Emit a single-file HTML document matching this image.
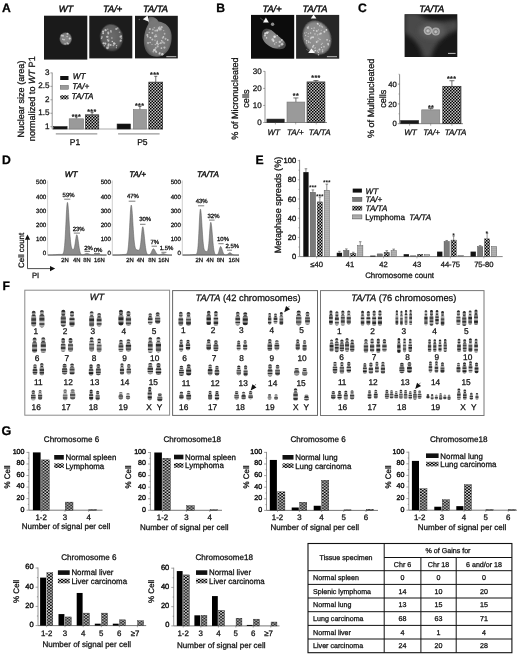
<!DOCTYPE html>
<html><head><meta charset="utf-8"><title>Figure</title>
<style>html,body{margin:0;padding:0;background:#fff;}svg{display:block;}
text{font-family:"Liberation Sans", Arial, sans-serif;stroke:#111;stroke-width:0.28px;text-rendering:geometricPrecision;}</style></head>
<body><svg width="520" height="654" viewBox="0 0 520 654">
<rect width="520" height="654" fill="#fff"/>
<defs>
<pattern id="chk" width="3" height="3" patternUnits="userSpaceOnUse"><rect width="3" height="3" fill="#c4c4c4"/><rect width="1.5" height="1.5" fill="#000"/><rect x="1.5" y="1.5" width="1.5" height="1.5" fill="#000"/></pattern>
<pattern id="chk2" width="3.7" height="2.9" patternUnits="userSpaceOnUse"><rect width="3.7" height="2.9" fill="#d8d8d8"/><rect width="1.85" height="1.45" fill="#000"/><rect x="1.85" y="1.45" width="1.85" height="1.45" fill="#000"/></pattern>
<pattern id="lym" width="3" height="2" patternUnits="userSpaceOnUse"><rect width="3" height="2" fill="#a8a8a8"/><rect y="1.2" width="3" height="0.5" fill="#bdbdbd"/></pattern>
<radialGradient id="nucA1" cx="0.5" cy="0.5" r="0.5"><stop offset="0" stop-color="#8c8c8c"/><stop offset="0.8" stop-color="#7a7a7a"/><stop offset="1" stop-color="#4a4a4a"/></radialGradient>
<radialGradient id="nuc" cx="0.5" cy="0.45" r="0.55"><stop offset="0" stop-color="#6c6c6c"/><stop offset="0.75" stop-color="#5e5e5e"/><stop offset="1" stop-color="#323232"/></radialGradient>
<radialGradient id="nucB2" cx="0.5" cy="0.5" r="0.5"><stop offset="0" stop-color="#969696"/><stop offset="0.85" stop-color="#888"/><stop offset="1" stop-color="#555"/></radialGradient>
<radialGradient id="nucB" cx="0.5" cy="0.5" r="0.5"><stop offset="0" stop-color="#909090"/><stop offset="0.85" stop-color="#808080"/><stop offset="1" stop-color="#4a4a4a"/></radialGradient>
<radialGradient id="cyto" cx="0.5" cy="0.5" r="0.5"><stop offset="0" stop-color="#5a5a5a"/><stop offset="1" stop-color="#2a2a2a" stop-opacity="0"/></radialGradient>
<linearGradient id="cb0" x1="0" y1="0" x2="0" y2="1"><stop offset="0.0" stop-color="#131313"/><stop offset="0.1" stop-color="#292929"/><stop offset="0.15" stop-color="#7d7d7d"/><stop offset="0.22" stop-color="#7d7d7d"/><stop offset="0.27" stop-color="#3a3a3a"/><stop offset="0.31" stop-color="#3a3a3a"/><stop offset="0.36" stop-color="#7c7c7c"/><stop offset="0.424" stop-color="#7c7c7c"/><stop offset="0.467" stop-color="#3b3b3b"/><stop offset="0.537" stop-color="#3b3b3b"/><stop offset="0.585" stop-color="#7e7e7e"/><stop offset="0.652" stop-color="#7e7e7e"/><stop offset="0.698" stop-color="#2d2d2d"/><stop offset="0.755" stop-color="#2d2d2d"/><stop offset="0.794" stop-color="#979797"/><stop offset="0.875" stop-color="#979797"/><stop offset="0.93" stop-color="#333333"/><stop offset="0.97" stop-color="#333333"/><stop offset="1.0" stop-color="#353535"/></linearGradient>
<linearGradient id="cb1" x1="0" y1="0" x2="0" y2="1"><stop offset="0.0" stop-color="#282828"/><stop offset="0.1" stop-color="#1c1c1c"/><stop offset="0.15" stop-color="#787878"/><stop offset="0.22" stop-color="#787878"/><stop offset="0.27" stop-color="#343434"/><stop offset="0.31" stop-color="#343434"/><stop offset="0.36" stop-color="#858585"/><stop offset="0.452" stop-color="#858585"/><stop offset="0.513" stop-color="#1d1d1d"/><stop offset="0.616" stop-color="#1d1d1d"/><stop offset="0.684" stop-color="#888888"/><stop offset="0.772" stop-color="#888888"/><stop offset="0.83" stop-color="#191919"/><stop offset="0.926" stop-color="#191919"/><stop offset="1.0" stop-color="#424242"/></linearGradient>
<linearGradient id="cb2" x1="0" y1="0" x2="0" y2="1"><stop offset="0.0" stop-color="#2b2b2b"/><stop offset="0.1" stop-color="#3c3c3c"/><stop offset="0.15" stop-color="#969696"/><stop offset="0.22" stop-color="#969696"/><stop offset="0.27" stop-color="#303030"/><stop offset="0.31" stop-color="#303030"/><stop offset="0.36" stop-color="#7c7c7c"/><stop offset="0.436" stop-color="#7c7c7c"/><stop offset="0.487" stop-color="#2d2d2d"/><stop offset="0.581" stop-color="#2d2d2d"/><stop offset="0.644" stop-color="#b5b5b5"/><stop offset="0.723" stop-color="#b5b5b5"/><stop offset="0.776" stop-color="#3e3e3e"/><stop offset="0.836" stop-color="#3e3e3e"/><stop offset="0.877" stop-color="#a0a0a0"/><stop offset="0.963" stop-color="#a0a0a0"/><stop offset="1.0" stop-color="#303030"/></linearGradient>
<linearGradient id="cb3" x1="0" y1="0" x2="0" y2="1"><stop offset="0.0" stop-color="#292929"/><stop offset="0.1" stop-color="#383838"/><stop offset="0.15" stop-color="#939393"/><stop offset="0.22" stop-color="#939393"/><stop offset="0.27" stop-color="#424242"/><stop offset="0.31" stop-color="#424242"/><stop offset="0.36" stop-color="#b6b6b6"/><stop offset="0.446" stop-color="#b6b6b6"/><stop offset="0.504" stop-color="#323232"/><stop offset="0.583" stop-color="#323232"/><stop offset="0.636" stop-color="#7c7c7c"/><stop offset="0.706" stop-color="#7c7c7c"/><stop offset="0.753" stop-color="#414141"/><stop offset="0.852" stop-color="#414141"/><stop offset="0.918" stop-color="#828282"/><stop offset="0.97" stop-color="#828282"/><stop offset="1.0" stop-color="#4f4f4f"/></linearGradient>
<linearGradient id="cb4" x1="0" y1="0" x2="0" y2="1"><stop offset="0.0" stop-color="#202020"/><stop offset="0.1" stop-color="#222222"/><stop offset="0.15" stop-color="#8d8d8d"/><stop offset="0.22" stop-color="#8d8d8d"/><stop offset="0.27" stop-color="#353535"/><stop offset="0.31" stop-color="#353535"/><stop offset="0.36" stop-color="#818181"/><stop offset="0.441" stop-color="#818181"/><stop offset="0.495" stop-color="#303030"/><stop offset="0.587" stop-color="#303030"/><stop offset="0.648" stop-color="#a3a3a3"/><stop offset="0.73" stop-color="#a3a3a3"/><stop offset="0.785" stop-color="#3d3d3d"/><stop offset="0.834" stop-color="#3d3d3d"/><stop offset="0.867" stop-color="#a6a6a6"/><stop offset="0.92" stop-color="#a6a6a6"/><stop offset="1.0" stop-color="#303030"/></linearGradient>
<linearGradient id="cb5" x1="0" y1="0" x2="0" y2="1"><stop offset="0.0" stop-color="#262626"/><stop offset="0.1" stop-color="#262626"/><stop offset="0.15" stop-color="#919191"/><stop offset="0.22" stop-color="#919191"/><stop offset="0.27" stop-color="#424242"/><stop offset="0.31" stop-color="#424242"/><stop offset="0.36" stop-color="#7f7f7f"/><stop offset="0.438" stop-color="#7f7f7f"/><stop offset="0.49" stop-color="#373737"/><stop offset="0.576" stop-color="#373737"/><stop offset="0.634" stop-color="#959595"/><stop offset="0.74" stop-color="#959595"/><stop offset="0.81" stop-color="#232323"/><stop offset="0.891" stop-color="#232323"/><stop offset="0.945" stop-color="#b0b0b0"/><stop offset="0.97" stop-color="#b0b0b0"/><stop offset="1.0" stop-color="#484848"/></linearGradient>
<linearGradient id="cb6" x1="0" y1="0" x2="0" y2="1"><stop offset="0.0" stop-color="#2d2d2d"/><stop offset="0.1" stop-color="#1a1a1a"/><stop offset="0.15" stop-color="#787878"/><stop offset="0.22" stop-color="#787878"/><stop offset="0.27" stop-color="#282828"/><stop offset="0.31" stop-color="#282828"/><stop offset="0.36" stop-color="#7a7a7a"/><stop offset="0.435" stop-color="#7a7a7a"/><stop offset="0.486" stop-color="#2e2e2e"/><stop offset="0.549" stop-color="#2e2e2e"/><stop offset="0.591" stop-color="#afafaf"/><stop offset="0.68" stop-color="#afafaf"/><stop offset="0.74" stop-color="#181818"/><stop offset="0.826" stop-color="#181818"/><stop offset="0.883" stop-color="#808080"/><stop offset="0.938" stop-color="#808080"/><stop offset="1.0" stop-color="#505050"/></linearGradient>
<linearGradient id="cb7" x1="0" y1="0" x2="0" y2="1"><stop offset="0.0" stop-color="#262626"/><stop offset="0.1" stop-color="#1d1d1d"/><stop offset="0.15" stop-color="#7d7d7d"/><stop offset="0.22" stop-color="#7d7d7d"/><stop offset="0.27" stop-color="#3b3b3b"/><stop offset="0.31" stop-color="#3b3b3b"/><stop offset="0.36" stop-color="#a8a8a8"/><stop offset="0.462" stop-color="#a8a8a8"/><stop offset="0.53" stop-color="#444444"/><stop offset="0.582" stop-color="#444444"/><stop offset="0.617" stop-color="#7b7b7b"/><stop offset="0.703" stop-color="#7b7b7b"/><stop offset="0.761" stop-color="#282828"/><stop offset="0.868" stop-color="#282828"/><stop offset="0.939" stop-color="#7c7c7c"/><stop offset="0.97" stop-color="#7c7c7c"/><stop offset="1.0" stop-color="#606060"/></linearGradient>
<linearGradient id="cb8" x1="0" y1="0" x2="0" y2="1"><stop offset="0.0" stop-color="#252525"/><stop offset="0.1" stop-color="#323232"/><stop offset="0.15" stop-color="#8e8e8e"/><stop offset="0.22" stop-color="#8e8e8e"/><stop offset="0.27" stop-color="#212121"/><stop offset="0.31" stop-color="#212121"/><stop offset="0.36" stop-color="#8c8c8c"/><stop offset="0.446" stop-color="#8c8c8c"/><stop offset="0.504" stop-color="#323232"/><stop offset="0.605" stop-color="#323232"/><stop offset="0.672" stop-color="#8a8a8a"/><stop offset="0.724" stop-color="#8a8a8a"/><stop offset="0.759" stop-color="#272727"/><stop offset="0.829" stop-color="#272727"/><stop offset="0.876" stop-color="#7f7f7f"/><stop offset="0.969" stop-color="#7f7f7f"/><stop offset="1.0" stop-color="#606060"/></linearGradient>
<linearGradient id="cb9" x1="0" y1="0" x2="0" y2="1"><stop offset="0.0" stop-color="#282828"/><stop offset="0.1" stop-color="#3a3a3a"/><stop offset="0.15" stop-color="#8b8b8b"/><stop offset="0.22" stop-color="#8b8b8b"/><stop offset="0.27" stop-color="#292929"/><stop offset="0.31" stop-color="#292929"/><stop offset="0.36" stop-color="#9d9d9d"/><stop offset="0.463" stop-color="#9d9d9d"/><stop offset="0.531" stop-color="#303030"/><stop offset="0.626" stop-color="#303030"/><stop offset="0.689" stop-color="#a3a3a3"/><stop offset="0.759" stop-color="#a3a3a3"/><stop offset="0.806" stop-color="#404040"/><stop offset="0.885" stop-color="#404040"/><stop offset="0.938" stop-color="#a9a9a9"/><stop offset="0.97" stop-color="#a9a9a9"/><stop offset="1.0" stop-color="#4b4b4b"/></linearGradient>
<linearGradient id="cb10" x1="0" y1="0" x2="0" y2="1"><stop offset="0.0" stop-color="#131313"/><stop offset="0.1" stop-color="#202020"/><stop offset="0.15" stop-color="#959595"/><stop offset="0.22" stop-color="#959595"/><stop offset="0.27" stop-color="#212121"/><stop offset="0.31" stop-color="#212121"/><stop offset="0.36" stop-color="#b1b1b1"/><stop offset="0.429" stop-color="#b1b1b1"/><stop offset="0.475" stop-color="#4a4a4a"/><stop offset="0.541" stop-color="#4a4a4a"/><stop offset="0.585" stop-color="#8c8c8c"/><stop offset="0.68" stop-color="#8c8c8c"/><stop offset="0.743" stop-color="#4f4f4f"/><stop offset="0.822" stop-color="#4f4f4f"/><stop offset="0.875" stop-color="#898989"/><stop offset="0.954" stop-color="#898989"/><stop offset="1.0" stop-color="#454545"/></linearGradient>
<linearGradient id="cb11" x1="0" y1="0" x2="0" y2="1"><stop offset="0.0" stop-color="#303030"/><stop offset="0.1" stop-color="#1e1e1e"/><stop offset="0.15" stop-color="#9a9a9a"/><stop offset="0.22" stop-color="#9a9a9a"/><stop offset="0.27" stop-color="#373737"/><stop offset="0.31" stop-color="#373737"/><stop offset="0.36" stop-color="#a3a3a3"/><stop offset="0.421" stop-color="#a3a3a3"/><stop offset="0.462" stop-color="#383838"/><stop offset="0.516" stop-color="#383838"/><stop offset="0.552" stop-color="#a1a1a1"/><stop offset="0.614" stop-color="#a1a1a1"/><stop offset="0.656" stop-color="#1a1a1a"/><stop offset="0.72" stop-color="#1a1a1a"/><stop offset="0.763" stop-color="#828282"/><stop offset="0.867" stop-color="#828282"/><stop offset="0.936" stop-color="#383838"/><stop offset="0.97" stop-color="#383838"/><stop offset="1.0" stop-color="#3c3c3c"/></linearGradient>
<linearGradient id="cb12" x1="0" y1="0" x2="0" y2="1"><stop offset="0.0" stop-color="#111111"/><stop offset="0.1" stop-color="#242424"/><stop offset="0.15" stop-color="#898989"/><stop offset="0.22" stop-color="#898989"/><stop offset="0.27" stop-color="#444444"/><stop offset="0.31" stop-color="#444444"/><stop offset="0.36" stop-color="#a0a0a0"/><stop offset="0.422" stop-color="#a0a0a0"/><stop offset="0.463" stop-color="#3b3b3b"/><stop offset="0.516" stop-color="#3b3b3b"/><stop offset="0.551" stop-color="#898989"/><stop offset="0.632" stop-color="#898989"/><stop offset="0.685" stop-color="#363636"/><stop offset="0.78" stop-color="#363636"/><stop offset="0.844" stop-color="#aaaaaa"/><stop offset="0.921" stop-color="#aaaaaa"/><stop offset="1.0" stop-color="#313131"/></linearGradient>
<linearGradient id="cb13" x1="0" y1="0" x2="0" y2="1"><stop offset="0.0" stop-color="#202020"/><stop offset="0.1" stop-color="#3c3c3c"/><stop offset="0.15" stop-color="#afafaf"/><stop offset="0.22" stop-color="#afafaf"/><stop offset="0.27" stop-color="#3f3f3f"/><stop offset="0.31" stop-color="#3f3f3f"/><stop offset="0.36" stop-color="#949494"/><stop offset="0.428" stop-color="#949494"/><stop offset="0.474" stop-color="#202020"/><stop offset="0.572" stop-color="#202020"/><stop offset="0.638" stop-color="#787878"/><stop offset="0.723" stop-color="#787878"/><stop offset="0.779" stop-color="#4a4a4a"/><stop offset="0.881" stop-color="#4a4a4a"/><stop offset="0.949" stop-color="#b7b7b7"/><stop offset="0.97" stop-color="#b7b7b7"/><stop offset="1.0" stop-color="#454545"/></linearGradient>
<linearGradient id="cb14" x1="0" y1="0" x2="0" y2="1"><stop offset="0.0" stop-color="#171717"/><stop offset="0.1" stop-color="#1b1b1b"/><stop offset="0.15" stop-color="#8f8f8f"/><stop offset="0.22" stop-color="#8f8f8f"/><stop offset="0.27" stop-color="#3d3d3d"/><stop offset="0.31" stop-color="#3d3d3d"/><stop offset="0.36" stop-color="#adadad"/><stop offset="0.43" stop-color="#adadad"/><stop offset="0.476" stop-color="#252525"/><stop offset="0.543" stop-color="#252525"/><stop offset="0.588" stop-color="#a3a3a3"/><stop offset="0.682" stop-color="#a3a3a3"/><stop offset="0.745" stop-color="#242424"/><stop offset="0.841" stop-color="#242424"/><stop offset="0.906" stop-color="#8f8f8f"/><stop offset="0.97" stop-color="#8f8f8f"/><stop offset="1.0" stop-color="#484848"/></linearGradient>
<linearGradient id="cb15" x1="0" y1="0" x2="0" y2="1"><stop offset="0.0" stop-color="#131313"/><stop offset="0.1" stop-color="#323232"/><stop offset="0.15" stop-color="#909090"/><stop offset="0.22" stop-color="#909090"/><stop offset="0.27" stop-color="#404040"/><stop offset="0.31" stop-color="#404040"/><stop offset="0.36" stop-color="#8e8e8e"/><stop offset="0.424" stop-color="#8e8e8e"/><stop offset="0.467" stop-color="#303030"/><stop offset="0.566" stop-color="#303030"/><stop offset="0.632" stop-color="#9d9d9d"/><stop offset="0.702" stop-color="#9d9d9d"/><stop offset="0.749" stop-color="#282828"/><stop offset="0.804" stop-color="#282828"/><stop offset="0.841" stop-color="#a1a1a1"/><stop offset="0.919" stop-color="#a1a1a1"/><stop offset="1.0" stop-color="#333333"/></linearGradient>
<filter id="bl3" x="-50%" y="-50%" width="200%" height="200%"><feGaussianBlur stdDeviation="0.35"/></filter>
<filter id="bl4" x="-50%" y="-20%" width="200%" height="140%"><feGaussianBlur stdDeviation="0.45"/></filter>
<filter id="bl5" x="-20%" y="-20%" width="140%" height="140%"><feGaussianBlur stdDeviation="0.6"/></filter>
<filter id="bl12" x="-30%" y="-30%" width="160%" height="160%"><feGaussianBlur stdDeviation="1.6"/></filter>
<radialGradient id="nuc3" cx="0.5" cy="0.5" r="0.55"><stop offset="0" stop-color="#858585"/><stop offset="0.8" stop-color="#737373"/><stop offset="1" stop-color="#4c4c4c"/></radialGradient>
<filter id="bl20" x="-30%" y="-30%" width="160%" height="160%"><feGaussianBlur stdDeviation="2.2"/></filter>
<clipPath id="clipC"><rect x="404.6" y="14.2" width="52.7" height="42.8"/></clipPath>
</defs>
<text x="2.00" y="12.00" font-size="12.2" font-weight="bold" fill="#000">A</text>
<text x="65.90" y="11.90" font-size="9.3" text-anchor="middle" font-style="italic" fill="#111" style="stroke-width:0.45px">WT</text>
<text x="112.60" y="11.90" font-size="9.3" text-anchor="middle" font-style="italic" fill="#111" style="stroke-width:0.45px">TA/+</text>
<text x="155.60" y="11.90" font-size="9.3" text-anchor="middle" font-style="italic" fill="#111" style="stroke-width:0.45px">TA/TA</text>
<rect x="44.00" y="15.70" width="43.30" height="43.90" fill="#1a1a1a"/>
<rect x="89.30" y="15.80" width="43.00" height="42.60" fill="#1c1c1c"/>
<rect x="135.00" y="15.80" width="42.80" height="42.60" fill="#1c1c1c"/>
<ellipse cx="65.7" cy="38.8" rx="6.3" ry="6.5" fill="url(#nucA1)" filter="url(#bl5)"/>
<g filter="url(#bl3)">
<circle cx="62.77" cy="39.31" r="0.75" fill="#d4d4d4" fill-opacity="0.82"/>
<circle cx="67.11" cy="33.76" r="0.61" fill="#d4d4d4" fill-opacity="0.93"/>
<circle cx="63.00" cy="35.72" r="1.00" fill="#d4d4d4" fill-opacity="0.76"/>
<circle cx="69.47" cy="38.53" r="0.86" fill="#d4d4d4" fill-opacity="0.62"/>
<circle cx="67.21" cy="43.07" r="0.81" fill="#d4d4d4" fill-opacity="0.88"/>
<circle cx="67.62" cy="33.74" r="0.90" fill="#d4d4d4" fill-opacity="0.82"/>
<circle cx="69.79" cy="38.48" r="0.89" fill="#d4d4d4" fill-opacity="0.95"/>
<circle cx="68.10" cy="43.68" r="0.76" fill="#d4d4d4" fill-opacity="0.91"/>
<circle cx="65.08" cy="43.85" r="0.95" fill="#d4d4d4" fill-opacity="0.59"/>
<circle cx="61.62" cy="35.52" r="0.99" fill="#d4d4d4" fill-opacity="0.75"/>
<circle cx="67.12" cy="36.49" r="0.80" fill="#d4d4d4" fill-opacity="0.72"/>
<circle cx="64.03" cy="39.79" r="0.83" fill="#d4d4d4" fill-opacity="0.96"/>
</g>
<ellipse cx="111.5" cy="37.8" rx="11.4" ry="13.6" fill="url(#nuc)" transform="rotate(-8 111.5 37.8)" filter="url(#bl5)"/>
<g filter="url(#bl3)">
<circle cx="114.01" cy="43.20" r="1.05" fill="#c8c8c8" fill-opacity="0.97"/>
<circle cx="116.39" cy="47.67" r="0.66" fill="#c8c8c8" fill-opacity="0.76"/>
<circle cx="120.54" cy="40.89" r="1.10" fill="#c8c8c8" fill-opacity="0.60"/>
<circle cx="110.87" cy="30.92" r="0.92" fill="#c8c8c8" fill-opacity="0.81"/>
<circle cx="107.00" cy="47.53" r="1.03" fill="#c8c8c8" fill-opacity="0.62"/>
<circle cx="117.56" cy="28.24" r="0.96" fill="#c8c8c8" fill-opacity="0.61"/>
<circle cx="105.57" cy="30.14" r="1.14" fill="#c8c8c8" fill-opacity="0.94"/>
<circle cx="112.30" cy="41.61" r="0.75" fill="#c8c8c8" fill-opacity="0.97"/>
<circle cx="119.53" cy="32.21" r="0.83" fill="#c8c8c8" fill-opacity="0.62"/>
<circle cx="107.45" cy="39.76" r="0.65" fill="#c8c8c8" fill-opacity="0.86"/>
<circle cx="108.19" cy="32.49" r="1.06" fill="#c8c8c8" fill-opacity="0.77"/>
<circle cx="107.74" cy="36.73" r="1.00" fill="#c8c8c8" fill-opacity="0.58"/>
<circle cx="116.60" cy="45.75" r="0.66" fill="#c8c8c8" fill-opacity="0.90"/>
<circle cx="108.77" cy="39.15" r="0.65" fill="#c8c8c8" fill-opacity="0.57"/>
<circle cx="105.31" cy="43.54" r="1.11" fill="#c8c8c8" fill-opacity="0.97"/>
<circle cx="108.33" cy="33.60" r="0.91" fill="#c8c8c8" fill-opacity="0.90"/>
<circle cx="103.50" cy="43.36" r="1.05" fill="#c8c8c8" fill-opacity="0.94"/>
<circle cx="103.16" cy="33.25" r="0.96" fill="#c8c8c8" fill-opacity="0.96"/>
<circle cx="108.24" cy="47.72" r="0.92" fill="#c8c8c8" fill-opacity="0.69"/>
<circle cx="107.76" cy="29.20" r="0.69" fill="#c8c8c8" fill-opacity="0.62"/>
<circle cx="121.43" cy="38.03" r="0.85" fill="#c8c8c8" fill-opacity="0.66"/>
<circle cx="113.42" cy="45.29" r="0.88" fill="#c8c8c8" fill-opacity="0.74"/>
<circle cx="101.97" cy="37.04" r="1.07" fill="#c8c8c8" fill-opacity="0.61"/>
<circle cx="114.16" cy="44.34" r="0.70" fill="#c8c8c8" fill-opacity="0.75"/>
<circle cx="104.34" cy="45.75" r="0.80" fill="#c8c8c8" fill-opacity="0.75"/>
<circle cx="121.21" cy="36.05" r="0.89" fill="#c8c8c8" fill-opacity="0.88"/>
<circle cx="111.07" cy="32.02" r="0.85" fill="#c8c8c8" fill-opacity="0.62"/>
<circle cx="120.88" cy="40.35" r="0.90" fill="#c8c8c8" fill-opacity="0.70"/>
<circle cx="103.12" cy="31.55" r="1.04" fill="#c8c8c8" fill-opacity="0.94"/>
<circle cx="108.67" cy="44.29" r="1.04" fill="#c8c8c8" fill-opacity="0.86"/>
<circle cx="114.85" cy="43.64" r="0.83" fill="#c8c8c8" fill-opacity="0.87"/>
<circle cx="107.03" cy="36.84" r="1.03" fill="#c8c8c8" fill-opacity="0.86"/>
<circle cx="107.29" cy="48.25" r="0.97" fill="#c8c8c8" fill-opacity="0.81"/>
<circle cx="101.54" cy="38.37" r="0.78" fill="#c8c8c8" fill-opacity="0.85"/>
<circle cx="110.74" cy="45.05" r="0.97" fill="#c8c8c8" fill-opacity="0.91"/>
<circle cx="108.40" cy="40.77" r="1.02" fill="#c8c8c8" fill-opacity="0.92"/>
<circle cx="108.44" cy="45.70" r="1.08" fill="#c8c8c8" fill-opacity="0.86"/>
<circle cx="111.87" cy="37.93" r="0.73" fill="#c8c8c8" fill-opacity="0.93"/>
<circle cx="120.42" cy="36.64" r="1.00" fill="#c8c8c8" fill-opacity="0.87"/>
<circle cx="116.20" cy="29.06" r="1.04" fill="#c8c8c8" fill-opacity="0.81"/>
</g>
<path d="M149.0,17.2 C152.5,16.0 156.5,18.0 158.5,21.5 C165.5,22.5 171.0,27 171.6,35 C172.2,45 168.5,52.5 162,55.8 C157,57.8 150.5,56.8 147.2,52.5 C143.6,48 143.4,41 144.3,35.5 C145.1,30 147.0,26 148.6,23.5 C148,21 147.8,18.5 149.0,17.2 Z" fill="url(#nuc3)" filter="url(#bl5)"/>
<path d="M149.2,17.6 C152.5,16.6 156.0,18.5 158.0,22.0 C155,24.5 151,25.5 148.8,24.0 C148.2,21.5 148.0,18.8 149.2,17.6 Z" fill="#7a7a7a" fill-opacity="0.6" filter="url(#bl5)"/>
<g filter="url(#bl3)">
<circle cx="156.55" cy="36.26" r="0.73" fill="#d0d0d0" fill-opacity="0.94"/>
<circle cx="159.83" cy="43.37" r="0.67" fill="#d0d0d0" fill-opacity="0.72"/>
<circle cx="162.79" cy="37.83" r="1.05" fill="#d0d0d0" fill-opacity="0.62"/>
<circle cx="149.90" cy="29.04" r="0.93" fill="#d0d0d0" fill-opacity="0.97"/>
<circle cx="161.40" cy="48.05" r="0.86" fill="#d0d0d0" fill-opacity="0.89"/>
<circle cx="147.32" cy="35.01" r="1.02" fill="#d0d0d0" fill-opacity="0.88"/>
<circle cx="154.31" cy="27.70" r="0.80" fill="#d0d0d0" fill-opacity="0.64"/>
<circle cx="153.95" cy="50.20" r="0.76" fill="#d0d0d0" fill-opacity="0.95"/>
<circle cx="154.99" cy="40.17" r="0.66" fill="#d0d0d0" fill-opacity="0.74"/>
<circle cx="158.75" cy="28.11" r="0.97" fill="#d0d0d0" fill-opacity="0.95"/>
<circle cx="147.94" cy="42.65" r="0.66" fill="#d0d0d0" fill-opacity="0.59"/>
<circle cx="159.72" cy="52.85" r="0.88" fill="#d0d0d0" fill-opacity="0.73"/>
<circle cx="159.66" cy="27.12" r="0.97" fill="#d0d0d0" fill-opacity="0.63"/>
<circle cx="162.64" cy="53.60" r="0.68" fill="#d0d0d0" fill-opacity="0.80"/>
<circle cx="159.11" cy="28.94" r="0.80" fill="#d0d0d0" fill-opacity="1.00"/>
<circle cx="152.01" cy="44.30" r="0.67" fill="#d0d0d0" fill-opacity="0.71"/>
<circle cx="162.66" cy="42.15" r="1.08" fill="#d0d0d0" fill-opacity="0.59"/>
<circle cx="155.81" cy="51.63" r="0.97" fill="#d0d0d0" fill-opacity="0.75"/>
<circle cx="164.62" cy="33.74" r="0.89" fill="#d0d0d0" fill-opacity="0.65"/>
<circle cx="155.87" cy="34.85" r="0.70" fill="#d0d0d0" fill-opacity="0.83"/>
<circle cx="165.54" cy="38.86" r="1.04" fill="#d0d0d0" fill-opacity="0.66"/>
<circle cx="163.51" cy="36.89" r="0.78" fill="#d0d0d0" fill-opacity="0.98"/>
<circle cx="155.02" cy="36.47" r="1.12" fill="#d0d0d0" fill-opacity="0.72"/>
<circle cx="160.70" cy="29.39" r="1.11" fill="#d0d0d0" fill-opacity="0.67"/>
<circle cx="150.37" cy="37.62" r="0.99" fill="#d0d0d0" fill-opacity="0.98"/>
<circle cx="152.89" cy="29.54" r="0.96" fill="#d0d0d0" fill-opacity="0.61"/>
<circle cx="148.09" cy="43.13" r="1.03" fill="#d0d0d0" fill-opacity="0.58"/>
<circle cx="157.68" cy="46.39" r="1.07" fill="#d0d0d0" fill-opacity="0.72"/>
<circle cx="164.46" cy="47.54" r="1.13" fill="#d0d0d0" fill-opacity="0.77"/>
<circle cx="157.31" cy="29.94" r="1.00" fill="#d0d0d0" fill-opacity="0.59"/>
<circle cx="163.69" cy="30.57" r="0.66" fill="#d0d0d0" fill-opacity="0.63"/>
<circle cx="157.19" cy="41.96" r="0.86" fill="#d0d0d0" fill-opacity="0.63"/>
<circle cx="159.47" cy="53.68" r="0.94" fill="#d0d0d0" fill-opacity="0.97"/>
<circle cx="167.74" cy="40.01" r="0.94" fill="#d0d0d0" fill-opacity="0.79"/>
<circle cx="161.69" cy="40.79" r="0.82" fill="#d0d0d0" fill-opacity="0.88"/>
<circle cx="161.72" cy="27.14" r="1.03" fill="#d0d0d0" fill-opacity="0.75"/>
<circle cx="158.35" cy="44.21" r="0.68" fill="#d0d0d0" fill-opacity="0.82"/>
<circle cx="156.51" cy="51.99" r="0.78" fill="#d0d0d0" fill-opacity="0.92"/>
<circle cx="164.17" cy="43.02" r="1.13" fill="#d0d0d0" fill-opacity="0.57"/>
<circle cx="160.87" cy="43.12" r="1.02" fill="#d0d0d0" fill-opacity="0.73"/>
<circle cx="159.29" cy="29.91" r="0.69" fill="#d0d0d0" fill-opacity="0.71"/>
<circle cx="157.42" cy="41.19" r="0.66" fill="#d0d0d0" fill-opacity="0.90"/>
<circle cx="155.13" cy="49.20" r="0.65" fill="#d0d0d0" fill-opacity="0.98"/>
<circle cx="162.26" cy="54.22" r="1.19" fill="#d0d0d0" fill-opacity="0.92"/>
<circle cx="147.68" cy="36.75" r="0.78" fill="#d0d0d0" fill-opacity="0.90"/>
<circle cx="149.24" cy="32.56" r="0.71" fill="#d0d0d0" fill-opacity="0.60"/>
<circle cx="155.90" cy="47.79" r="0.91" fill="#d0d0d0" fill-opacity="0.78"/>
<circle cx="155.37" cy="44.56" r="0.78" fill="#d0d0d0" fill-opacity="0.67"/>
<circle cx="157.14" cy="30.71" r="0.89" fill="#d0d0d0" fill-opacity="0.97"/>
<circle cx="153.40" cy="51.58" r="0.98" fill="#d0d0d0" fill-opacity="0.65"/>
<circle cx="154.38" cy="49.85" r="1.19" fill="#d0d0d0" fill-opacity="0.90"/>
<circle cx="152.44" cy="32.92" r="0.98" fill="#d0d0d0" fill-opacity="0.77"/>
<circle cx="155.69" cy="50.81" r="0.87" fill="#d0d0d0" fill-opacity="0.64"/>
<circle cx="152.34" cy="39.61" r="0.99" fill="#d0d0d0" fill-opacity="0.81"/>
<circle cx="155.18" cy="30.64" r="0.87" fill="#d0d0d0" fill-opacity="0.70"/>
<circle cx="150.10" cy="42.48" r="0.75" fill="#d0d0d0" fill-opacity="0.87"/>
<circle cx="160.35" cy="28.40" r="0.99" fill="#d0d0d0" fill-opacity="0.70"/>
<circle cx="157.16" cy="43.43" r="1.07" fill="#d0d0d0" fill-opacity="0.95"/>
</g>
<circle cx="139.3" cy="19.5" r="0.7" fill="#666"/>
<polygon points="142.8,19.2 147.6,15.6 149.0,21.8" fill="#f6f6f6"/>
<line x1="166.30" y1="56.70" x2="176.30" y2="56.70" stroke="#d8d8d8" stroke-width="0.9"/>
<text x="23.60" y="99.00" font-size="9.1" text-anchor="middle" fill="#111" transform="rotate(-90 23.6 99)">Nuclear size (area)</text>
<text x="35.3" y="98.7" font-size="9.1" text-anchor="middle" fill="#111" transform="rotate(-90 35.3 98.7)">normalized to <tspan font-style="italic">WT</tspan> P1</text>
<line x1="52.20" y1="72.60" x2="52.20" y2="129.20" stroke="#777" stroke-width="0.8"/>
<line x1="50.40" y1="72.90" x2="52.20" y2="72.90" stroke="#666" stroke-width="0.6"/>
<text x="49.60" y="74.80" font-size="8.1" text-anchor="end" fill="#222">3</text>
<line x1="50.40" y1="86.35" x2="52.20" y2="86.35" stroke="#666" stroke-width="0.6"/>
<text x="49.60" y="88.25" font-size="8.1" text-anchor="end" fill="#222">2.5</text>
<line x1="50.40" y1="99.80" x2="52.20" y2="99.80" stroke="#666" stroke-width="0.6"/>
<text x="49.60" y="101.70" font-size="8.1" text-anchor="end" fill="#222">2</text>
<line x1="50.40" y1="113.25" x2="52.20" y2="113.25" stroke="#666" stroke-width="0.6"/>
<text x="49.60" y="115.15" font-size="8.1" text-anchor="end" fill="#222">1.5</text>
<line x1="50.40" y1="126.70" x2="52.20" y2="126.70" stroke="#666" stroke-width="0.6"/>
<text x="49.60" y="128.60" font-size="8.1" text-anchor="end" fill="#222">1</text>
<line x1="52.20" y1="129.00" x2="163.00" y2="129.00" stroke="#888" stroke-width="0.7"/>
<rect x="53.60" y="126.60" width="13.50" height="2.40" fill="#111" stroke="#222" stroke-width="0.6"/>
<line x1="76.40" y1="117.00" x2="76.40" y2="118.80" stroke="#333" stroke-width="0.7"/>
<line x1="74.90" y1="117.00" x2="77.90" y2="117.00" stroke="#333" stroke-width="0.7"/>
<rect x="69.20" y="118.80" width="14.40" height="10.20" fill="#9a9a9a" stroke="#777" stroke-width="0.6"/>
<line x1="92.10" y1="112.60" x2="92.10" y2="114.80" stroke="#333" stroke-width="0.7"/>
<line x1="90.60" y1="112.60" x2="93.60" y2="112.60" stroke="#333" stroke-width="0.7"/>
<rect x="85.40" y="114.80" width="13.40" height="14.20" fill="url(#chk)" stroke="#222" stroke-width="0.6"/>
<rect x="117.10" y="124.00" width="13.30" height="5.00" fill="#111" stroke="#222" stroke-width="0.6"/>
<line x1="139.90" y1="106.50" x2="139.90" y2="109.60" stroke="#333" stroke-width="0.7"/>
<line x1="138.40" y1="106.50" x2="141.40" y2="106.50" stroke="#333" stroke-width="0.7"/>
<rect x="133.30" y="109.60" width="13.20" height="19.40" fill="#9a9a9a" stroke="#777" stroke-width="0.6"/>
<line x1="155.75" y1="76.30" x2="155.75" y2="82.10" stroke="#333" stroke-width="0.7"/>
<line x1="154.25" y1="76.30" x2="157.25" y2="76.30" stroke="#333" stroke-width="0.7"/>
<rect x="148.80" y="82.10" width="13.90" height="46.90" fill="url(#chk)" stroke="#222" stroke-width="0.6"/>
<text x="76.40" y="118.79" font-size="7.0" text-anchor="middle" font-weight="bold" fill="#222" letter-spacing="0.4" style="stroke-width:0.15px">***</text>
<text x="91.90" y="113.79" font-size="7.0" text-anchor="middle" font-weight="bold" fill="#222" letter-spacing="0.4" style="stroke-width:0.15px">***</text>
<text x="139.60" y="107.79" font-size="7.0" text-anchor="middle" font-weight="bold" fill="#222" letter-spacing="0.4" style="stroke-width:0.15px">***</text>
<text x="154.80" y="77.49" font-size="7.0" text-anchor="middle" font-weight="bold" fill="#222" letter-spacing="0.4" style="stroke-width:0.15px">***</text>
<line x1="55.80" y1="133.90" x2="97.30" y2="133.90" stroke="#999" stroke-width="1.1"/>
<line x1="118.10" y1="133.90" x2="159.60" y2="133.90" stroke="#999" stroke-width="1.1"/>
<text x="75.00" y="144.50" font-size="8.5" text-anchor="middle" fill="#111">P1</text>
<text x="142.40" y="144.50" font-size="8.5" text-anchor="middle" fill="#111">P5</text>
<rect x="60.20" y="76.00" width="8.30" height="4.00" fill="#111"/>
<rect x="60.20" y="85.30" width="8.30" height="4.00" fill="#9a9a9a" stroke="#555" stroke-width="0.4"/>
<rect x="60.20" y="95.30" width="8.30" height="4.00" fill="url(#chk)"/>
<text x="72.80" y="79.40" font-size="8.2" font-style="italic" fill="#111">WT</text>
<text x="72.30" y="89.30" font-size="8.2" font-style="italic" fill="#111">TA/+</text>
<text x="71.60" y="99.40" font-size="8.2" font-style="italic" fill="#111">TA/TA</text>
<text x="216.20" y="12.00" font-size="12.2" font-weight="bold" fill="#000">B</text>
<text x="272.00" y="11.90" font-size="9.3" text-anchor="middle" font-style="italic" fill="#111" style="stroke-width:0.45px">TA/+</text>
<text x="315.00" y="11.90" font-size="9.3" text-anchor="middle" font-style="italic" fill="#111" style="stroke-width:0.45px">TA/TA</text>
<rect x="251.00" y="14.90" width="43.20" height="43.80" fill="#0c0c0c"/>
<rect x="296.10" y="14.90" width="43.10" height="43.80" fill="#262626"/>
<path d="M263.0,30.5 C265.5,27.5 270.5,28.0 276.5,34.5 C281.5,39 286.5,41.5 285.8,45.5 C285.0,49.5 279.5,50.0 275.0,48.6 C269.5,47.0 264.5,43.5 262.4,38.5 C261.4,35.5 261.8,32.2 263.0,30.5 Z" fill="url(#nucB)" filter="url(#bl5)"/>
<g filter="url(#bl3)">
<circle cx="272.70" cy="39.48" r="1.21" fill="#e2e2e2" fill-opacity="0.76"/>
<circle cx="273.60" cy="40.45" r="0.80" fill="#e2e2e2" fill-opacity="0.78"/>
<circle cx="274.65" cy="43.98" r="0.75" fill="#e2e2e2" fill-opacity="0.69"/>
<circle cx="276.24" cy="42.55" r="0.79" fill="#e2e2e2" fill-opacity="0.56"/>
<circle cx="277.33" cy="35.57" r="0.80" fill="#e2e2e2" fill-opacity="0.66"/>
<circle cx="265.16" cy="33.26" r="0.94" fill="#e2e2e2" fill-opacity="0.93"/>
<circle cx="273.48" cy="41.10" r="0.97" fill="#e2e2e2" fill-opacity="0.85"/>
<circle cx="274.58" cy="36.81" r="1.25" fill="#e2e2e2" fill-opacity="1.00"/>
<circle cx="279.25" cy="45.78" r="0.87" fill="#e2e2e2" fill-opacity="0.65"/>
<circle cx="279.77" cy="41.87" r="1.17" fill="#e2e2e2" fill-opacity="0.72"/>
<circle cx="282.10" cy="44.35" r="1.24" fill="#e2e2e2" fill-opacity="0.73"/>
<circle cx="264.95" cy="35.41" r="1.13" fill="#e2e2e2" fill-opacity="0.67"/>
<circle cx="267.09" cy="32.70" r="1.23" fill="#e2e2e2" fill-opacity="0.89"/>
<circle cx="268.23" cy="32.25" r="0.76" fill="#e2e2e2" fill-opacity="0.58"/>
<circle cx="281.77" cy="40.08" r="1.01" fill="#e2e2e2" fill-opacity="0.75"/>
<circle cx="266.57" cy="37.88" r="0.77" fill="#e2e2e2" fill-opacity="0.84"/>
</g>
<circle cx="272.6" cy="24.3" r="1.7" fill="#8e8e8e" filter="url(#bl3)"/>
<polygon points="263.0,22.6 268.8,22.6 265.9,17.6" fill="#f6f6f6"/>
<line x1="260.20" y1="18.00" x2="263.60" y2="20.60" stroke="#999" stroke-width="0.5"/>
<ellipse cx="317.0" cy="37.6" rx="14.0" ry="17.6" fill="url(#nucB2)" transform="rotate(-22 317.0 37.6)" filter="url(#bl5)"/>
<g filter="url(#bl3)">
<circle cx="313.53" cy="45.48" r="0.84" fill="#dadada" fill-opacity="0.93"/>
<circle cx="306.27" cy="32.52" r="0.57" fill="#dadada" fill-opacity="0.65"/>
<circle cx="318.07" cy="24.25" r="0.77" fill="#dadada" fill-opacity="0.65"/>
<circle cx="311.30" cy="37.51" r="0.92" fill="#dadada" fill-opacity="0.82"/>
<circle cx="328.07" cy="43.82" r="0.91" fill="#dadada" fill-opacity="0.89"/>
<circle cx="315.47" cy="50.45" r="0.74" fill="#dadada" fill-opacity="0.89"/>
<circle cx="317.67" cy="34.87" r="0.68" fill="#dadada" fill-opacity="0.74"/>
<circle cx="307.94" cy="27.89" r="0.91" fill="#dadada" fill-opacity="0.91"/>
<circle cx="321.30" cy="44.54" r="0.57" fill="#dadada" fill-opacity="0.85"/>
<circle cx="311.73" cy="28.43" r="0.60" fill="#dadada" fill-opacity="0.79"/>
<circle cx="310.65" cy="38.75" r="0.80" fill="#dadada" fill-opacity="0.73"/>
<circle cx="308.13" cy="40.87" r="0.62" fill="#dadada" fill-opacity="0.66"/>
<circle cx="308.13" cy="36.52" r="0.54" fill="#dadada" fill-opacity="0.84"/>
<circle cx="326.43" cy="29.94" r="0.86" fill="#dadada" fill-opacity="0.97"/>
<circle cx="328.37" cy="44.82" r="0.82" fill="#dadada" fill-opacity="0.62"/>
<circle cx="319.42" cy="49.49" r="0.94" fill="#dadada" fill-opacity="0.91"/>
<circle cx="314.24" cy="51.07" r="0.69" fill="#dadada" fill-opacity="0.87"/>
<circle cx="322.16" cy="43.30" r="0.61" fill="#dadada" fill-opacity="0.83"/>
<circle cx="320.03" cy="39.56" r="0.68" fill="#dadada" fill-opacity="0.88"/>
<circle cx="310.75" cy="32.97" r="0.58" fill="#dadada" fill-opacity="0.86"/>
<circle cx="304.47" cy="33.07" r="0.53" fill="#dadada" fill-opacity="0.84"/>
<circle cx="318.86" cy="38.36" r="0.52" fill="#dadada" fill-opacity="0.75"/>
<circle cx="308.33" cy="26.87" r="0.50" fill="#dadada" fill-opacity="1.00"/>
<circle cx="305.61" cy="35.27" r="0.63" fill="#dadada" fill-opacity="0.82"/>
<circle cx="306.60" cy="40.75" r="0.68" fill="#dadada" fill-opacity="0.93"/>
<circle cx="322.62" cy="51.75" r="0.76" fill="#dadada" fill-opacity="0.76"/>
<circle cx="318.55" cy="29.86" r="0.52" fill="#dadada" fill-opacity="0.78"/>
<circle cx="329.63" cy="40.83" r="0.63" fill="#dadada" fill-opacity="0.86"/>
<circle cx="322.36" cy="27.00" r="0.79" fill="#dadada" fill-opacity="0.71"/>
<circle cx="308.35" cy="33.66" r="0.60" fill="#dadada" fill-opacity="0.71"/>
<circle cx="304.79" cy="38.95" r="0.54" fill="#dadada" fill-opacity="0.89"/>
<circle cx="319.74" cy="25.67" r="0.74" fill="#dadada" fill-opacity="0.80"/>
<circle cx="310.48" cy="32.88" r="0.72" fill="#dadada" fill-opacity="0.61"/>
<circle cx="321.26" cy="26.03" r="0.65" fill="#dadada" fill-opacity="0.72"/>
<circle cx="313.00" cy="37.19" r="0.94" fill="#dadada" fill-opacity="1.00"/>
<circle cx="306.59" cy="43.03" r="0.56" fill="#dadada" fill-opacity="0.91"/>
<circle cx="317.56" cy="51.10" r="0.77" fill="#dadada" fill-opacity="0.61"/>
<circle cx="314.94" cy="33.95" r="0.67" fill="#dadada" fill-opacity="0.91"/>
<circle cx="312.86" cy="46.91" r="0.83" fill="#dadada" fill-opacity="0.97"/>
<circle cx="322.58" cy="50.04" r="0.72" fill="#dadada" fill-opacity="0.81"/>
<circle cx="323.99" cy="46.65" r="0.95" fill="#dadada" fill-opacity="0.60"/>
<circle cx="308.80" cy="42.10" r="0.91" fill="#dadada" fill-opacity="0.79"/>
<circle cx="307.19" cy="27.13" r="0.53" fill="#dadada" fill-opacity="0.56"/>
<circle cx="317.62" cy="23.62" r="0.86" fill="#dadada" fill-opacity="0.94"/>
<circle cx="316.69" cy="41.99" r="0.92" fill="#dadada" fill-opacity="0.87"/>
<circle cx="315.21" cy="47.48" r="0.55" fill="#dadada" fill-opacity="0.69"/>
<circle cx="314.94" cy="48.38" r="0.73" fill="#dadada" fill-opacity="0.55"/>
<circle cx="318.32" cy="52.35" r="0.62" fill="#dadada" fill-opacity="0.93"/>
<circle cx="324.37" cy="31.69" r="1.00" fill="#dadada" fill-opacity="0.89"/>
<circle cx="313.73" cy="30.59" r="0.73" fill="#dadada" fill-opacity="0.96"/>
<circle cx="314.16" cy="28.05" r="0.69" fill="#dadada" fill-opacity="0.76"/>
<circle cx="310.54" cy="42.76" r="0.52" fill="#dadada" fill-opacity="0.92"/>
<circle cx="316.77" cy="30.96" r="0.94" fill="#dadada" fill-opacity="0.77"/>
<circle cx="321.57" cy="47.44" r="0.61" fill="#dadada" fill-opacity="0.89"/>
<circle cx="319.67" cy="34.02" r="0.98" fill="#dadada" fill-opacity="0.56"/>
<circle cx="320.86" cy="23.94" r="0.53" fill="#dadada" fill-opacity="0.78"/>
<circle cx="317.99" cy="40.98" r="0.62" fill="#dadada" fill-opacity="0.79"/>
<circle cx="321.22" cy="30.30" r="0.61" fill="#dadada" fill-opacity="0.57"/>
<circle cx="320.88" cy="33.49" r="0.96" fill="#dadada" fill-opacity="0.88"/>
<circle cx="327.06" cy="39.87" r="0.86" fill="#dadada" fill-opacity="0.85"/>
</g>
<polygon points="310.8,18.4 316.4,18.4 313.6,14.4" fill="#f6f6f6"/>
<polygon points="308.2,53.0 315.0,53.0 311.4,48.6" fill="#f6f6f6"/>
<line x1="306.20" y1="49.20" x2="308.80" y2="51.00" stroke="#999" stroke-width="0.5"/>
<circle cx="318.5" cy="54.7" r="0.8" fill="#bbb"/>
<line x1="326.90" y1="56.70" x2="337.00" y2="56.70" stroke="#d0d0d0" stroke-width="0.9"/>
<text x="237.60" y="98.50" font-size="9.1" text-anchor="middle" fill="#111" transform="rotate(-90 237.6 98.5)">% of Micronucleated</text>
<text x="249.20" y="98.60" font-size="9.1" text-anchor="middle" fill="#111" transform="rotate(-90 249.2 98.6)">cells</text>
<line x1="265.00" y1="71.20" x2="265.00" y2="122.50" stroke="#666" stroke-width="0.7"/>
<line x1="263.20" y1="122.50" x2="265.00" y2="122.50" stroke="#666" stroke-width="0.6"/>
<text x="261.70" y="124.70" font-size="8.0" text-anchor="end" fill="#222">0</text>
<line x1="263.20" y1="105.45" x2="265.00" y2="105.45" stroke="#666" stroke-width="0.6"/>
<text x="261.70" y="107.65" font-size="8.0" text-anchor="end" fill="#222">10</text>
<line x1="263.20" y1="88.40" x2="265.00" y2="88.40" stroke="#666" stroke-width="0.6"/>
<text x="261.70" y="90.60" font-size="8.0" text-anchor="end" fill="#222">20</text>
<line x1="263.20" y1="71.35" x2="265.00" y2="71.35" stroke="#666" stroke-width="0.6"/>
<text x="261.70" y="73.55" font-size="8.0" text-anchor="end" fill="#222">30</text>
<line x1="265.00" y1="122.50" x2="327.00" y2="122.50" stroke="#555" stroke-width="0.7"/>
<rect x="266.90" y="119.09" width="17.30" height="3.31" fill="#222" stroke="#222" stroke-width="0.6"/>
<line x1="295.90" y1="97.95" x2="295.90" y2="102.04" stroke="#333" stroke-width="0.7"/>
<line x1="293.40" y1="97.95" x2="298.40" y2="97.95" stroke="#333" stroke-width="0.7"/>
<rect x="287.00" y="102.04" width="17.80" height="20.36" fill="#9a9a9a" stroke="#777" stroke-width="0.6"/>
<line x1="315.95" y1="80.56" x2="315.95" y2="81.92" stroke="#333" stroke-width="0.7"/>
<line x1="313.45" y1="80.56" x2="318.45" y2="80.56" stroke="#333" stroke-width="0.7"/>
<rect x="307.00" y="81.92" width="17.90" height="40.48" fill="url(#chk)" stroke="#222" stroke-width="0.6"/>
<text x="295.90" y="97.79" font-size="7.0" text-anchor="middle" font-weight="bold" fill="#222" letter-spacing="0.4" style="stroke-width:0.15px">**</text>
<text x="316.00" y="80.49" font-size="7.0" text-anchor="middle" font-weight="bold" fill="#222" letter-spacing="0.4" style="stroke-width:0.15px">***</text>
<text x="273.70" y="134.60" font-size="8.1" text-anchor="middle" font-style="italic" fill="#111">WT</text>
<text x="295.40" y="134.60" font-size="8.1" text-anchor="middle" font-style="italic" fill="#111">TA/+</text>
<text x="319.70" y="134.60" font-size="8.1" text-anchor="middle" font-style="italic" fill="#111">TA/TA</text>
<line x1="275.40" y1="122.40" x2="275.40" y2="124.40" stroke="#555" stroke-width="0.5"/>
<line x1="295.70" y1="122.40" x2="295.70" y2="124.40" stroke="#555" stroke-width="0.5"/>
<line x1="316.20" y1="122.40" x2="316.20" y2="124.40" stroke="#555" stroke-width="0.5"/>
<text x="358.00" y="12.00" font-size="12.2" font-weight="bold" fill="#000">C</text>
<text x="431.70" y="11.60" font-size="9.3" text-anchor="middle" font-style="italic" fill="#111" style="stroke-width:0.45px">TA/TA</text>
<rect x="404.60" y="14.20" width="52.70" height="42.80" fill="#181818"/>
<g clip-path="url(#clipC)">
<path d="M404.6,13 L417,13 C422,17 428,21 436,21.5 C445,22 452,20.5 458,19.5 L458,30 C450,32 443,37 438,43 C434,48 432,53 431,58 L423,58 C422,51 419,45 414,40 C410,36.5 407,34 404.6,33 Z" fill="#4a4a4a" filter="url(#bl20)"/>
<ellipse cx="432" cy="31" rx="13" ry="8" fill="#5c5c5c" filter="url(#bl20)"/>
</g>
<g filter="url(#bl3)">
<circle cx="428.0" cy="30.6" r="4.3" fill="#b0b0b0"/><circle cx="428.0" cy="30.8" r="2.3" fill="none" stroke="#7a7a7a" stroke-width="0.9"/><circle cx="427.7" cy="30.9" r="0.9" fill="#c8c8c8"/>
<circle cx="435.8" cy="31.5" r="4.1" fill="#a8a8a8"/><circle cx="435.8" cy="31.7" r="2.2" fill="none" stroke="#767676" stroke-width="0.9"/><circle cx="435.6" cy="31.9" r="0.9" fill="#c4c4c4"/>
</g>
<line x1="448.00" y1="53.40" x2="455.60" y2="53.40" stroke="#d8d8d8" stroke-width="0.9"/>
<text x="374.40" y="98.40" font-size="9.1" text-anchor="middle" fill="#111" transform="rotate(-90 374.4 98.4)">% of Multinucleated</text>
<text x="386.10" y="98.70" font-size="9.1" text-anchor="middle" fill="#111" transform="rotate(-90 386.1 98.7)">cells</text>
<line x1="399.60" y1="74.30" x2="399.60" y2="123.70" stroke="#555" stroke-width="0.7"/>
<line x1="397.80" y1="123.70" x2="399.60" y2="123.70" stroke="#555" stroke-width="0.6"/>
<text x="396.70" y="126.40" font-size="7.7" text-anchor="end" fill="#222">0</text>
<line x1="397.80" y1="103.90" x2="399.60" y2="103.90" stroke="#555" stroke-width="0.6"/>
<text x="396.70" y="106.60" font-size="7.7" text-anchor="end" fill="#222">20</text>
<line x1="397.80" y1="84.10" x2="399.60" y2="84.10" stroke="#555" stroke-width="0.6"/>
<text x="396.70" y="86.80" font-size="7.7" text-anchor="end" fill="#222">40</text>
<line x1="398.40" y1="113.80" x2="399.60" y2="113.80" stroke="#777" stroke-width="0.5"/>
<line x1="398.40" y1="94.00" x2="399.60" y2="94.00" stroke="#777" stroke-width="0.5"/>
<line x1="398.40" y1="74.20" x2="399.60" y2="74.20" stroke="#777" stroke-width="0.5"/>
<line x1="399.60" y1="123.70" x2="463.00" y2="123.70" stroke="#555" stroke-width="0.7"/>
<rect x="400.70" y="120.63" width="17.90" height="3.07" fill="#1a1a1a" stroke="#222" stroke-width="0.6"/>
<line x1="430.75" y1="108.45" x2="430.75" y2="109.84" stroke="#333" stroke-width="0.7"/>
<line x1="428.25" y1="108.45" x2="433.25" y2="108.45" stroke="#333" stroke-width="0.7"/>
<rect x="421.70" y="109.84" width="18.10" height="13.86" fill="#9a9a9a" stroke="#777" stroke-width="0.6"/>
<line x1="451.90" y1="80.73" x2="451.90" y2="86.28" stroke="#333" stroke-width="0.7"/>
<line x1="449.40" y1="80.73" x2="454.40" y2="80.73" stroke="#333" stroke-width="0.7"/>
<rect x="442.80" y="86.28" width="18.20" height="37.42" fill="url(#chk)" stroke="#222" stroke-width="0.6"/>
<text x="431.00" y="110.39" font-size="7.0" text-anchor="middle" font-weight="bold" fill="#222" letter-spacing="0.4" style="stroke-width:0.15px">**</text>
<text x="451.60" y="81.29" font-size="7.0" text-anchor="middle" font-weight="bold" fill="#222" letter-spacing="0.4" style="stroke-width:0.15px">***</text>
<text x="410.50" y="135.30" font-size="8.1" text-anchor="middle" font-style="italic" fill="#111">WT</text>
<text x="431.60" y="135.30" font-size="8.1" text-anchor="middle" font-style="italic" fill="#111">TA/+</text>
<text x="455.60" y="135.30" font-size="8.1" text-anchor="middle" font-style="italic" fill="#111">TA/TA</text>
<line x1="409.60" y1="123.70" x2="409.60" y2="125.70" stroke="#555" stroke-width="0.5"/>
<line x1="430.70" y1="123.70" x2="430.70" y2="125.70" stroke="#555" stroke-width="0.5"/>
<line x1="451.90" y1="123.70" x2="451.90" y2="125.70" stroke="#555" stroke-width="0.5"/>
<text x="2.00" y="164.40" font-size="12.2" font-weight="bold" fill="#000">D</text>
<text x="71.10" y="177.30" font-size="8.2" text-anchor="middle" font-style="italic" fill="#111" style="stroke-width:0.4px">WT</text>
<line x1="47.60" y1="180.50" x2="47.60" y2="255.10" stroke="#bbb" stroke-width="0.7"/>
<text x="46.20" y="184.40" font-size="6.1" text-anchor="end" fill="#222">500</text>
<line x1="46.60" y1="182.30" x2="47.60" y2="182.30" stroke="#bbb" stroke-width="0.5"/>
<text x="46.20" y="198.56" font-size="6.1" text-anchor="end" fill="#222">400</text>
<line x1="46.60" y1="196.46" x2="47.60" y2="196.46" stroke="#bbb" stroke-width="0.5"/>
<text x="46.20" y="212.72" font-size="6.1" text-anchor="end" fill="#222">300</text>
<line x1="46.60" y1="210.62" x2="47.60" y2="210.62" stroke="#bbb" stroke-width="0.5"/>
<text x="46.20" y="226.88" font-size="6.1" text-anchor="end" fill="#222">200</text>
<line x1="46.60" y1="224.78" x2="47.60" y2="224.78" stroke="#bbb" stroke-width="0.5"/>
<text x="46.20" y="241.04" font-size="6.1" text-anchor="end" fill="#222">100</text>
<line x1="46.60" y1="238.94" x2="47.60" y2="238.94" stroke="#bbb" stroke-width="0.5"/>
<text x="46.20" y="255.20" font-size="6.1" text-anchor="end" fill="#222">0</text>
<line x1="46.60" y1="253.10" x2="47.60" y2="253.10" stroke="#bbb" stroke-width="0.5"/>
<path d="M48.10,255.00 L48.10,254.99 L48.35,254.99 L48.60,254.99 L48.85,254.99 L49.10,254.99 L49.35,254.98 L49.60,254.98 L49.85,254.98 L50.10,254.97 L50.35,254.97 L50.60,254.96 L50.85,254.96 L51.10,254.95 L51.35,254.94 L51.60,254.93 L51.85,254.92 L52.10,254.91 L52.35,254.90 L52.60,254.89 L52.85,254.88 L53.10,254.86 L53.35,254.85 L53.60,254.83 L53.85,254.82 L54.10,254.80 L54.35,254.78 L54.60,254.76 L54.85,254.74 L55.10,254.72 L55.35,254.69 L55.60,254.67 L55.85,254.65 L56.10,254.63 L56.35,254.60 L56.60,254.58 L56.85,254.56 L57.10,254.54 L57.35,254.52 L57.60,254.50 L57.85,254.48 L58.10,254.46 L58.35,254.45 L58.60,254.43 L58.85,254.42 L59.10,254.41 L59.35,254.40 L59.60,254.39 L59.85,254.39 L60.10,254.38 L60.35,254.38 L60.60,254.39 L60.85,254.39 L61.10,254.39 L61.35,254.39 L61.60,254.39 L61.85,254.38 L62.10,254.34 L62.35,254.27 L62.60,254.15 L62.85,253.95 L63.10,253.62 L63.35,253.12 L63.60,252.39 L63.85,251.34 L64.10,249.88 L64.35,247.94 L64.60,245.44 L64.85,242.31 L65.10,238.56 L65.35,234.21 L65.60,229.37 L65.85,224.23 L66.10,219.03 L66.35,214.05 L66.60,209.62 L66.85,206.05 L67.10,203.59 L67.35,202.43 L67.60,202.56 L67.85,203.74 L68.10,205.90 L68.35,208.89 L68.60,212.51 L68.85,216.56 L69.10,220.82 L69.35,225.08 L69.60,229.19 L69.85,232.98 L70.10,236.38 L70.35,239.32 L70.60,241.79 L70.85,243.82 L71.10,245.43 L71.35,246.68 L71.60,247.63 L71.85,248.33 L72.10,248.84 L72.35,249.20 L72.60,249.44 L72.85,249.57 L73.10,249.60 L73.35,249.51 L73.60,249.29 L73.85,248.90 L74.10,248.31 L74.35,247.49 L74.60,246.43 L74.85,245.11 L75.10,243.57 L75.35,241.87 L75.60,240.10 L75.85,238.38 L76.10,236.85 L76.35,235.66 L76.60,234.91 L76.85,234.70 L77.10,235.01 L77.35,235.76 L77.60,236.89 L77.85,238.34 L78.10,240.02 L78.35,241.83 L78.60,243.69 L78.85,245.51 L79.10,247.21 L79.35,248.75 L79.60,250.09 L79.85,251.23 L80.10,252.16 L80.35,252.90 L80.60,253.48 L80.85,253.91 L81.10,254.22 L81.35,254.44 L81.60,254.59 L81.85,254.69 L82.10,254.74 L82.35,254.76 L82.60,254.76 L82.85,254.73 L83.10,254.69 L83.35,254.64 L83.60,254.57 L83.85,254.48 L84.10,254.39 L84.35,254.28 L84.60,254.17 L84.85,254.05 L85.10,253.93 L85.35,253.81 L85.60,253.70 L85.85,253.60 L86.10,253.52 L86.35,253.46 L86.60,253.42 L86.85,253.40 L87.10,253.40 L87.35,253.43 L87.60,253.48 L87.85,253.54 L88.10,253.61 L88.35,253.70 L88.60,253.80 L88.85,253.91 L89.10,254.01 L89.35,254.12 L89.60,254.22 L89.85,254.32 L90.10,254.41 L90.35,254.49 L90.60,254.56 L90.85,254.62 L91.10,254.67 L91.35,254.71 L91.60,254.74 L91.85,254.76 L92.10,254.77 L92.35,254.78 L92.60,254.77 L92.85,254.77 L93.10,254.76 L93.35,254.74 L93.60,254.72 L93.85,254.70 L94.10,254.68 L94.35,254.66 L94.60,254.63 L94.85,254.61 L95.10,254.59 L95.35,254.57 L95.60,254.55 L95.85,254.54 L96.10,254.52 L96.35,254.51 L96.60,254.50 L96.85,254.50 L97.10,254.50 L97.35,254.50 L97.60,254.51 L97.85,254.52 L98.10,254.53 L98.35,254.55 L98.60,254.57 L98.85,254.59 L99.10,254.61 L99.35,254.63 L99.60,254.66 L99.85,254.68 L100.10,254.71 L100.35,254.73 L100.60,254.76 L100.85,254.78 L101.10,254.80 L101.35,254.83 L101.60,254.85 L101.85,254.86 L102.10,254.88 L102.35,254.90 L102.60,254.91 L102.85,254.93 L103.10,254.94 L103.35,254.95 L103.60,254.96 L103.85,254.96 L104.10,254.97 L104.35,254.98 L104.60,254.98 L104.85,254.98 L105.10,254.99 L105.35,254.99 L105.60,254.99 L105.85,254.99 L106.10,254.99 L106.35,255.00 L106.50,255.00 Z" fill="#8c8c8c" stroke="#555" stroke-width="0.5"/>
<line x1="47.60" y1="255.10" x2="106.50" y2="255.10" stroke="#666" stroke-width="0.8"/>
<text x="68.60" y="196.70" font-size="6.0" text-anchor="middle" fill="#222">59%</text>
<line x1="64.20" y1="199.20" x2="70.30" y2="199.20" stroke="#444" stroke-width="0.7"/>
<text x="78.70" y="231.00" font-size="6.0" text-anchor="middle" fill="#222">23%</text>
<line x1="73.80" y1="233.10" x2="80.00" y2="233.10" stroke="#444" stroke-width="0.7"/>
<text x="88.50" y="249.80" font-size="6.0" text-anchor="middle" fill="#222">2%</text>
<line x1="84.60" y1="251.50" x2="90.00" y2="251.50" stroke="#444" stroke-width="0.7"/>
<text x="98.00" y="252.10" font-size="6.0" text-anchor="middle" fill="#222">0%</text>
<line x1="94.00" y1="253.60" x2="100.00" y2="253.60" stroke="#444" stroke-width="0.7"/>
<text x="65.00" y="262.00" font-size="5.9" text-anchor="middle" fill="#222">2N</text>
<text x="76.80" y="262.00" font-size="5.9" text-anchor="middle" fill="#222">4N</text>
<text x="87.00" y="262.00" font-size="5.9" text-anchor="middle" fill="#222">8N</text>
<text x="99.40" y="262.00" font-size="5.9" text-anchor="middle" fill="#222">16N</text>
<text x="137.60" y="177.30" font-size="8.2" text-anchor="middle" font-style="italic" fill="#111" style="stroke-width:0.4px">TA/+</text>
<line x1="112.30" y1="180.50" x2="112.30" y2="255.10" stroke="#bbb" stroke-width="0.7"/>
<text x="110.90" y="184.40" font-size="6.1" text-anchor="end" fill="#222">500</text>
<line x1="111.30" y1="182.30" x2="112.30" y2="182.30" stroke="#bbb" stroke-width="0.5"/>
<text x="110.90" y="198.56" font-size="6.1" text-anchor="end" fill="#222">400</text>
<line x1="111.30" y1="196.46" x2="112.30" y2="196.46" stroke="#bbb" stroke-width="0.5"/>
<text x="110.90" y="212.72" font-size="6.1" text-anchor="end" fill="#222">300</text>
<line x1="111.30" y1="210.62" x2="112.30" y2="210.62" stroke="#bbb" stroke-width="0.5"/>
<text x="110.90" y="226.88" font-size="6.1" text-anchor="end" fill="#222">200</text>
<line x1="111.30" y1="224.78" x2="112.30" y2="224.78" stroke="#bbb" stroke-width="0.5"/>
<text x="110.90" y="241.04" font-size="6.1" text-anchor="end" fill="#222">100</text>
<line x1="111.30" y1="238.94" x2="112.30" y2="238.94" stroke="#bbb" stroke-width="0.5"/>
<text x="110.90" y="255.20" font-size="6.1" text-anchor="end" fill="#222">0</text>
<line x1="111.30" y1="253.10" x2="112.30" y2="253.10" stroke="#bbb" stroke-width="0.5"/>
<path d="M112.80,255.00 L112.80,255.00 L113.05,255.00 L113.30,255.00 L113.55,255.00 L113.80,255.00 L114.05,255.00 L114.30,255.00 L114.55,255.00 L114.80,255.00 L115.05,255.00 L115.30,255.00 L115.55,255.00 L115.80,254.99 L116.05,254.99 L116.30,254.99 L116.55,254.99 L116.80,254.99 L117.05,254.98 L117.30,254.98 L117.55,254.97 L117.80,254.97 L118.05,254.96 L118.30,254.95 L118.55,254.94 L118.80,254.93 L119.05,254.92 L119.30,254.90 L119.55,254.88 L119.80,254.87 L120.05,254.85 L120.30,254.82 L120.55,254.80 L120.80,254.77 L121.05,254.75 L121.30,254.72 L121.55,254.69 L121.80,254.66 L122.05,254.63 L122.30,254.60 L122.55,254.57 L122.80,254.54 L123.05,254.51 L123.30,254.49 L123.55,254.46 L123.80,254.44 L124.05,254.42 L124.30,254.41 L124.55,254.40 L124.80,254.38 L125.05,254.37 L125.30,254.36 L125.55,254.35 L125.80,254.32 L126.05,254.26 L126.30,254.17 L126.55,254.02 L126.80,253.77 L127.05,253.38 L127.30,252.79 L127.55,251.93 L127.80,250.73 L128.05,249.09 L128.30,246.95 L128.55,244.22 L128.80,240.90 L129.05,236.98 L129.30,232.55 L129.55,227.75 L129.80,222.79 L130.05,217.93 L130.30,213.48 L130.55,209.73 L130.80,206.96 L131.05,205.39 L131.30,205.09 L131.55,205.88 L131.80,207.63 L132.05,210.23 L132.30,213.52 L132.55,217.29 L132.80,221.34 L133.05,225.46 L133.30,229.47 L133.55,233.22 L133.80,236.61 L134.05,239.57 L134.30,242.07 L134.55,244.11 L134.80,245.73 L135.05,246.98 L135.30,247.90 L135.55,248.57 L135.80,249.03 L136.05,249.35 L136.30,249.56 L136.55,249.70 L136.80,249.79 L137.05,249.86 L137.30,249.93 L137.55,249.99 L137.80,250.06 L138.05,250.12 L138.30,250.17 L138.55,250.19 L138.80,250.16 L139.05,250.04 L139.30,249.78 L139.55,249.34 L139.80,248.65 L140.05,247.66 L140.30,246.31 L140.55,244.59 L140.80,242.49 L141.05,240.08 L141.30,237.44 L141.55,234.73 L141.80,232.13 L142.05,229.84 L142.30,228.08 L142.55,227.00 L142.80,226.73 L143.05,227.17 L143.30,228.15 L143.55,229.64 L143.80,231.53 L144.05,233.74 L144.30,236.14 L144.55,238.62 L144.80,241.07 L145.05,243.40 L145.30,245.54 L145.55,247.45 L145.80,249.10 L146.05,250.48 L146.30,251.61 L146.55,252.51 L146.80,253.20 L147.05,253.73 L147.30,254.12 L147.55,254.39 L147.80,254.59 L148.05,254.71 L148.30,254.79 L148.55,254.83 L148.80,254.83 L149.05,254.80 L149.30,254.74 L149.55,254.64 L149.80,254.49 L150.05,254.30 L150.30,254.05 L150.55,253.73 L150.80,253.34 L151.05,252.89 L151.30,252.38 L151.55,251.82 L151.80,251.24 L152.05,250.66 L152.30,250.10 L152.55,249.62 L152.80,249.22 L153.05,248.95 L153.30,248.81 L153.55,248.82 L153.80,248.94 L154.05,249.15 L154.30,249.46 L154.55,249.84 L154.80,250.27 L155.05,250.75 L155.30,251.24 L155.55,251.73 L155.80,252.21 L156.05,252.66 L156.30,253.06 L156.55,253.43 L156.80,253.75 L157.05,254.02 L157.30,254.24 L157.55,254.42 L157.80,254.56 L158.05,254.67 L158.30,254.74 L158.55,254.79 L158.80,254.82 L159.05,254.83 L159.30,254.82 L159.55,254.79 L159.80,254.74 L160.05,254.68 L160.30,254.61 L160.55,254.52 L160.80,254.42 L161.05,254.31 L161.30,254.20 L161.55,254.08 L161.80,253.97 L162.05,253.86 L162.30,253.76 L162.55,253.69 L162.80,253.63 L163.05,253.60 L163.30,253.60 L163.55,253.62 L163.80,253.66 L164.05,253.72 L164.30,253.80 L164.55,253.89 L164.80,253.98 L165.05,254.09 L165.30,254.19 L165.55,254.30 L165.80,254.40 L166.05,254.49 L166.30,254.58 L166.55,254.66 L166.80,254.72 L167.05,254.78 L167.30,254.83 L167.55,254.87 L167.80,254.90 L168.05,254.93 L168.30,254.95 L168.55,254.96 L168.80,254.97 L169.05,254.98 L169.30,254.99 L169.55,254.99 L169.80,254.99 L170.05,255.00 L170.30,255.00 L170.55,255.00 L170.80,255.00 L171.05,255.00 L171.30,255.00 L171.55,255.00 L171.80,255.00 L172.00,255.00 Z" fill="#8c8c8c" stroke="#555" stroke-width="0.5"/>
<line x1="112.30" y1="255.10" x2="172.00" y2="255.10" stroke="#666" stroke-width="0.8"/>
<text x="132.90" y="198.30" font-size="6.0" text-anchor="middle" fill="#222">47%</text>
<line x1="128.70" y1="201.20" x2="135.40" y2="201.20" stroke="#444" stroke-width="0.7"/>
<text x="145.20" y="221.40" font-size="6.0" text-anchor="middle" fill="#222">30%</text>
<line x1="140.00" y1="224.30" x2="145.50" y2="224.30" stroke="#444" stroke-width="0.7"/>
<text x="154.80" y="244.30" font-size="6.0" text-anchor="middle" fill="#222">7%</text>
<line x1="151.60" y1="246.20" x2="157.00" y2="246.20" stroke="#444" stroke-width="0.7"/>
<text x="166.50" y="250.00" font-size="6.0" text-anchor="middle" fill="#222">1.5%</text>
<line x1="161.40" y1="252.30" x2="166.40" y2="252.30" stroke="#444" stroke-width="0.7"/>
<text x="130.00" y="262.00" font-size="5.9" text-anchor="middle" fill="#222">2N</text>
<text x="140.50" y="262.00" font-size="5.9" text-anchor="middle" fill="#222">4N</text>
<text x="151.90" y="262.00" font-size="5.9" text-anchor="middle" fill="#222">8N</text>
<text x="163.70" y="262.00" font-size="5.9" text-anchor="middle" fill="#222">16N</text>
<text x="207.90" y="177.30" font-size="8.2" text-anchor="middle" font-style="italic" fill="#111" style="stroke-width:0.4px">TA/TA</text>
<line x1="182.30" y1="180.50" x2="182.30" y2="255.10" stroke="#bbb" stroke-width="0.7"/>
<text x="180.90" y="184.40" font-size="6.1" text-anchor="end" fill="#222">500</text>
<line x1="181.30" y1="182.30" x2="182.30" y2="182.30" stroke="#bbb" stroke-width="0.5"/>
<text x="180.90" y="198.56" font-size="6.1" text-anchor="end" fill="#222">400</text>
<line x1="181.30" y1="196.46" x2="182.30" y2="196.46" stroke="#bbb" stroke-width="0.5"/>
<text x="180.90" y="212.72" font-size="6.1" text-anchor="end" fill="#222">300</text>
<line x1="181.30" y1="210.62" x2="182.30" y2="210.62" stroke="#bbb" stroke-width="0.5"/>
<text x="180.90" y="226.88" font-size="6.1" text-anchor="end" fill="#222">200</text>
<line x1="181.30" y1="224.78" x2="182.30" y2="224.78" stroke="#bbb" stroke-width="0.5"/>
<text x="180.90" y="241.04" font-size="6.1" text-anchor="end" fill="#222">100</text>
<line x1="181.30" y1="238.94" x2="182.30" y2="238.94" stroke="#bbb" stroke-width="0.5"/>
<text x="180.90" y="255.20" font-size="6.1" text-anchor="end" fill="#222">0</text>
<line x1="181.30" y1="253.10" x2="182.30" y2="253.10" stroke="#bbb" stroke-width="0.5"/>
<path d="M182.80,255.00 L182.80,255.00 L183.05,255.00 L183.30,255.00 L183.55,255.00 L183.80,255.00 L184.05,255.00 L184.30,255.00 L184.55,255.00 L184.80,255.00 L185.05,255.00 L185.30,255.00 L185.55,255.00 L185.80,255.00 L186.05,254.99 L186.30,254.99 L186.55,254.99 L186.80,254.99 L187.05,254.99 L187.30,254.98 L187.55,254.98 L187.80,254.97 L188.05,254.97 L188.30,254.96 L188.55,254.95 L188.80,254.94 L189.05,254.93 L189.30,254.92 L189.55,254.90 L189.80,254.89 L190.05,254.87 L190.30,254.85 L190.55,254.83 L190.80,254.81 L191.05,254.79 L191.30,254.77 L191.55,254.74 L191.80,254.72 L192.05,254.69 L192.30,254.67 L192.55,254.64 L192.80,254.62 L193.05,254.60 L193.30,254.57 L193.55,254.56 L193.80,254.54 L194.05,254.52 L194.30,254.51 L194.55,254.50 L194.80,254.50 L195.05,254.49 L195.30,254.48 L195.55,254.46 L195.80,254.43 L196.05,254.36 L196.30,254.22 L196.55,253.99 L196.80,253.59 L197.05,252.95 L197.30,251.96 L197.55,250.52 L197.80,248.49 L198.05,245.79 L198.30,242.34 L198.55,238.17 L198.80,233.37 L199.05,228.17 L199.30,222.90 L199.55,217.95 L199.80,213.76 L200.05,210.74 L200.30,209.19 L200.55,209.18 L200.80,210.28 L201.05,212.37 L201.30,215.30 L201.55,218.85 L201.80,222.80 L202.05,226.91 L202.30,230.98 L202.55,234.81 L202.80,238.28 L203.05,241.30 L203.30,243.84 L203.55,245.89 L203.80,247.49 L204.05,248.70 L204.30,249.58 L204.55,250.20 L204.80,250.62 L205.05,250.91 L205.30,251.10 L205.55,251.23 L205.80,251.34 L206.05,251.42 L206.30,251.49 L206.55,251.54 L206.80,251.55 L207.05,251.49 L207.30,251.31 L207.55,250.94 L207.80,250.30 L208.05,249.31 L208.30,247.88 L208.55,245.94 L208.80,243.47 L209.05,240.50 L209.30,237.13 L209.55,233.55 L209.80,230.02 L210.05,226.84 L210.30,224.32 L210.55,222.72 L210.80,222.23 L211.05,222.70 L211.30,223.92 L211.55,225.81 L211.80,228.23 L212.05,231.03 L212.30,234.06 L212.55,237.14 L212.80,240.14 L213.05,242.93 L213.30,245.43 L213.55,247.59 L213.80,249.41 L214.05,250.88 L214.30,252.03 L214.55,252.92 L214.80,253.57 L215.05,254.05 L215.30,254.38 L215.55,254.60 L215.80,254.74 L216.05,254.83 L216.30,254.88 L216.55,254.88 L216.80,254.85 L217.05,254.78 L217.30,254.65 L217.55,254.45 L217.80,254.16 L218.05,253.76 L218.30,253.22 L218.55,252.55 L218.80,251.74 L219.05,250.82 L219.30,249.84 L219.55,248.87 L219.80,247.97 L220.05,247.23 L220.30,246.72 L220.55,246.51 L220.80,246.57 L221.05,246.83 L221.30,247.28 L221.55,247.87 L221.80,248.58 L222.05,249.36 L222.30,250.17 L222.55,250.96 L222.80,251.70 L223.05,252.37 L223.30,252.95 L223.55,253.45 L223.80,253.85 L224.05,254.17 L224.30,254.41 L224.55,254.59 L224.80,254.72 L225.05,254.81 L225.30,254.86 L225.55,254.89 L225.80,254.89 L226.05,254.87 L226.30,254.83 L226.55,254.77 L226.80,254.68 L227.05,254.57 L227.30,254.43 L227.55,254.25 L227.80,254.05 L228.05,253.84 L228.30,253.60 L228.55,253.37 L228.80,253.16 L229.05,252.97 L229.30,252.82 L229.55,252.73 L229.80,252.70 L230.05,252.72 L230.30,252.80 L230.55,252.91 L230.80,253.07 L231.05,253.24 L231.30,253.44 L231.55,253.65 L231.80,253.85 L232.05,254.04 L232.30,254.22 L232.55,254.38 L232.80,254.52 L233.05,254.63 L233.30,254.72 L233.55,254.80 L233.80,254.86 L234.05,254.90 L234.30,254.93 L234.55,254.95 L234.80,254.97 L235.05,254.98 L235.30,254.99 L235.55,254.99 L235.80,255.00 L236.05,255.00 L236.30,255.00 L236.55,255.00 L236.80,255.00 L237.05,255.00 L237.30,255.00 L237.55,255.00 L237.80,255.00 L238.05,255.00 L238.30,255.00 L238.55,255.00 L238.80,255.00 L239.00,255.00 Z" fill="#8c8c8c" stroke="#555" stroke-width="0.5"/>
<line x1="182.30" y1="255.10" x2="239.00" y2="255.10" stroke="#666" stroke-width="0.8"/>
<text x="201.70" y="203.30" font-size="6.0" text-anchor="middle" fill="#222">43%</text>
<line x1="198.00" y1="205.80" x2="204.20" y2="205.80" stroke="#444" stroke-width="0.7"/>
<text x="213.50" y="217.70" font-size="6.0" text-anchor="middle" fill="#222">32%</text>
<line x1="209.00" y1="220.10" x2="214.60" y2="220.10" stroke="#444" stroke-width="0.7"/>
<text x="223.00" y="241.20" font-size="6.0" text-anchor="middle" fill="#222">10%</text>
<line x1="218.40" y1="243.70" x2="223.60" y2="243.70" stroke="#444" stroke-width="0.7"/>
<text x="232.30" y="248.00" font-size="6.0" text-anchor="middle" fill="#222">2.5%</text>
<line x1="227.00" y1="250.20" x2="232.00" y2="250.20" stroke="#444" stroke-width="0.7"/>
<text x="199.20" y="262.00" font-size="5.9" text-anchor="middle" fill="#222">2N</text>
<text x="210.00" y="262.00" font-size="5.9" text-anchor="middle" fill="#222">4N</text>
<text x="220.60" y="262.00" font-size="5.9" text-anchor="middle" fill="#222">8N</text>
<text x="234.00" y="262.00" font-size="5.9" text-anchor="middle" fill="#222">16N</text>
<text x="23.90" y="250.40" font-size="7.9" text-anchor="middle" fill="#111" transform="rotate(-90 23.9 250.4)">Cell count</text>
<line x1="27.50" y1="268.60" x2="27.50" y2="238.50" stroke="#222" stroke-width="0.8"/>
<polygon points="27.5,234.6 24.9,239.8 30.1,239.8" fill="#111"/>
<line x1="27.50" y1="268.60" x2="51.50" y2="268.60" stroke="#222" stroke-width="0.8"/>
<polygon points="55.2,268.6 50.0,266.0 50.0,271.2" fill="#111"/>
<text x="31.90" y="278.40" font-size="7.6" fill="#111">PI</text>
<text x="255.40" y="164.40" font-size="12.2" font-weight="bold" fill="#000">E</text>
<text x="281.00" y="205.00" font-size="9.1" text-anchor="middle" fill="#111" transform="rotate(-90 281.0 205.0)">Metaphase spreads (%)</text>
<line x1="299.60" y1="159.80" x2="299.60" y2="256.60" stroke="#888" stroke-width="1.0"/>
<line x1="297.80" y1="256.60" x2="299.60" y2="256.60" stroke="#666" stroke-width="0.5"/>
<text x="296.10" y="259.10" font-size="7.5" text-anchor="end" fill="#222" style="stroke-width:0.38px">0</text>
<line x1="298.40" y1="247.00" x2="299.60" y2="247.00" stroke="#666" stroke-width="0.5"/>
<line x1="297.80" y1="237.40" x2="299.60" y2="237.40" stroke="#666" stroke-width="0.5"/>
<text x="296.10" y="239.90" font-size="7.5" text-anchor="end" fill="#222" style="stroke-width:0.38px">20</text>
<line x1="298.40" y1="227.80" x2="299.60" y2="227.80" stroke="#666" stroke-width="0.5"/>
<line x1="297.80" y1="218.20" x2="299.60" y2="218.20" stroke="#666" stroke-width="0.5"/>
<text x="296.10" y="220.70" font-size="7.5" text-anchor="end" fill="#222" style="stroke-width:0.38px">40</text>
<line x1="298.40" y1="208.60" x2="299.60" y2="208.60" stroke="#666" stroke-width="0.5"/>
<line x1="297.80" y1="199.00" x2="299.60" y2="199.00" stroke="#666" stroke-width="0.5"/>
<text x="296.10" y="201.50" font-size="7.5" text-anchor="end" fill="#222" style="stroke-width:0.38px">60</text>
<line x1="298.40" y1="189.40" x2="299.60" y2="189.40" stroke="#666" stroke-width="0.5"/>
<line x1="297.80" y1="179.80" x2="299.60" y2="179.80" stroke="#666" stroke-width="0.5"/>
<text x="296.10" y="182.30" font-size="7.5" text-anchor="end" fill="#222" style="stroke-width:0.38px">80</text>
<line x1="298.40" y1="170.20" x2="299.60" y2="170.20" stroke="#666" stroke-width="0.5"/>
<line x1="297.80" y1="160.60" x2="299.60" y2="160.60" stroke="#666" stroke-width="0.5"/>
<text x="296.10" y="163.10" font-size="7.5" text-anchor="end" fill="#222" style="stroke-width:0.38px">100</text>
<line x1="299.60" y1="256.60" x2="502.70" y2="256.60" stroke="#777" stroke-width="0.9"/>
<line x1="305.95" y1="168.76" x2="305.95" y2="172.12" stroke="#444" stroke-width="0.6"/>
<line x1="304.65" y1="168.76" x2="307.25" y2="168.76" stroke="#444" stroke-width="0.6"/>
<rect x="303.30" y="172.12" width="5.30" height="84.48" fill="#111"/>
<line x1="312.90" y1="189.88" x2="312.90" y2="192.28" stroke="#444" stroke-width="0.6"/>
<line x1="311.60" y1="189.88" x2="314.20" y2="189.88" stroke="#444" stroke-width="0.6"/>
<rect x="310.25" y="192.28" width="5.30" height="64.32" fill="#7a7a7a" stroke="#444" stroke-width="0.4"/>
<line x1="319.85" y1="197.08" x2="319.85" y2="201.88" stroke="#444" stroke-width="0.6"/>
<line x1="318.55" y1="197.08" x2="321.15" y2="197.08" stroke="#444" stroke-width="0.6"/>
<rect x="317.20" y="201.88" width="5.30" height="54.72" fill="url(#chk)" stroke="#444" stroke-width="0.4"/>
<line x1="326.80" y1="184.12" x2="326.80" y2="190.36" stroke="#444" stroke-width="0.6"/>
<line x1="325.50" y1="184.12" x2="328.10" y2="184.12" stroke="#444" stroke-width="0.6"/>
<rect x="324.15" y="190.36" width="5.30" height="66.24" fill="url(#lym)" stroke="#444" stroke-width="0.4"/>
<line x1="316.60" y1="256.60" x2="316.60" y2="258.30" stroke="#666" stroke-width="0.5"/>
<text x="316.60" y="267.20" font-size="7.6" text-anchor="middle" fill="#222">≤40</text>
<line x1="339.40" y1="251.32" x2="339.40" y2="252.76" stroke="#444" stroke-width="0.6"/>
<line x1="338.10" y1="251.32" x2="340.70" y2="251.32" stroke="#444" stroke-width="0.6"/>
<rect x="336.75" y="252.76" width="5.30" height="3.84" fill="#111"/>
<line x1="346.35" y1="248.92" x2="346.35" y2="250.36" stroke="#444" stroke-width="0.6"/>
<line x1="345.05" y1="248.92" x2="347.65" y2="248.92" stroke="#444" stroke-width="0.6"/>
<rect x="343.70" y="250.36" width="5.30" height="6.24" fill="#7a7a7a" stroke="#444" stroke-width="0.4"/>
<line x1="353.30" y1="252.28" x2="353.30" y2="253.24" stroke="#444" stroke-width="0.6"/>
<line x1="352.00" y1="252.28" x2="354.60" y2="252.28" stroke="#444" stroke-width="0.6"/>
<rect x="350.65" y="253.24" width="5.30" height="3.36" fill="url(#chk)" stroke="#444" stroke-width="0.4"/>
<line x1="360.25" y1="241.72" x2="360.25" y2="245.56" stroke="#444" stroke-width="0.6"/>
<line x1="358.95" y1="241.72" x2="361.55" y2="241.72" stroke="#444" stroke-width="0.6"/>
<rect x="357.60" y="245.56" width="5.30" height="11.04" fill="url(#lym)" stroke="#444" stroke-width="0.4"/>
<line x1="350.05" y1="256.60" x2="350.05" y2="258.30" stroke="#666" stroke-width="0.5"/>
<text x="350.05" y="267.20" font-size="7.6" text-anchor="middle" fill="#222">41</text>
<rect x="370.20" y="255.64" width="5.30" height="0.96" fill="#111"/>
<rect x="377.15" y="253.91" width="5.30" height="2.69" fill="#7a7a7a" stroke="#444" stroke-width="0.4"/>
<line x1="386.75" y1="250.65" x2="386.75" y2="252.28" stroke="#444" stroke-width="0.6"/>
<line x1="385.45" y1="250.65" x2="388.05" y2="250.65" stroke="#444" stroke-width="0.6"/>
<rect x="384.10" y="252.28" width="5.30" height="4.32" fill="url(#chk)" stroke="#444" stroke-width="0.4"/>
<line x1="393.70" y1="249.11" x2="393.70" y2="250.65" stroke="#444" stroke-width="0.6"/>
<line x1="392.40" y1="249.11" x2="395.00" y2="249.11" stroke="#444" stroke-width="0.6"/>
<rect x="391.05" y="250.65" width="5.30" height="5.95" fill="url(#lym)" stroke="#444" stroke-width="0.4"/>
<line x1="383.50" y1="256.60" x2="383.50" y2="258.30" stroke="#666" stroke-width="0.5"/>
<text x="383.50" y="267.20" font-size="7.6" text-anchor="middle" fill="#222">42</text>
<rect x="403.65" y="254.20" width="5.30" height="2.40" fill="#111"/>
<rect x="410.60" y="255.83" width="5.30" height="0.77" fill="#7a7a7a" stroke="#444" stroke-width="0.4"/>
<rect x="417.55" y="254.20" width="5.30" height="2.40" fill="url(#chk)" stroke="#444" stroke-width="0.4"/>
<rect x="424.50" y="254.68" width="5.30" height="1.92" fill="url(#lym)" stroke="#444" stroke-width="0.4"/>
<line x1="416.95" y1="256.60" x2="416.95" y2="258.30" stroke="#666" stroke-width="0.5"/>
<text x="416.95" y="267.20" font-size="7.6" text-anchor="middle" fill="#222">43</text>
<rect x="437.10" y="251.61" width="5.30" height="4.99" fill="#111"/>
<line x1="446.70" y1="240.47" x2="446.70" y2="241.43" stroke="#444" stroke-width="0.6"/>
<line x1="445.40" y1="240.47" x2="448.00" y2="240.47" stroke="#444" stroke-width="0.6"/>
<rect x="444.05" y="241.43" width="5.30" height="15.17" fill="#7a7a7a" stroke="#444" stroke-width="0.4"/>
<line x1="453.65" y1="235.96" x2="453.65" y2="240.09" stroke="#444" stroke-width="0.6"/>
<line x1="452.35" y1="235.96" x2="454.95" y2="235.96" stroke="#444" stroke-width="0.6"/>
<rect x="451.00" y="240.09" width="5.30" height="16.51" fill="url(#chk)" stroke="#444" stroke-width="0.4"/>
<rect x="457.95" y="255.45" width="5.30" height="1.15" fill="url(#lym)" stroke="#444" stroke-width="0.4"/>
<line x1="450.40" y1="256.60" x2="450.40" y2="258.30" stroke="#666" stroke-width="0.5"/>
<text x="450.40" y="267.20" font-size="7.6" text-anchor="middle" fill="#222">44-75</text>
<rect x="470.55" y="251.61" width="5.30" height="4.99" fill="#111"/>
<line x1="480.15" y1="245.56" x2="480.15" y2="246.52" stroke="#444" stroke-width="0.6"/>
<line x1="478.85" y1="245.56" x2="481.45" y2="245.56" stroke="#444" stroke-width="0.6"/>
<rect x="477.50" y="246.52" width="5.30" height="10.08" fill="#7a7a7a" stroke="#444" stroke-width="0.4"/>
<line x1="487.10" y1="233.08" x2="487.10" y2="238.84" stroke="#444" stroke-width="0.6"/>
<line x1="485.80" y1="233.08" x2="488.40" y2="233.08" stroke="#444" stroke-width="0.6"/>
<rect x="484.45" y="238.84" width="5.30" height="17.76" fill="url(#chk)" stroke="#444" stroke-width="0.4"/>
<rect x="491.40" y="246.52" width="5.30" height="10.08" fill="url(#lym)" stroke="#444" stroke-width="0.4"/>
<line x1="483.85" y1="256.60" x2="483.85" y2="258.30" stroke="#666" stroke-width="0.5"/>
<text x="483.85" y="267.20" font-size="7.6" text-anchor="middle" fill="#222">75-80</text>
<text x="399.60" y="278.00" font-size="7.9" text-anchor="middle" fill="#222">Chromosome count</text>
<text x="313.10" y="189.48" font-size="5.4" text-anchor="middle" font-weight="bold" fill="#222" letter-spacing="0.4" style="stroke-width:0.15px">***</text>
<text x="320.00" y="197.68" font-size="5.4" text-anchor="middle" font-weight="bold" fill="#222" letter-spacing="0.4" style="stroke-width:0.15px">***</text>
<text x="327.10" y="184.28" font-size="5.4" text-anchor="middle" font-weight="bold" fill="#222" letter-spacing="0.4" style="stroke-width:0.15px">***</text>
<text x="453.70" y="236.78" font-size="5.4" text-anchor="middle" font-weight="bold" fill="#222" letter-spacing="0.4" style="stroke-width:0.15px">*</text>
<text x="487.00" y="235.08" font-size="5.4" text-anchor="middle" font-weight="bold" fill="#222" letter-spacing="0.4" style="stroke-width:0.15px">*</text>
<rect x="352.70" y="188.60" width="9.20" height="4.00" fill="#111"/>
<text x="365.60" y="193.50" font-size="8.1" font-style="italic" fill="#111">WT</text>
<rect x="352.70" y="197.37" width="9.20" height="4.00" fill="#7a7a7a" stroke="#444" stroke-width="0.5"/>
<text x="365.60" y="202.27" font-size="8.1" font-style="italic" fill="#111">TA/+</text>
<rect x="352.70" y="206.14" width="9.20" height="4.00" fill="url(#chk)" stroke="#444" stroke-width="0.5"/>
<text x="365.60" y="211.04" font-size="8.1" font-style="italic" fill="#111">TA/TA</text>
<rect x="352.70" y="214.91" width="9.20" height="4.00" fill="url(#lym)" stroke="#444" stroke-width="0.5"/>
<text x="365.3" y="219.8" font-size="8.1" fill="#111" word-spacing="2">Lymphoma <tspan font-style="italic">TA/TA</tspan></text>
<text x="2.60" y="289.60" font-size="12.2" font-weight="bold" fill="#000">F</text>
<rect x="24.80" y="290.20" width="144.80" height="125.00" fill="none" stroke="#8a8a8a" stroke-width="1.0"/>
<rect x="172.60" y="290.60" width="144.90" height="124.80" fill="none" stroke="#666" stroke-width="1.0"/>
<rect x="320.50" y="290.60" width="163.50" height="124.90" fill="none" stroke="#777" stroke-width="1.0"/>
<text x="97.00" y="300.40" font-size="9.2" text-anchor="middle" font-style="italic" fill="#111">WT</text>
<text x="248.0" y="301.3" font-size="9.3" text-anchor="middle" fill="#111"><tspan font-style="italic">TA/TA</tspan> (42 chromosomes)</text>
<text x="403.8" y="300.9" font-size="9.3" text-anchor="middle" fill="#111"><tspan font-style="italic">TA/TA</tspan> (76 chromosomes)</text>
<path d="M33.70,310.85 h0.00 a1.90,1.90 0 0 1 1.90,1.90 v0.80 a1.90,1.90 0 0 1 -1.90,1.90 h-0.00 a1.90,1.90 0 0 1 -1.90,-1.90 v-0.80 a1.90,1.90 0 0 1 1.90,-1.90 Z M33.31,314.85 h0.78 a2.05,2.05 0 0 1 2.05,2.05 v7.49 a2.05,2.05 0 0 1 -2.05,2.05 h-0.78 a2.05,2.05 0 0 1 -2.05,-2.05 v-7.49 a2.05,2.05 0 0 1 2.05,-2.05 Z" fill="url(#cb8)" fill-opacity="0.95" filter="url(#bl4)"/>
<path d="M41.90,309.88 h0.00 a2.00,2.00 0 0 1 2.00,2.00 v0.89 a2.00,2.00 0 0 1 -2.00,2.00 h-0.00 a2.00,2.00 0 0 1 -2.00,-2.00 v-0.89 a2.00,2.00 0 0 1 2.00,-2.00 Z M41.49,314.18 h0.82 a2.16,2.16 0 0 1 2.16,2.16 v9.01 a2.16,2.16 0 0 1 -2.16,2.16 h-0.82 a2.16,2.16 0 0 1 -2.16,-2.16 v-9.01 a2.16,2.16 0 0 1 2.16,-2.16 Z" fill="url(#cb2)" fill-opacity="0.95" filter="url(#bl4)"/>
<text x="35.70" y="334.20" font-size="8.3" text-anchor="middle" fill="#111">1</text>
<path d="M63.30,309.87 h0.00 a2.00,2.00 0 0 1 2.00,2.00 v2.11 a2.00,2.00 0 0 1 -2.00,2.00 h-0.00 a2.00,2.00 0 0 1 -2.00,-2.00 v-2.11 a2.00,2.00 0 0 1 2.00,-2.00 Z M62.89,315.37 h0.82 a2.15,2.15 0 0 1 2.15,2.15 v7.08 a2.15,2.15 0 0 1 -2.15,2.15 h-0.82 a2.15,2.15 0 0 1 -2.15,-2.15 v-7.08 a2.15,2.15 0 0 1 2.15,-2.15 Z" fill="url(#cb0)" fill-opacity="0.95" filter="url(#bl4)"/>
<path d="M72.00,310.96 h0.00 a2.00,2.00 0 0 1 2.00,2.00 v2.01 a2.00,2.00 0 0 1 -2.00,2.00 h-0.00 a2.00,2.00 0 0 1 -2.00,-2.00 v-2.01 a2.00,2.00 0 0 1 2.00,-2.00 Z M71.59,316.38 h0.82 a2.16,2.16 0 0 1 2.16,2.16 v6.33 a2.16,2.16 0 0 1 -2.16,2.16 h-0.82 a2.16,2.16 0 0 1 -2.16,-2.16 v-6.33 a2.16,2.16 0 0 1 2.16,-2.16 Z" fill="url(#cb14)" fill-opacity="0.95" filter="url(#bl4)"/>
<text x="65.10" y="334.20" font-size="8.3" text-anchor="middle" fill="#111">2</text>
<path d="M91.65,311.21 h0.00 a1.89,1.89 0 0 1 1.89,1.89 v0.98 a1.89,1.89 0 0 1 -1.89,1.89 h-0.00 a1.89,1.89 0 0 1 -1.89,-1.89 v-0.98 a1.89,1.89 0 0 1 1.89,-1.89 Z M91.26,315.38 h0.78 a2.04,2.04 0 0 1 2.04,2.04 v7.86 a2.04,2.04 0 0 1 -2.04,2.04 h-0.78 a2.04,2.04 0 0 1 -2.04,-2.04 v-7.86 a2.04,2.04 0 0 1 2.04,-2.04 Z" fill="url(#cb13)" fill-opacity="0.95" filter="url(#bl4)"/>
<path d="M99.15,312.92 h0.00 a1.90,1.90 0 0 1 1.90,1.90 v0.67 a1.90,1.90 0 0 1 -1.90,1.90 h-0.00 a1.90,1.90 0 0 1 -1.90,-1.90 v-0.67 a1.90,1.90 0 0 1 1.90,-1.90 Z M98.76,316.80 h0.78 a2.05,2.05 0 0 1 2.05,2.05 v5.71 a2.05,2.05 0 0 1 -2.05,2.05 h-0.78 a2.05,2.05 0 0 1 -2.05,-2.05 v-5.71 a2.05,2.05 0 0 1 2.05,-2.05 Z" fill="url(#cb2)" fill-opacity="0.95" filter="url(#bl4)"/>
<text x="92.80" y="334.20" font-size="8.3" text-anchor="middle" fill="#111">3</text>
<path d="M120.95,309.82 h0.00 a2.01,2.01 0 0 1 2.01,2.01 v1.36 a2.01,2.01 0 0 1 -2.01,2.01 h-0.00 a2.01,2.01 0 0 1 -2.01,-2.01 v-1.36 a2.01,2.01 0 0 1 2.01,-2.01 Z M120.54,314.59 h0.82 a2.16,2.16 0 0 1 2.16,2.16 v6.58 a2.16,2.16 0 0 1 -2.16,2.16 h-0.82 a2.16,2.16 0 0 1 -2.16,-2.16 v-6.58 a2.16,2.16 0 0 1 2.16,-2.16 Z" fill="url(#cb1)" fill-opacity="0.95" filter="url(#bl4)"/>
<path d="M128.45,310.95 h0.00 a2.04,2.04 0 0 1 2.04,2.04 v1.15 a2.04,2.04 0 0 1 -2.04,2.04 h-0.00 a2.04,2.04 0 0 1 -2.04,-2.04 v-1.15 a2.04,2.04 0 0 1 2.04,-2.04 Z M128.03,315.58 h0.84 a2.19,2.19 0 0 1 2.19,2.19 v5.70 a2.19,2.19 0 0 1 -2.19,2.19 h-0.84 a2.19,2.19 0 0 1 -2.19,-2.19 v-5.70 a2.19,2.19 0 0 1 2.19,-2.19 Z" fill="url(#cb9)" fill-opacity="0.95" filter="url(#bl4)"/>
<text x="123.90" y="334.20" font-size="8.3" text-anchor="middle" fill="#111">4</text>
<path d="M150.22,313.25 h0.00 a1.79,1.79 0 0 1 1.79,1.79 v0.03 a1.79,1.79 0 0 1 -1.79,1.79 h-0.00 a1.79,1.79 0 0 1 -1.79,-1.79 v-0.03 a1.79,1.79 0 0 1 1.79,-1.79 Z M149.86,316.25 h0.73 a1.92,1.92 0 0 1 1.92,1.92 v4.37 a1.92,1.92 0 0 1 -1.92,1.92 h-0.73 a1.92,1.92 0 0 1 -1.92,-1.92 v-4.37 a1.92,1.92 0 0 1 1.92,-1.92 Z" fill="url(#cb2)" fill-opacity="0.95" filter="url(#bl4)"/>
<path d="M157.59,312.22 h0.17 a1.94,1.94 0 0 1 1.94,1.94 v0.00 a1.94,1.94 0 0 1 -1.94,1.94 h-0.17 a1.94,1.94 0 0 1 -1.94,-1.94 v-0.00 a1.94,1.94 0 0 1 1.94,-1.94 Z M157.26,315.51 h0.83 a2.18,2.18 0 0 1 2.18,2.18 v3.85 a2.18,2.18 0 0 1 -2.18,2.18 h-0.83 a2.18,2.18 0 0 1 -2.18,-2.18 v-3.85 a2.18,2.18 0 0 1 2.18,-2.18 Z" fill="url(#cb7)" fill-opacity="0.95" filter="url(#bl4)"/>
<text x="154.00" y="334.20" font-size="8.3" text-anchor="middle" fill="#111">5</text>
<path d="M34.60,337.62 h0.00 a1.94,1.94 0 0 1 1.94,1.94 v0.74 a1.94,1.94 0 0 1 -1.94,1.94 h-0.00 a1.94,1.94 0 0 1 -1.94,-1.94 v-0.74 a1.94,1.94 0 0 1 1.94,-1.94 Z M34.20,341.63 h0.79 a2.09,2.09 0 0 1 2.09,2.09 v6.95 a2.09,2.09 0 0 1 -2.09,2.09 h-0.79 a2.09,2.09 0 0 1 -2.09,-2.09 v-6.95 a2.09,2.09 0 0 1 2.09,-2.09 Z" fill="url(#cb5)" fill-opacity="0.95" filter="url(#bl4)"/>
<path d="M43.30,337.28 h0.00 a2.01,2.01 0 0 1 2.01,2.01 v0.65 a2.01,2.01 0 0 1 -2.01,2.01 h-0.00 a2.01,2.01 0 0 1 -2.01,-2.01 v-0.65 a2.01,2.01 0 0 1 2.01,-2.01 Z M42.89,341.35 h0.82 a2.17,2.17 0 0 1 2.17,2.17 v7.22 a2.17,2.17 0 0 1 -2.17,2.17 h-0.82 a2.17,2.17 0 0 1 -2.17,-2.17 v-7.22 a2.17,2.17 0 0 1 2.17,-2.17 Z" fill="url(#cb2)" fill-opacity="0.95" filter="url(#bl4)"/>
<text x="37.00" y="360.50" font-size="8.3" text-anchor="middle" fill="#111">6</text>
<path d="M63.18,338.11 h0.00 a1.82,1.82 0 0 1 1.82,1.82 v1.75 a1.82,1.82 0 0 1 -1.82,1.82 h-0.00 a1.82,1.82 0 0 1 -1.82,-1.82 v-1.75 a1.82,1.82 0 0 1 1.82,-1.82 Z M62.80,342.90 h0.74 a1.96,1.96 0 0 1 1.96,1.96 v4.94 a1.96,1.96 0 0 1 -1.96,1.96 h-0.74 a1.96,1.96 0 0 1 -1.96,-1.96 v-4.94 a1.96,1.96 0 0 1 1.96,-1.96 Z" fill="url(#cb12)" fill-opacity="0.95" filter="url(#bl4)"/>
<path d="M70.52,338.04 h0.00 a1.98,1.98 0 0 1 1.98,1.98 v1.23 a1.98,1.98 0 0 1 -1.98,1.98 h-0.00 a1.98,1.98 0 0 1 -1.98,-1.98 v-1.23 a1.98,1.98 0 0 1 1.98,-1.98 Z M70.12,342.63 h0.81 a2.13,2.13 0 0 1 2.13,2.13 v4.93 a2.13,2.13 0 0 1 -2.13,2.13 h-0.81 a2.13,2.13 0 0 1 -2.13,-2.13 v-4.93 a2.13,2.13 0 0 1 2.13,-2.13 Z" fill="url(#cb10)" fill-opacity="0.95" filter="url(#bl4)"/>
<text x="66.80" y="360.50" font-size="8.3" text-anchor="middle" fill="#111">7</text>
<path d="M91.65,337.21 h0.00 a1.91,1.91 0 0 1 1.91,1.91 v0.33 a1.91,1.91 0 0 1 -1.91,1.91 h-0.00 a1.91,1.91 0 0 1 -1.91,-1.91 v-0.33 a1.91,1.91 0 0 1 1.91,-1.91 Z M91.26,340.77 h0.78 a2.06,2.06 0 0 1 2.06,2.06 v6.67 a2.06,2.06 0 0 1 -2.06,2.06 h-0.78 a2.06,2.06 0 0 1 -2.06,-2.06 v-6.67 a2.06,2.06 0 0 1 2.06,-2.06 Z" fill="url(#cb10)" fill-opacity="0.95" filter="url(#bl4)"/>
<path d="M99.15,338.44 h0.00 a1.85,1.85 0 0 1 1.85,1.85 v1.06 a1.85,1.85 0 0 1 -1.85,1.85 h-0.00 a1.85,1.85 0 0 1 -1.85,-1.85 v-1.06 a1.85,1.85 0 0 1 1.85,-1.85 Z M98.77,342.61 h0.76 a2.00,2.00 0 0 1 2.00,2.00 v5.74 a2.00,2.00 0 0 1 -2.00,2.00 h-0.76 a2.00,2.00 0 0 1 -2.00,-2.00 v-5.74 a2.00,2.00 0 0 1 2.00,-2.00 Z" fill="url(#cb10)" fill-opacity="0.95" filter="url(#bl4)"/>
<text x="94.10" y="360.50" font-size="8.3" text-anchor="middle" fill="#111">8</text>
<path d="M120.95,339.79 h0.00 a1.87,1.87 0 0 1 1.87,1.87 v0.17 a1.87,1.87 0 0 1 -1.87,1.87 h-0.00 a1.87,1.87 0 0 1 -1.87,-1.87 v-0.17 a1.87,1.87 0 0 1 1.87,-1.87 Z M120.57,343.10 h0.77 a2.01,2.01 0 0 1 2.01,2.01 v4.94 a2.01,2.01 0 0 1 -2.01,2.01 h-0.77 a2.01,2.01 0 0 1 -2.01,-2.01 v-4.94 a2.01,2.01 0 0 1 2.01,-2.01 Z" fill="url(#cb4)" fill-opacity="0.95" filter="url(#bl4)"/>
<path d="M128.45,339.21 h0.00 a2.06,2.06 0 0 1 2.06,2.06 v0.02 a2.06,2.06 0 0 1 -2.06,2.06 h-0.00 a2.06,2.06 0 0 1 -2.06,-2.06 v-0.02 a2.06,2.06 0 0 1 2.06,-2.06 Z M128.03,342.75 h0.84 a2.22,2.22 0 0 1 2.22,2.22 v4.31 a2.22,2.22 0 0 1 -2.22,2.22 h-0.84 a2.22,2.22 0 0 1 -2.22,-2.22 v-4.31 a2.22,2.22 0 0 1 2.22,-2.22 Z" fill="url(#cb13)" fill-opacity="0.95" filter="url(#bl4)"/>
<text x="124.60" y="360.50" font-size="8.3" text-anchor="middle" fill="#111">9</text>
<path d="M150.30,337.19 h0.00 a1.85,1.85 0 0 1 1.85,1.85 v0.78 a1.85,1.85 0 0 1 -1.85,1.85 h-0.00 a1.85,1.85 0 0 1 -1.85,-1.85 v-0.78 a1.85,1.85 0 0 1 1.85,-1.85 Z M149.92,341.08 h0.76 a2.00,2.00 0 0 1 2.00,2.00 v7.93 a2.00,2.00 0 0 1 -2.00,2.00 h-0.76 a2.00,2.00 0 0 1 -2.00,-2.00 v-7.93 a2.00,2.00 0 0 1 2.00,-2.00 Z" fill="url(#cb15)" fill-opacity="0.95" filter="url(#bl4)"/>
<path d="M158.40,337.00 h0.00 a2.01,2.01 0 0 1 2.01,2.01 v1.01 a2.01,2.01 0 0 1 -2.01,2.01 h-0.00 a2.01,2.01 0 0 1 -2.01,-2.01 v-1.01 a2.01,2.01 0 0 1 2.01,-2.01 Z M157.99,341.42 h0.82 a2.16,2.16 0 0 1 2.16,2.16 v6.70 a2.16,2.16 0 0 1 -2.16,2.16 h-0.82 a2.16,2.16 0 0 1 -2.16,-2.16 v-6.70 a2.16,2.16 0 0 1 2.16,-2.16 Z" fill="url(#cb13)" fill-opacity="0.95" filter="url(#bl4)"/>
<text x="154.70" y="360.50" font-size="8.3" text-anchor="middle" fill="#111">10</text>
<path d="M35.00,364.17 h0.00 a1.79,1.79 0 0 1 1.79,1.79 v0.69 a1.79,1.79 0 0 1 -1.79,1.79 h-0.00 a1.79,1.79 0 0 1 -1.79,-1.79 v-0.69 a1.79,1.79 0 0 1 1.79,-1.79 Z M34.63,367.86 h0.74 a1.93,1.93 0 0 1 1.93,1.93 v3.18 a1.93,1.93 0 0 1 -1.93,1.93 h-0.74 a1.93,1.93 0 0 1 -1.93,-1.93 v-3.18 a1.93,1.93 0 0 1 1.93,-1.93 Z" fill="url(#cb8)" fill-opacity="0.95" filter="url(#bl4)"/>
<path d="M41.80,363.12 h0.00 a1.74,1.74 0 0 1 1.74,1.74 v0.53 a1.74,1.74 0 0 1 -1.74,1.74 h-0.00 a1.74,1.74 0 0 1 -1.74,-1.74 v-0.53 a1.74,1.74 0 0 1 1.74,-1.74 Z M41.44,366.54 h0.71 a1.88,1.88 0 0 1 1.88,1.88 v4.99 a1.88,1.88 0 0 1 -1.88,1.88 h-0.71 a1.88,1.88 0 0 1 -1.88,-1.88 v-4.99 a1.88,1.88 0 0 1 1.88,-1.88 Z" fill="url(#cb8)" fill-opacity="0.95" filter="url(#bl4)"/>
<text x="38.40" y="384.50" font-size="8.3" text-anchor="middle" fill="#111">11</text>
<path d="M64.62,363.63 h0.00 a2.05,2.05 0 0 1 2.05,2.05 v0.22 a2.05,2.05 0 0 1 -2.05,2.05 h-0.00 a2.05,2.05 0 0 1 -2.05,-2.05 v-0.22 a2.05,2.05 0 0 1 2.05,-2.05 Z M64.20,367.36 h0.84 a2.21,2.21 0 0 1 2.21,2.21 v2.65 a2.21,2.21 0 0 1 -2.21,2.21 h-0.84 a2.21,2.21 0 0 1 -2.21,-2.21 v-2.65 a2.21,2.21 0 0 1 2.21,-2.21 Z" fill="url(#cb0)" fill-opacity="0.95" filter="url(#bl4)"/>
<path d="M71.89,363.57 h0.37 a1.74,1.74 0 0 1 1.74,1.74 v0.00 a1.74,1.74 0 0 1 -1.74,1.74 h-0.37 a1.74,1.74 0 0 1 -1.74,-1.74 v-0.00 a1.74,1.74 0 0 1 1.74,-1.74 Z M71.68,366.45 h0.79 a2.07,2.07 0 0 1 2.07,2.07 v4.36 a2.07,2.07 0 0 1 -2.07,2.07 h-0.79 a2.07,2.07 0 0 1 -2.07,-2.07 v-4.36 a2.07,2.07 0 0 1 2.07,-2.07 Z" fill="url(#cb5)" fill-opacity="0.95" filter="url(#bl4)"/>
<text x="68.20" y="384.50" font-size="8.3" text-anchor="middle" fill="#111">12</text>
<path d="M91.05,364.23 h0.00 a1.76,1.76 0 0 1 1.76,1.76 v0.80 a1.76,1.76 0 0 1 -1.76,1.76 h-0.00 a1.76,1.76 0 0 1 -1.76,-1.76 v-0.80 a1.76,1.76 0 0 1 1.76,-1.76 Z M90.69,367.95 h0.72 a1.90,1.90 0 0 1 1.90,1.90 v3.71 a1.90,1.90 0 0 1 -1.90,1.90 h-0.72 a1.90,1.90 0 0 1 -1.90,-1.90 v-3.71 a1.90,1.90 0 0 1 1.90,-1.90 Z" fill="url(#cb6)" fill-opacity="0.95" filter="url(#bl4)"/>
<path d="M98.35,364.07 h0.00 a1.89,1.89 0 0 1 1.89,1.89 v0.19 a1.89,1.89 0 0 1 -1.89,1.89 h-0.00 a1.89,1.89 0 0 1 -1.89,-1.89 v-0.19 a1.89,1.89 0 0 1 1.89,-1.89 Z M97.96,367.44 h0.78 a2.04,2.04 0 0 1 2.04,2.04 v3.85 a2.04,2.04 0 0 1 -2.04,2.04 h-0.78 a2.04,2.04 0 0 1 -2.04,-2.04 v-3.85 a2.04,2.04 0 0 1 2.04,-2.04 Z" fill="url(#cb0)" fill-opacity="0.95" filter="url(#bl4)"/>
<text x="94.70" y="384.50" font-size="8.3" text-anchor="middle" fill="#111">13</text>
<path d="M122.00,363.30 h0.00 a1.61,1.61 0 0 1 1.61,1.61 v0.47 a1.61,1.61 0 0 1 -1.61,1.61 h-0.00 a1.61,1.61 0 0 1 -1.61,-1.61 v-0.47 a1.61,1.61 0 0 1 1.61,-1.61 Z M121.67,366.38 h0.66 a1.73,1.73 0 0 1 1.73,1.73 v4.91 a1.73,1.73 0 0 1 -1.73,1.73 h-0.66 a1.73,1.73 0 0 1 -1.73,-1.73 v-4.91 a1.73,1.73 0 0 1 1.73,-1.73 Z" fill="url(#cb9)" fill-opacity="0.95" filter="url(#bl4)"/>
<path d="M128.80,364.12 h0.00 a1.75,1.75 0 0 1 1.75,1.75 v0.74 a1.75,1.75 0 0 1 -1.75,1.75 h-0.00 a1.75,1.75 0 0 1 -1.75,-1.75 v-0.74 a1.75,1.75 0 0 1 1.75,-1.75 Z M128.44,367.77 h0.72 a1.89,1.89 0 0 1 1.89,1.89 v2.77 a1.89,1.89 0 0 1 -1.89,1.89 h-0.72 a1.89,1.89 0 0 1 -1.89,-1.89 v-2.77 a1.89,1.89 0 0 1 1.89,-1.89 Z" fill="url(#cb15)" fill-opacity="0.95" filter="url(#bl4)"/>
<text x="124.80" y="384.50" font-size="8.3" text-anchor="middle" fill="#111">14</text>
<path d="M149.96,362.96 h0.68 a1.77,1.77 0 0 1 1.77,1.77 v0.00 a1.77,1.77 0 0 1 -1.77,1.77 h-0.68 a1.77,1.77 0 0 1 -1.77,-1.77 v-0.00 a1.77,1.77 0 0 1 1.77,-1.77 Z M149.87,365.90 h0.87 a2.28,2.28 0 0 1 2.28,2.28 v3.83 a2.28,2.28 0 0 1 -2.28,2.28 h-0.87 a2.28,2.28 0 0 1 -2.28,-2.28 v-3.83 a2.28,2.28 0 0 1 2.28,-2.28 Z" fill="url(#cb15)" fill-opacity="0.95" filter="url(#bl4)"/>
<path d="M158.50,362.95 h0.00 a2.11,2.11 0 0 1 2.11,2.11 v0.37 a2.11,2.11 0 0 1 -2.11,2.11 h-0.00 a2.11,2.11 0 0 1 -2.11,-2.11 v-0.37 a2.11,2.11 0 0 1 2.11,-2.11 Z M158.07,366.94 h0.86 a2.27,2.27 0 0 1 2.27,2.27 v3.53 a2.27,2.27 0 0 1 -2.27,2.27 h-0.86 a2.27,2.27 0 0 1 -2.27,-2.27 v-3.53 a2.27,2.27 0 0 1 2.27,-2.27 Z" fill="url(#cb6)" fill-opacity="0.95" filter="url(#bl4)"/>
<text x="153.30" y="384.50" font-size="8.3" text-anchor="middle" fill="#111">15</text>
<path d="M33.30,390.34 h0.00 a1.80,1.80 0 0 1 1.80,1.80 v0.19 a1.80,1.80 0 0 1 -1.80,1.80 h-0.00 a1.80,1.80 0 0 1 -1.80,-1.80 v-0.19 a1.80,1.80 0 0 1 1.80,-1.80 Z M32.93,393.53 h0.74 a1.94,1.94 0 0 1 1.94,1.94 v2.96 a1.94,1.94 0 0 1 -1.94,1.94 h-0.74 a1.94,1.94 0 0 1 -1.94,-1.94 v-2.96 a1.94,1.94 0 0 1 1.94,-1.94 Z" fill="url(#cb12)" fill-opacity="0.95" filter="url(#bl4)"/>
<path d="M40.05,389.89 h0.09 a1.56,1.56 0 0 1 1.56,1.56 v0.00 a1.56,1.56 0 0 1 -1.56,1.56 h-0.09 a1.56,1.56 0 0 1 -1.56,-1.56 v-0.00 a1.56,1.56 0 0 1 1.56,-1.56 Z M39.77,392.41 h0.66 a1.73,1.73 0 0 1 1.73,1.73 v4.20 a1.73,1.73 0 0 1 -1.73,1.73 h-0.66 a1.73,1.73 0 0 1 -1.73,-1.73 v-4.20 a1.73,1.73 0 0 1 1.73,-1.73 Z" fill="url(#cb3)" fill-opacity="0.95" filter="url(#bl4)"/>
<text x="36.20" y="409.60" font-size="8.3" text-anchor="middle" fill="#111">16</text>
<path d="M65.15,389.14 h0.00 a1.79,1.79 0 0 1 1.79,1.79 v0.59 a1.79,1.79 0 0 1 -1.79,1.79 h-0.00 a1.79,1.79 0 0 1 -1.79,-1.79 v-0.59 a1.79,1.79 0 0 1 1.79,-1.79 Z M64.78,392.71 h0.74 a1.93,1.93 0 0 1 1.93,1.93 v3.56 a1.93,1.93 0 0 1 -1.93,1.93 h-0.74 a1.93,1.93 0 0 1 -1.93,-1.93 v-3.56 a1.93,1.93 0 0 1 1.93,-1.93 Z" fill="url(#cb7)" fill-opacity="0.75" filter="url(#bl4)"/>
<path d="M72.17,389.21 h0.96 a1.57,1.57 0 0 1 1.57,1.57 v0.00 a1.57,1.57 0 0 1 -1.57,1.57 h-0.96 a1.57,1.57 0 0 1 -1.57,-1.57 v-0.00 a1.57,1.57 0 0 1 1.57,-1.57 Z M72.23,391.74 h0.84 a2.20,2.20 0 0 1 2.20,2.20 v3.25 a2.20,2.20 0 0 1 -2.20,2.20 h-0.84 a2.20,2.20 0 0 1 -2.20,-2.20 v-3.25 a2.20,2.20 0 0 1 2.20,-2.20 Z" fill="url(#cb1)" fill-opacity="0.75" filter="url(#bl4)"/>
<text x="66.00" y="409.60" font-size="8.3" text-anchor="middle" fill="#111">17</text>
<path d="M91.15,389.53 h0.00 a1.57,1.57 0 0 1 1.57,1.57 v0.98 a1.57,1.57 0 0 1 -1.57,1.57 h-0.00 a1.57,1.57 0 0 1 -1.57,-1.57 v-0.98 a1.57,1.57 0 0 1 1.57,-1.57 Z M90.83,393.05 h0.64 a1.69,1.69 0 0 1 1.69,1.69 v3.88 a1.69,1.69 0 0 1 -1.69,1.69 h-0.64 a1.69,1.69 0 0 1 -1.69,-1.69 v-3.88 a1.69,1.69 0 0 1 1.69,-1.69 Z" fill="url(#cb6)" fill-opacity="0.95" filter="url(#bl4)"/>
<path d="M97.65,390.69 h0.00 a1.63,1.63 0 0 1 1.63,1.63 v0.54 a1.63,1.63 0 0 1 -1.63,1.63 h-0.00 a1.63,1.63 0 0 1 -1.63,-1.63 v-0.54 a1.63,1.63 0 0 1 1.63,-1.63 Z M97.32,393.88 h0.67 a1.75,1.75 0 0 1 1.75,1.75 v2.78 a1.75,1.75 0 0 1 -1.75,1.75 h-0.67 a1.75,1.75 0 0 1 -1.75,-1.75 v-2.78 a1.75,1.75 0 0 1 1.75,-1.75 Z" fill="url(#cb7)" fill-opacity="0.95" filter="url(#bl4)"/>
<text x="93.30" y="409.60" font-size="8.3" text-anchor="middle" fill="#111">18</text>
<path d="M120.37,392.14 h0.86 a1.36,1.36 0 0 1 1.36,1.36 v0.00 a1.36,1.36 0 0 1 -1.36,1.36 h-0.86 a1.36,1.36 0 0 1 -1.36,-1.36 v-0.00 a1.36,1.36 0 0 1 1.36,-1.36 Z M120.43,394.26 h0.73 a1.92,1.92 0 0 1 1.92,1.92 v1.35 a1.92,1.92 0 0 1 -1.92,1.92 h-0.73 a1.92,1.92 0 0 1 -1.92,-1.92 v-1.35 a1.92,1.92 0 0 1 1.92,-1.92 Z" fill="url(#cb13)" fill-opacity="0.85" filter="url(#bl4)"/>
<path d="M127.58,393.35 h0.83 a1.29,1.29 0 0 1 1.29,1.29 v0.00 a1.29,1.29 0 0 1 -1.29,1.29 h-0.83 a1.29,1.29 0 0 1 -1.29,-1.29 v-0.00 a1.29,1.29 0 0 1 1.29,-1.29 Z M127.65,395.33 h0.70 a1.83,1.83 0 0 1 1.83,1.83 v0.39 a1.83,1.83 0 0 1 -1.83,1.83 h-0.70 a1.83,1.83 0 0 1 -1.83,-1.83 v-0.39 a1.83,1.83 0 0 1 1.83,-1.83 Z" fill="url(#cb3)" fill-opacity="0.85" filter="url(#bl4)"/>
<text x="123.20" y="409.60" font-size="8.3" text-anchor="middle" fill="#111">19</text>
<path d="M149.75,386.84 h0.00 a1.63,1.63 0 0 1 1.63,1.63 v1.28 a1.63,1.63 0 0 1 -1.63,1.63 h-0.00 a1.63,1.63 0 0 1 -1.63,-1.63 v-1.28 a1.63,1.63 0 0 1 1.63,-1.63 Z M149.42,390.79 h0.67 a1.75,1.75 0 0 1 1.75,1.75 v5.97 a1.75,1.75 0 0 1 -1.75,1.75 h-0.67 a1.75,1.75 0 0 1 -1.75,-1.75 v-5.97 a1.75,1.75 0 0 1 1.75,-1.75 Z" fill="url(#cb6)" fill-opacity="0.95" filter="url(#bl4)"/>
<text x="149.10" y="409.60" font-size="8.3" text-anchor="middle" fill="#111">X</text>
<path d="M159.07,393.46 h1.46 a1.28,1.28 0 0 1 1.28,1.28 v0.00 a1.28,1.28 0 0 1 -1.28,1.28 h-1.46 a1.28,1.28 0 0 1 -1.28,-1.28 v-0.00 a1.28,1.28 0 0 1 1.28,-1.28 Z M159.39,395.42 h0.82 a2.17,2.17 0 0 1 2.17,2.17 v1.57 a2.17,2.17 0 0 1 -2.17,2.17 h-0.82 a2.17,2.17 0 0 1 -2.17,-2.17 v-1.57 a2.17,2.17 0 0 1 2.17,-2.17 Z" fill="url(#cb7)" fill-opacity="0.95" filter="url(#bl4)"/>
<text x="159.40" y="409.60" font-size="8.3" text-anchor="middle" fill="#111">Y</text>
<path d="M180.80,311.85 h0.00 a1.84,1.84 0 0 1 1.84,1.84 v1.90 a1.84,1.84 0 0 1 -1.84,1.84 h-0.00 a1.84,1.84 0 0 1 -1.84,-1.84 v-1.90 a1.84,1.84 0 0 1 1.84,-1.84 Z M180.42,316.83 h0.76 a1.98,1.98 0 0 1 1.98,1.98 v4.89 a1.98,1.98 0 0 1 -1.98,1.98 h-0.76 a1.98,1.98 0 0 1 -1.98,-1.98 v-4.89 a1.98,1.98 0 0 1 1.98,-1.98 Z" fill="url(#cb3)" fill-opacity="0.95" filter="url(#bl4)"/>
<path d="M188.50,311.90 h0.00 a1.88,1.88 0 0 1 1.88,1.88 v1.01 a1.88,1.88 0 0 1 -1.88,1.88 h-0.00 a1.88,1.88 0 0 1 -1.88,-1.88 v-1.01 a1.88,1.88 0 0 1 1.88,-1.88 Z M188.12,316.07 h0.77 a2.02,2.02 0 0 1 2.02,2.02 v5.75 a2.02,2.02 0 0 1 -2.02,2.02 h-0.77 a2.02,2.02 0 0 1 -2.02,-2.02 v-5.75 a2.02,2.02 0 0 1 2.02,-2.02 Z" fill="url(#cb7)" fill-opacity="0.95" filter="url(#bl4)"/>
<text x="183.40" y="332.80" font-size="8.3" text-anchor="middle" fill="#111">1</text>
<path d="M208.70,310.78 h0.00 a1.73,1.73 0 0 1 1.73,1.73 v0.55 a1.73,1.73 0 0 1 -1.73,1.73 h-0.00 a1.73,1.73 0 0 1 -1.73,-1.73 v-0.55 a1.73,1.73 0 0 1 1.73,-1.73 Z M208.34,314.20 h0.71 a1.86,1.86 0 0 1 1.86,1.86 v7.07 a1.86,1.86 0 0 1 -1.86,1.86 h-0.71 a1.86,1.86 0 0 1 -1.86,-1.86 v-7.07 a1.86,1.86 0 0 1 1.86,-1.86 Z" fill="url(#cb1)" fill-opacity="0.95" filter="url(#bl4)"/>
<path d="M215.90,311.10 h0.00 a1.76,1.76 0 0 1 1.76,1.76 v1.82 a1.76,1.76 0 0 1 -1.76,1.76 h-0.00 a1.76,1.76 0 0 1 -1.76,-1.76 v-1.82 a1.76,1.76 0 0 1 1.76,-1.76 Z M215.54,315.86 h0.72 a1.90,1.90 0 0 1 1.90,1.90 v6.13 a1.90,1.90 0 0 1 -1.90,1.90 h-0.72 a1.90,1.90 0 0 1 -1.90,-1.90 v-6.13 a1.90,1.90 0 0 1 1.90,-1.90 Z" fill="url(#cb14)" fill-opacity="0.95" filter="url(#bl4)"/>
<text x="213.00" y="332.80" font-size="8.3" text-anchor="middle" fill="#111">2</text>
<path d="M237.75,311.71 h0.00 a1.84,1.84 0 0 1 1.84,1.84 v0.75 a1.84,1.84 0 0 1 -1.84,1.84 h-0.00 a1.84,1.84 0 0 1 -1.84,-1.84 v-0.75 a1.84,1.84 0 0 1 1.84,-1.84 Z M237.37,315.53 h0.75 a1.98,1.98 0 0 1 1.98,1.98 v6.09 a1.98,1.98 0 0 1 -1.98,1.98 h-0.75 a1.98,1.98 0 0 1 -1.98,-1.98 v-6.09 a1.98,1.98 0 0 1 1.98,-1.98 Z" fill="url(#cb15)" fill-opacity="0.95" filter="url(#bl4)"/>
<path d="M245.16,312.14 h0.19 a1.92,1.92 0 0 1 1.92,1.92 v0.00 a1.92,1.92 0 0 1 -1.92,1.92 h-0.19 a1.92,1.92 0 0 1 -1.92,-1.92 v-0.00 a1.92,1.92 0 0 1 1.92,-1.92 Z M244.84,315.38 h0.83 a2.17,2.17 0 0 1 2.17,2.17 v5.55 a2.17,2.17 0 0 1 -2.17,2.17 h-0.83 a2.17,2.17 0 0 1 -2.17,-2.17 v-5.55 a2.17,2.17 0 0 1 2.17,-2.17 Z" fill="url(#cb1)" fill-opacity="0.95" filter="url(#bl4)"/>
<text x="241.30" y="332.80" font-size="8.3" text-anchor="middle" fill="#111">3</text>
<path d="M269.67,312.95 h0.00 a1.32,1.32 0 0 1 1.32,1.32 v1.42 a1.32,1.32 0 0 1 -1.32,1.32 h-0.00 a1.32,1.32 0 0 1 -1.32,-1.32 v-1.42 a1.32,1.32 0 0 1 1.32,-1.32 Z M269.40,316.41 h0.54 a1.42,1.42 0 0 1 1.42,1.42 v5.19 a1.42,1.42 0 0 1 -1.42,1.42 h-0.54 a1.42,1.42 0 0 1 -1.42,-1.42 v-5.19 a1.42,1.42 0 0 1 1.42,-1.42 Z" fill="url(#cb5)" fill-opacity="0.95" filter="url(#bl4)"/>
<path d="M275.50,313.43 h0.00 a1.46,1.46 0 0 1 1.46,1.46 v0.47 a1.46,1.46 0 0 1 -1.46,1.46 h-0.00 a1.46,1.46 0 0 1 -1.46,-1.46 v-0.47 a1.46,1.46 0 0 1 1.46,-1.46 Z M275.20,316.21 h0.60 a1.57,1.57 0 0 1 1.57,1.57 v4.45 a1.57,1.57 0 0 1 -1.57,1.57 h-0.60 a1.57,1.57 0 0 1 -1.57,-1.57 v-4.45 a1.57,1.57 0 0 1 1.57,-1.57 Z" fill="url(#cb2)" fill-opacity="0.95" filter="url(#bl4)"/>
<path d="M281.33,312.12 h0.00 a1.44,1.44 0 0 1 1.44,1.44 v0.89 a1.44,1.44 0 0 1 -1.44,1.44 h-0.00 a1.44,1.44 0 0 1 -1.44,-1.44 v-0.89 a1.44,1.44 0 0 1 1.44,-1.44 Z M281.04,315.28 h0.59 a1.55,1.55 0 0 1 1.55,1.55 v6.66 a1.55,1.55 0 0 1 -1.55,1.55 h-0.59 a1.55,1.55 0 0 1 -1.55,-1.55 v-6.66 a1.55,1.55 0 0 1 1.55,-1.55 Z" fill="url(#cb7)" fill-opacity="0.95" filter="url(#bl4)"/>
<text x="271.80" y="332.80" font-size="8.3" text-anchor="middle" fill="#111">4</text>
<path d="M298.70,310.55 h0.00 a2.11,2.11 0 0 1 2.11,2.11 v0.31 a2.11,2.11 0 0 1 -2.11,2.11 h-0.00 a2.11,2.11 0 0 1 -2.11,-2.11 v-0.31 a2.11,2.11 0 0 1 2.11,-2.11 Z M298.27,314.47 h0.87 a2.27,2.27 0 0 1 2.27,2.27 v6.37 a2.27,2.27 0 0 1 -2.27,2.27 h-0.87 a2.27,2.27 0 0 1 -2.27,-2.27 v-6.37 a2.27,2.27 0 0 1 2.27,-2.27 Z" fill="url(#cb10)" fill-opacity="0.95" filter="url(#bl4)"/>
<path d="M307.50,311.69 h0.00 a1.87,1.87 0 0 1 1.87,1.87 v1.02 a1.87,1.87 0 0 1 -1.87,1.87 h-0.00 a1.87,1.87 0 0 1 -1.87,-1.87 v-1.02 a1.87,1.87 0 0 1 1.87,-1.87 Z M307.12,315.84 h0.77 a2.01,2.01 0 0 1 2.01,2.01 v4.90 a2.01,2.01 0 0 1 -2.01,2.01 h-0.77 a2.01,2.01 0 0 1 -2.01,-2.01 v-4.90 a2.01,2.01 0 0 1 2.01,-2.01 Z" fill="url(#cb12)" fill-opacity="0.95" filter="url(#bl4)"/>
<text x="301.50" y="332.80" font-size="8.3" text-anchor="middle" fill="#111">5</text>
<path d="M181.20,339.52 h0.00 a1.55,1.55 0 0 1 1.55,1.55 v1.27 a1.55,1.55 0 0 1 -1.55,1.55 h-0.00 a1.55,1.55 0 0 1 -1.55,-1.55 v-1.27 a1.55,1.55 0 0 1 1.55,-1.55 Z M180.88,343.29 h0.63 a1.67,1.67 0 0 1 1.67,1.67 v4.87 a1.67,1.67 0 0 1 -1.67,1.67 h-0.63 a1.67,1.67 0 0 1 -1.67,-1.67 v-4.87 a1.67,1.67 0 0 1 1.67,-1.67 Z" fill="url(#cb2)" fill-opacity="0.95" filter="url(#bl4)"/>
<path d="M187.97,339.71 h0.05 a1.65,1.65 0 0 1 1.65,1.65 v0.00 a1.65,1.65 0 0 1 -1.65,1.65 h-0.05 a1.65,1.65 0 0 1 -1.65,-1.65 v-0.00 a1.65,1.65 0 0 1 1.65,-1.65 Z M187.66,342.41 h0.69 a1.80,1.80 0 0 1 1.80,1.80 v4.23 a1.80,1.80 0 0 1 -1.80,1.80 h-0.69 a1.80,1.80 0 0 1 -1.80,-1.80 v-4.23 a1.80,1.80 0 0 1 1.80,-1.80 Z" fill="url(#cb6)" fill-opacity="0.95" filter="url(#bl4)"/>
<text x="184.60" y="360.80" font-size="8.3" text-anchor="middle" fill="#111">6</text>
<path d="M208.62,339.33 h0.16 a1.71,1.71 0 0 1 1.71,1.71 v0.00 a1.71,1.71 0 0 1 -1.71,1.71 h-0.16 a1.71,1.71 0 0 1 -1.71,-1.71 v-0.00 a1.71,1.71 0 0 1 1.71,-1.71 Z M208.33,342.14 h0.73 a1.93,1.93 0 0 1 1.93,1.93 v4.21 a1.93,1.93 0 0 1 -1.93,1.93 h-0.73 a1.93,1.93 0 0 1 -1.93,-1.93 v-4.21 a1.93,1.93 0 0 1 1.93,-1.93 Z" fill="url(#cb7)" fill-opacity="0.95" filter="url(#bl4)"/>
<path d="M215.90,340.20 h0.00 a1.87,1.87 0 0 1 1.87,1.87 v0.21 a1.87,1.87 0 0 1 -1.87,1.87 h-0.00 a1.87,1.87 0 0 1 -1.87,-1.87 v-0.21 a1.87,1.87 0 0 1 1.87,-1.87 Z M215.52,343.56 h0.77 a2.02,2.02 0 0 1 2.02,2.02 v3.56 a2.02,2.02 0 0 1 -2.02,2.02 h-0.77 a2.02,2.02 0 0 1 -2.02,-2.02 v-3.56 a2.02,2.02 0 0 1 2.02,-2.02 Z" fill="url(#cb0)" fill-opacity="0.95" filter="url(#bl4)"/>
<text x="214.10" y="360.80" font-size="8.3" text-anchor="middle" fill="#111">7</text>
<path d="M238.65,340.38 h0.00 a1.50,1.50 0 0 1 1.50,1.50 v1.02 a1.50,1.50 0 0 1 -1.50,1.50 h-0.00 a1.50,1.50 0 0 1 -1.50,-1.50 v-1.02 a1.50,1.50 0 0 1 1.50,-1.50 Z M238.34,343.80 h0.62 a1.62,1.62 0 0 1 1.62,1.62 v3.22 a1.62,1.62 0 0 1 -1.62,1.62 h-0.62 a1.62,1.62 0 0 1 -1.62,-1.62 v-3.22 a1.62,1.62 0 0 1 1.62,-1.62 Z" fill="url(#cb4)" fill-opacity="0.95" filter="url(#bl4)"/>
<path d="M245.15,340.04 h0.00 a1.58,1.58 0 0 1 1.58,1.58 v0.79 a1.58,1.58 0 0 1 -1.58,1.58 h-0.00 a1.58,1.58 0 0 1 -1.58,-1.58 v-0.79 a1.58,1.58 0 0 1 1.58,-1.58 Z M244.83,343.39 h0.65 a1.71,1.71 0 0 1 1.71,1.71 v3.53 a1.71,1.71 0 0 1 -1.71,1.71 h-0.65 a1.71,1.71 0 0 1 -1.71,-1.71 v-3.53 a1.71,1.71 0 0 1 1.71,-1.71 Z" fill="url(#cb9)" fill-opacity="0.95" filter="url(#bl4)"/>
<text x="241.60" y="360.80" font-size="8.3" text-anchor="middle" fill="#111">8</text>
<path d="M269.82,339.07 h0.00 a1.77,1.77 0 0 1 1.77,1.77 v0.30 a1.77,1.77 0 0 1 -1.77,1.77 h-0.00 a1.77,1.77 0 0 1 -1.77,-1.77 v-0.30 a1.77,1.77 0 0 1 1.77,-1.77 Z M269.46,342.30 h0.73 a1.91,1.91 0 0 1 1.91,1.91 v4.94 a1.91,1.91 0 0 1 -1.91,1.91 h-0.73 a1.91,1.91 0 0 1 -1.91,-1.91 v-4.94 a1.91,1.91 0 0 1 1.91,-1.91 Z" fill="url(#cb8)" fill-opacity="0.95" filter="url(#bl4)"/>
<path d="M276.52,340.33 h0.70 a1.51,1.51 0 0 1 1.51,1.51 v0.00 a1.51,1.51 0 0 1 -1.51,1.51 h-0.70 a1.51,1.51 0 0 1 -1.51,-1.51 v-0.00 a1.51,1.51 0 0 1 1.51,-1.51 Z M276.49,342.75 h0.76 a2.00,2.00 0 0 1 2.00,2.00 v3.43 a2.00,2.00 0 0 1 -2.00,2.00 h-0.76 a2.00,2.00 0 0 1 -2.00,-2.00 v-3.43 a2.00,2.00 0 0 1 2.00,-2.00 Z" fill="url(#cb13)" fill-opacity="0.95" filter="url(#bl4)"/>
<text x="271.80" y="360.80" font-size="8.3" text-anchor="middle" fill="#111">9</text>
<path d="M297.73,339.30 h0.00 a1.60,1.60 0 0 1 1.60,1.60 v0.61 a1.60,1.60 0 0 1 -1.60,1.60 h-0.00 a1.60,1.60 0 0 1 -1.60,-1.60 v-0.61 a1.60,1.60 0 0 1 1.60,-1.60 Z M297.40,342.52 h0.66 a1.73,1.73 0 0 1 1.73,1.73 v4.32 a1.73,1.73 0 0 1 -1.73,1.73 h-0.66 a1.73,1.73 0 0 1 -1.73,-1.73 v-4.32 a1.73,1.73 0 0 1 1.73,-1.73 Z" fill="url(#cb8)" fill-opacity="0.95" filter="url(#bl4)"/>
<path d="M304.58,339.97 h0.00 a1.58,1.58 0 0 1 1.58,1.58 v1.23 a1.58,1.58 0 0 1 -1.58,1.58 h-0.00 a1.58,1.58 0 0 1 -1.58,-1.58 v-1.23 a1.58,1.58 0 0 1 1.58,-1.58 Z M304.25,343.77 h0.65 a1.70,1.70 0 0 1 1.70,1.70 v3.77 a1.70,1.70 0 0 1 -1.70,1.70 h-0.65 a1.70,1.70 0 0 1 -1.70,-1.70 v-3.77 a1.70,1.70 0 0 1 1.70,-1.70 Z" fill="url(#cb3)" fill-opacity="0.95" filter="url(#bl4)"/>
<text x="302.00" y="360.80" font-size="8.3" text-anchor="middle" fill="#111">10</text>
<path d="M181.18,365.63 h0.48 a1.63,1.63 0 0 1 1.63,1.63 v0.00 a1.63,1.63 0 0 1 -1.63,1.63 h-0.48 a1.63,1.63 0 0 1 -1.63,-1.63 v-0.00 a1.63,1.63 0 0 1 1.63,-1.63 Z M181.04,368.28 h0.77 a2.01,2.01 0 0 1 2.01,2.01 v3.62 a2.01,2.01 0 0 1 -2.01,2.01 h-0.77 a2.01,2.01 0 0 1 -2.01,-2.01 v-3.62 a2.01,2.01 0 0 1 2.01,-2.01 Z" fill="url(#cb11)" fill-opacity="0.95" filter="url(#bl4)"/>
<path d="M188.52,364.23 h0.31 a1.80,1.80 0 0 1 1.80,1.80 v0.00 a1.80,1.80 0 0 1 -1.80,1.80 h-0.31 a1.80,1.80 0 0 1 -1.80,-1.80 v-0.00 a1.80,1.80 0 0 1 1.80,-1.80 Z M188.27,367.24 h0.80 a2.11,2.11 0 0 1 2.11,2.11 v4.11 a2.11,2.11 0 0 1 -2.11,2.11 h-0.80 a2.11,2.11 0 0 1 -2.11,-2.11 v-4.11 a2.11,2.11 0 0 1 2.11,-2.11 Z" fill="url(#cb1)" fill-opacity="0.95" filter="url(#bl4)"/>
<text x="186.00" y="386.30" font-size="8.3" text-anchor="middle" fill="#111">11</text>
<path d="M210.13,364.45 h0.00 a1.82,1.82 0 0 1 1.82,1.82 v0.53 a1.82,1.82 0 0 1 -1.82,1.82 h-0.00 a1.82,1.82 0 0 1 -1.82,-1.82 v-0.53 a1.82,1.82 0 0 1 1.82,-1.82 Z M209.75,368.01 h0.74 a1.96,1.96 0 0 1 1.96,1.96 v3.33 a1.96,1.96 0 0 1 -1.96,1.96 h-0.74 a1.96,1.96 0 0 1 -1.96,-1.96 v-3.33 a1.96,1.96 0 0 1 1.96,-1.96 Z" fill="url(#cb13)" fill-opacity="0.95" filter="url(#bl4)"/>
<path d="M216.97,365.67 h0.00 a1.82,1.82 0 0 1 1.82,1.82 v0.27 a1.82,1.82 0 0 1 -1.82,1.82 h-0.00 a1.82,1.82 0 0 1 -1.82,-1.82 v-0.27 a1.82,1.82 0 0 1 1.82,-1.82 Z M216.60,368.97 h0.75 a1.96,1.96 0 0 1 1.96,1.96 v2.58 a1.96,1.96 0 0 1 -1.96,1.96 h-0.75 a1.96,1.96 0 0 1 -1.96,-1.96 v-2.58 a1.96,1.96 0 0 1 1.96,-1.96 Z" fill="url(#cb5)" fill-opacity="0.95" filter="url(#bl4)"/>
<text x="215.00" y="386.30" font-size="8.3" text-anchor="middle" fill="#111">12</text>
<path d="M238.74,365.59 h0.13 a1.68,1.68 0 0 1 1.68,1.68 v0.00 a1.68,1.68 0 0 1 -1.68,1.68 h-0.13 a1.68,1.68 0 0 1 -1.68,-1.68 v-0.00 a1.68,1.68 0 0 1 1.68,-1.68 Z M238.44,368.35 h0.72 a1.88,1.88 0 0 1 1.88,1.88 v3.03 a1.88,1.88 0 0 1 -1.88,1.88 h-0.72 a1.88,1.88 0 0 1 -1.88,-1.88 v-3.03 a1.88,1.88 0 0 1 1.88,-1.88 Z" fill="url(#cb10)" fill-opacity="0.95" filter="url(#bl4)"/>
<path d="M245.60,365.21 h0.00 a1.61,1.61 0 0 1 1.61,1.61 v1.05 a1.61,1.61 0 0 1 -1.61,1.61 h-0.00 a1.61,1.61 0 0 1 -1.61,-1.61 v-1.05 a1.61,1.61 0 0 1 1.61,-1.61 Z M245.27,368.88 h0.66 a1.74,1.74 0 0 1 1.74,1.74 v3.84 a1.74,1.74 0 0 1 -1.74,1.74 h-0.66 a1.74,1.74 0 0 1 -1.74,-1.74 v-3.84 a1.74,1.74 0 0 1 1.74,-1.74 Z" fill="url(#cb7)" fill-opacity="0.95" filter="url(#bl4)"/>
<text x="243.20" y="386.30" font-size="8.3" text-anchor="middle" fill="#111">13</text>
<path d="M270.05,364.19 h0.00 a1.86,1.86 0 0 1 1.86,1.86 v1.02 a1.86,1.86 0 0 1 -1.86,1.86 h-0.00 a1.86,1.86 0 0 1 -1.86,-1.86 v-1.02 a1.86,1.86 0 0 1 1.86,-1.86 Z M269.67,368.32 h0.76 a2.00,2.00 0 0 1 2.00,2.00 v4.09 a2.00,2.00 0 0 1 -2.00,2.00 h-0.76 a2.00,2.00 0 0 1 -2.00,-2.00 v-4.09 a2.00,2.00 0 0 1 2.00,-2.00 Z" fill="url(#cb15)" fill-opacity="0.95" filter="url(#bl4)"/>
<path d="M277.55,364.83 h0.00 a1.86,1.86 0 0 1 1.86,1.86 v0.31 a1.86,1.86 0 0 1 -1.86,1.86 h-0.00 a1.86,1.86 0 0 1 -1.86,-1.86 v-0.31 a1.86,1.86 0 0 1 1.86,-1.86 Z M277.17,368.25 h0.76 a2.00,2.00 0 0 1 2.00,2.00 v3.31 a2.00,2.00 0 0 1 -2.00,2.00 h-0.76 a2.00,2.00 0 0 1 -2.00,-2.00 v-3.31 a2.00,2.00 0 0 1 2.00,-2.00 Z" fill="url(#cb7)" fill-opacity="0.95" filter="url(#bl4)"/>
<text x="272.70" y="386.30" font-size="8.3" text-anchor="middle" fill="#111">14</text>
<path d="M295.92,367.92 h1.56 a1.34,1.34 0 0 1 1.34,1.34 v0.00 a1.34,1.34 0 0 1 -1.34,1.34 h-1.56 a1.34,1.34 0 0 1 -1.34,-1.34 v-0.00 a1.34,1.34 0 0 1 1.34,-1.34 Z M296.27,370.00 h0.87 a2.28,2.28 0 0 1 2.28,2.28 v0.96 a2.28,2.28 0 0 1 -2.28,2.28 h-0.87 a2.28,2.28 0 0 1 -2.28,-2.28 v-0.96 a2.28,2.28 0 0 1 2.28,-2.28 Z" fill="url(#cb2)" fill-opacity="0.95" filter="url(#bl4)"/>
<path d="M303.82,368.35 h1.76 a1.23,1.23 0 0 1 1.23,1.23 v0.00 a1.23,1.23 0 0 1 -1.23,1.23 h-1.76 a1.23,1.23 0 0 1 -1.23,-1.23 v-0.00 a1.23,1.23 0 0 1 1.23,-1.23 Z M304.27,370.22 h0.87 a2.27,2.27 0 0 1 2.27,2.27 v0.93 a2.27,2.27 0 0 1 -2.27,2.27 h-0.87 a2.27,2.27 0 0 1 -2.27,-2.27 v-0.93 a2.27,2.27 0 0 1 2.27,-2.27 Z" fill="url(#cb10)" fill-opacity="0.95" filter="url(#bl4)"/>
<text x="301.00" y="386.30" font-size="8.3" text-anchor="middle" fill="#111">15</text>
<path d="M181.17,391.85 h0.51 a1.46,1.46 0 0 1 1.46,1.46 v0.00 a1.46,1.46 0 0 1 -1.46,1.46 h-0.51 a1.46,1.46 0 0 1 -1.46,-1.46 v-0.00 a1.46,1.46 0 0 1 1.46,-1.46 Z M181.07,394.16 h0.70 a1.84,1.84 0 0 1 1.84,1.84 v1.42 a1.84,1.84 0 0 1 -1.84,1.84 h-0.70 a1.84,1.84 0 0 1 -1.84,-1.84 v-1.42 a1.84,1.84 0 0 1 1.84,-1.84 Z" fill="url(#cb8)" fill-opacity="0.95" filter="url(#bl4)"/>
<path d="M188.53,390.72 h0.30 a1.73,1.73 0 0 1 1.73,1.73 v0.00 a1.73,1.73 0 0 1 -1.73,1.73 h-0.30 a1.73,1.73 0 0 1 -1.73,-1.73 v-0.00 a1.73,1.73 0 0 1 1.73,-1.73 Z M188.29,393.57 h0.77 a2.02,2.02 0 0 1 2.02,2.02 v2.57 a2.02,2.02 0 0 1 -2.02,2.02 h-0.77 a2.02,2.02 0 0 1 -2.02,-2.02 v-2.57 a2.02,2.02 0 0 1 2.02,-2.02 Z" fill="url(#cb13)" fill-opacity="0.95" filter="url(#bl4)"/>
<text x="183.70" y="409.60" font-size="8.3" text-anchor="middle" fill="#111">16</text>
<path d="M210.12,390.79 h0.00 a1.57,1.57 0 0 1 1.57,1.57 v0.10 a1.57,1.57 0 0 1 -1.57,1.57 h-0.00 a1.57,1.57 0 0 1 -1.57,-1.57 v-0.10 a1.57,1.57 0 0 1 1.57,-1.57 Z M209.80,393.45 h0.65 a1.69,1.69 0 0 1 1.69,1.69 v3.03 a1.69,1.69 0 0 1 -1.69,1.69 h-0.65 a1.69,1.69 0 0 1 -1.69,-1.69 v-3.03 a1.69,1.69 0 0 1 1.69,-1.69 Z" fill="url(#cb8)" fill-opacity="0.95" filter="url(#bl4)"/>
<path d="M216.76,391.04 h0.43 a1.44,1.44 0 0 1 1.44,1.44 v0.00 a1.44,1.44 0 0 1 -1.44,1.44 h-0.43 a1.44,1.44 0 0 1 -1.44,-1.44 v-0.00 a1.44,1.44 0 0 1 1.44,-1.44 Z M216.64,393.31 h0.68 a1.78,1.78 0 0 1 1.78,1.78 v3.33 a1.78,1.78 0 0 1 -1.78,1.78 h-0.68 a1.78,1.78 0 0 1 -1.78,-1.78 v-3.33 a1.78,1.78 0 0 1 1.78,-1.78 Z" fill="url(#cb6)" fill-opacity="0.95" filter="url(#bl4)"/>
<text x="212.50" y="409.60" font-size="8.3" text-anchor="middle" fill="#111">17</text>
<path d="M236.15,391.30 h0.90 a1.35,1.35 0 0 1 1.35,1.35 v0.00 a1.35,1.35 0 0 1 -1.35,1.35 h-0.90 a1.35,1.35 0 0 1 -1.35,-1.35 v-0.00 a1.35,1.35 0 0 1 1.35,-1.35 Z M236.23,393.39 h0.74 a1.93,1.93 0 0 1 1.93,1.93 v2.25 a1.93,1.93 0 0 1 -1.93,1.93 h-0.74 a1.93,1.93 0 0 1 -1.93,-1.93 v-2.25 a1.93,1.93 0 0 1 1.93,-1.93 Z" fill="url(#cb10)" fill-opacity="0.95" filter="url(#bl4)"/>
<path d="M243.50,391.72 h0.20 a1.60,1.60 0 0 1 1.60,1.60 v0.00 a1.60,1.60 0 0 1 -1.60,1.60 h-0.20 a1.60,1.60 0 0 1 -1.60,-1.60 v-0.00 a1.60,1.60 0 0 1 1.60,-1.60 Z M243.25,394.32 h0.70 a1.83,1.83 0 0 1 1.83,1.83 v1.77 a1.83,1.83 0 0 1 -1.83,1.83 h-0.70 a1.83,1.83 0 0 1 -1.83,-1.83 v-1.77 a1.83,1.83 0 0 1 1.83,-1.83 Z" fill="url(#cb13)" fill-opacity="0.95" filter="url(#bl4)"/>
<path d="M250.53,391.10 h0.14 a1.73,1.73 0 0 1 1.73,1.73 v0.00 a1.73,1.73 0 0 1 -1.73,1.73 h-0.14 a1.73,1.73 0 0 1 -1.73,-1.73 v-0.00 a1.73,1.73 0 0 1 1.73,-1.73 Z M250.23,393.95 h0.74 a1.94,1.94 0 0 1 1.94,1.94 v1.47 a1.94,1.94 0 0 1 -1.94,1.94 h-0.74 a1.94,1.94 0 0 1 -1.94,-1.94 v-1.47 a1.94,1.94 0 0 1 1.94,-1.94 Z" fill="url(#cb12)" fill-opacity="0.95" filter="url(#bl4)"/>
<text x="240.30" y="409.60" font-size="8.3" text-anchor="middle" fill="#111">18</text>
<path d="M269.03,394.31 h1.03 a1.00,1.00 0 0 1 1.00,1.00 v0.00 a1.00,1.00 0 0 1 -1.00,1.00 h-1.03 a1.00,1.00 0 0 1 -1.00,-1.00 v-0.00 a1.00,1.00 0 0 1 1.00,-1.00 Z M269.24,395.70 h0.62 a1.63,1.63 0 0 1 1.63,1.63 v0.60 a1.63,1.63 0 0 1 -1.63,1.63 h-0.62 a1.63,1.63 0 0 1 -1.63,-1.63 v-0.60 a1.63,1.63 0 0 1 1.63,-1.63 Z" fill="url(#cb0)" fill-opacity="0.95" filter="url(#bl4)"/>
<path d="M275.59,394.61 h0.92 a1.09,1.09 0 0 1 1.09,1.09 v0.00 a1.09,1.09 0 0 1 -1.09,1.09 h-0.92 a1.09,1.09 0 0 1 -1.09,-1.09 v-0.00 a1.09,1.09 0 0 1 1.09,-1.09 Z M275.73,396.20 h0.64 a1.67,1.67 0 0 1 1.67,1.67 v0.47 a1.67,1.67 0 0 1 -1.67,1.67 h-0.64 a1.67,1.67 0 0 1 -1.67,-1.67 v-0.47 a1.67,1.67 0 0 1 1.67,-1.67 Z" fill="url(#cb10)" fill-opacity="0.95" filter="url(#bl4)"/>
<text x="269.90" y="409.60" font-size="8.3" text-anchor="middle" fill="#111">19</text>
<path d="M295.55,388.28 h0.00 a1.75,1.75 0 0 1 1.75,1.75 v0.53 a1.75,1.75 0 0 1 -1.75,1.75 h-0.00 a1.75,1.75 0 0 1 -1.75,-1.75 v-0.53 a1.75,1.75 0 0 1 1.75,-1.75 Z M295.19,391.72 h0.72 a1.89,1.89 0 0 1 1.89,1.89 v5.32 a1.89,1.89 0 0 1 -1.89,1.89 h-0.72 a1.89,1.89 0 0 1 -1.89,-1.89 v-5.32 a1.89,1.89 0 0 1 1.89,-1.89 Z" fill="url(#cb5)" fill-opacity="0.95" filter="url(#bl4)"/>
<text x="295.70" y="409.60" font-size="8.3" text-anchor="middle" fill="#111">X</text>
<path d="M305.77,394.69 h1.46 a1.26,1.26 0 0 1 1.26,1.26 v0.00 a1.26,1.26 0 0 1 -1.26,1.26 h-1.46 a1.26,1.26 0 0 1 -1.26,-1.26 v-0.00 a1.26,1.26 0 0 1 1.26,-1.26 Z M305.90,396.62 h1.21 a1.95,1.95 0 0 1 1.95,1.95 v0.00 a1.95,1.95 0 0 1 -1.95,1.95 h-1.21 a1.95,1.95 0 0 1 -1.95,-1.95 v-0.00 a1.95,1.95 0 0 1 1.95,-1.95 Z" fill="url(#cb2)" fill-opacity="0.95" filter="url(#bl4)"/>
<text x="306.30" y="409.60" font-size="8.3" text-anchor="middle" fill="#111">Y</text>
<path d="M330.94,310.61 h0.00 a1.47,1.47 0 0 1 1.47,1.47 v1.16 a1.47,1.47 0 0 1 -1.47,1.47 h-0.00 a1.47,1.47 0 0 1 -1.47,-1.47 v-1.16 a1.47,1.47 0 0 1 1.47,-1.47 Z M330.64,314.10 h0.60 a1.58,1.58 0 0 1 1.58,1.58 v7.58 a1.58,1.58 0 0 1 -1.58,1.58 h-0.60 a1.58,1.58 0 0 1 -1.58,-1.58 v-7.58 a1.58,1.58 0 0 1 1.58,-1.58 Z" fill="url(#cb6)" fill-opacity="0.95" filter="url(#bl4)"/>
<path d="M336.88,311.17 h0.00 a1.54,1.54 0 0 1 1.54,1.54 v2.46 a1.54,1.54 0 0 1 -1.54,1.54 h-0.00 a1.54,1.54 0 0 1 -1.54,-1.54 v-2.46 a1.54,1.54 0 0 1 1.54,-1.54 Z M336.56,316.10 h0.63 a1.66,1.66 0 0 1 1.66,1.66 v6.00 a1.66,1.66 0 0 1 -1.66,1.66 h-0.63 a1.66,1.66 0 0 1 -1.66,-1.66 v-6.00 a1.66,1.66 0 0 1 1.66,-1.66 Z" fill="url(#cb2)" fill-opacity="0.95" filter="url(#bl4)"/>
<path d="M342.82,310.44 h0.00 a1.55,1.55 0 0 1 1.55,1.55 v1.58 a1.55,1.55 0 0 1 -1.55,1.55 h-0.00 a1.55,1.55 0 0 1 -1.55,-1.55 v-1.58 a1.55,1.55 0 0 1 1.55,-1.55 Z M342.50,314.51 h0.64 a1.67,1.67 0 0 1 1.67,1.67 v7.73 a1.67,1.67 0 0 1 -1.67,1.67 h-0.64 a1.67,1.67 0 0 1 -1.67,-1.67 v-7.73 a1.67,1.67 0 0 1 1.67,-1.67 Z" fill="url(#cb12)" fill-opacity="0.95" filter="url(#bl4)"/>
<path d="M348.76,310.58 h0.00 a1.62,1.62 0 0 1 1.62,1.62 v1.08 a1.62,1.62 0 0 1 -1.62,1.62 h-0.00 a1.62,1.62 0 0 1 -1.62,-1.62 v-1.08 a1.62,1.62 0 0 1 1.62,-1.62 Z M348.43,314.29 h0.66 a1.74,1.74 0 0 1 1.74,1.74 v6.74 a1.74,1.74 0 0 1 -1.74,1.74 h-0.66 a1.74,1.74 0 0 1 -1.74,-1.74 v-6.74 a1.74,1.74 0 0 1 1.74,-1.74 Z" fill="url(#cb3)" fill-opacity="0.95" filter="url(#bl4)"/>
<text x="339.30" y="333.50" font-size="8.3" text-anchor="middle" fill="#111">1</text>
<path d="M362.56,310.85 h0.00 a1.39,1.39 0 0 1 1.39,1.39 v1.79 a1.39,1.39 0 0 1 -1.39,1.39 h-0.00 a1.39,1.39 0 0 1 -1.39,-1.39 v-1.79 a1.39,1.39 0 0 1 1.39,-1.39 Z M362.28,314.81 h0.57 a1.50,1.50 0 0 1 1.50,1.50 v7.74 a1.50,1.50 0 0 1 -1.50,1.50 h-0.57 a1.50,1.50 0 0 1 -1.50,-1.50 v-7.74 a1.50,1.50 0 0 1 1.50,-1.50 Z" fill="url(#cb14)" fill-opacity="0.95" filter="url(#bl4)"/>
<path d="M368.35,310.93 h0.00 a1.53,1.53 0 0 1 1.53,1.53 v2.65 a1.53,1.53 0 0 1 -1.53,1.53 h-0.00 a1.53,1.53 0 0 1 -1.53,-1.53 v-2.65 a1.53,1.53 0 0 1 1.53,-1.53 Z M368.04,316.04 h0.63 a1.65,1.65 0 0 1 1.65,1.65 v5.85 a1.65,1.65 0 0 1 -1.65,1.65 h-0.63 a1.65,1.65 0 0 1 -1.65,-1.65 v-5.85 a1.65,1.65 0 0 1 1.65,-1.65 Z" fill="url(#cb14)" fill-opacity="0.95" filter="url(#bl4)"/>
<path d="M374.15,310.47 h0.00 a1.52,1.52 0 0 1 1.52,1.52 v2.61 a1.52,1.52 0 0 1 -1.52,1.52 h-0.00 a1.52,1.52 0 0 1 -1.52,-1.52 v-2.61 a1.52,1.52 0 0 1 1.52,-1.52 Z M373.83,315.51 h0.62 a1.64,1.64 0 0 1 1.64,1.64 v7.14 a1.64,1.64 0 0 1 -1.64,1.64 h-0.62 a1.64,1.64 0 0 1 -1.64,-1.64 v-7.14 a1.64,1.64 0 0 1 1.64,-1.64 Z" fill="url(#cb14)" fill-opacity="0.95" filter="url(#bl4)"/>
<path d="M379.94,310.31 h0.00 a1.58,1.58 0 0 1 1.58,1.58 v2.52 a1.58,1.58 0 0 1 -1.58,1.58 h-0.00 a1.58,1.58 0 0 1 -1.58,-1.58 v-2.52 a1.58,1.58 0 0 1 1.58,-1.58 Z M379.61,315.39 h0.65 a1.71,1.71 0 0 1 1.71,1.71 v6.94 a1.71,1.71 0 0 1 -1.71,1.71 h-0.65 a1.71,1.71 0 0 1 -1.71,-1.71 v-6.94 a1.71,1.71 0 0 1 1.71,-1.71 Z" fill="url(#cb14)" fill-opacity="0.95" filter="url(#bl4)"/>
<text x="372.50" y="333.50" font-size="8.3" text-anchor="middle" fill="#111">2</text>
<path d="M396.86,310.25 h0.00 a1.09,1.09 0 0 1 1.09,1.09 v2.42 a1.09,1.09 0 0 1 -1.09,1.09 h-0.00 a1.09,1.09 0 0 1 -1.09,-1.09 v-2.42 a1.09,1.09 0 0 1 1.09,-1.09 Z M396.64,314.25 h0.45 a1.17,1.17 0 0 1 1.17,1.17 v8.29 a1.17,1.17 0 0 1 -1.17,1.17 h-0.45 a1.17,1.17 0 0 1 -1.17,-1.17 v-8.29 a1.17,1.17 0 0 1 1.17,-1.17 Z" fill="url(#cb7)" fill-opacity="0.95" filter="url(#bl4)"/>
<path d="M401.45,310.80 h0.00 a1.00,1.00 0 0 1 1.00,1.00 v2.20 a1.00,1.00 0 0 1 -1.00,1.00 h-0.00 a1.00,1.00 0 0 1 -1.00,-1.00 v-2.20 a1.00,1.00 0 0 1 1.00,-1.00 Z M401.25,314.40 h0.41 a1.08,1.08 0 0 1 1.08,1.08 v8.68 a1.08,1.08 0 0 1 -1.08,1.08 h-0.41 a1.08,1.08 0 0 1 -1.08,-1.08 v-8.68 a1.08,1.08 0 0 1 1.08,-1.08 Z" fill="url(#cb7)" fill-opacity="0.95" filter="url(#bl4)"/>
<path d="M406.05,309.91 h0.00 a1.10,1.10 0 0 1 1.10,1.10 v2.15 a1.10,1.10 0 0 1 -1.10,1.10 h-0.00 a1.10,1.10 0 0 1 -1.10,-1.10 v-2.15 a1.10,1.10 0 0 1 1.10,-1.10 Z M405.82,313.66 h0.45 a1.18,1.18 0 0 1 1.18,1.18 v8.88 a1.18,1.18 0 0 1 -1.18,1.18 h-0.45 a1.18,1.18 0 0 1 -1.18,-1.18 v-8.88 a1.18,1.18 0 0 1 1.18,-1.18 Z" fill="url(#cb10)" fill-opacity="0.95" filter="url(#bl4)"/>
<path d="M410.64,309.67 h0.00 a1.07,1.07 0 0 1 1.07,1.07 v2.28 a1.07,1.07 0 0 1 -1.07,1.07 h-0.00 a1.07,1.07 0 0 1 -1.07,-1.07 v-2.28 a1.07,1.07 0 0 1 1.07,-1.07 Z M410.42,313.49 h0.44 a1.15,1.15 0 0 1 1.15,1.15 v9.28 a1.15,1.15 0 0 1 -1.15,1.15 h-0.44 a1.15,1.15 0 0 1 -1.15,-1.15 v-9.28 a1.15,1.15 0 0 1 1.15,-1.15 Z" fill="url(#cb4)" fill-opacity="0.95" filter="url(#bl4)"/>
<text x="403.90" y="333.50" font-size="8.3" text-anchor="middle" fill="#111">3</text>
<path d="M425.94,310.13 h0.00 a1.30,1.30 0 0 1 1.30,1.30 v3.15 a1.30,1.30 0 0 1 -1.30,1.30 h-0.00 a1.30,1.30 0 0 1 -1.30,-1.30 v-3.15 a1.30,1.30 0 0 1 1.30,-1.30 Z M425.67,315.29 h0.53 a1.40,1.40 0 0 1 1.40,1.40 v7.21 a1.40,1.40 0 0 1 -1.40,1.40 h-0.53 a1.40,1.40 0 0 1 -1.40,-1.40 v-7.21 a1.40,1.40 0 0 1 1.40,-1.40 Z" fill="url(#cb13)" fill-opacity="0.95" filter="url(#bl4)"/>
<path d="M431.48,310.10 h0.00 a1.47,1.47 0 0 1 1.47,1.47 v2.81 a1.47,1.47 0 0 1 -1.47,1.47 h-0.00 a1.47,1.47 0 0 1 -1.47,-1.47 v-2.81 a1.47,1.47 0 0 1 1.47,-1.47 Z M431.18,315.26 h0.60 a1.59,1.59 0 0 1 1.59,1.59 v7.22 a1.59,1.59 0 0 1 -1.59,1.59 h-0.60 a1.59,1.59 0 0 1 -1.59,-1.59 v-7.22 a1.59,1.59 0 0 1 1.59,-1.59 Z" fill="url(#cb0)" fill-opacity="0.95" filter="url(#bl4)"/>
<path d="M437.02,310.08 h0.00 a1.35,1.35 0 0 1 1.35,1.35 v2.03 a1.35,1.35 0 0 1 -1.35,1.35 h-0.00 a1.35,1.35 0 0 1 -1.35,-1.35 v-2.03 a1.35,1.35 0 0 1 1.35,-1.35 Z M436.74,314.22 h0.56 a1.46,1.46 0 0 1 1.46,1.46 v7.37 a1.46,1.46 0 0 1 -1.46,1.46 h-0.56 a1.46,1.46 0 0 1 -1.46,-1.46 v-7.37 a1.46,1.46 0 0 1 1.46,-1.46 Z" fill="url(#cb11)" fill-opacity="0.95" filter="url(#bl4)"/>
<path d="M442.56,311.00 h0.00 a1.39,1.39 0 0 1 1.39,1.39 v1.83 a1.39,1.39 0 0 1 -1.39,1.39 h-0.00 a1.39,1.39 0 0 1 -1.39,-1.39 v-1.83 a1.39,1.39 0 0 1 1.39,-1.39 Z M442.28,315.03 h0.57 a1.50,1.50 0 0 1 1.50,1.50 v7.72 a1.50,1.50 0 0 1 -1.50,1.50 h-0.57 a1.50,1.50 0 0 1 -1.50,-1.50 v-7.72 a1.50,1.50 0 0 1 1.50,-1.50 Z" fill="url(#cb7)" fill-opacity="0.95" filter="url(#bl4)"/>
<text x="434.60" y="333.50" font-size="8.3" text-anchor="middle" fill="#111">4</text>
<path d="M458.40,310.27 h0.00 a1.57,1.57 0 0 1 1.57,1.57 v2.50 a1.57,1.57 0 0 1 -1.57,1.57 h-0.00 a1.57,1.57 0 0 1 -1.57,-1.57 v-2.50 a1.57,1.57 0 0 1 1.57,-1.57 Z M458.08,315.32 h0.65 a1.69,1.69 0 0 1 1.69,1.69 v6.37 a1.69,1.69 0 0 1 -1.69,1.69 h-0.65 a1.69,1.69 0 0 1 -1.69,-1.69 v-6.37 a1.69,1.69 0 0 1 1.69,-1.69 Z" fill="url(#cb12)" fill-opacity="0.95" filter="url(#bl4)"/>
<path d="M464.27,311.06 h0.00 a1.62,1.62 0 0 1 1.62,1.62 v2.01 a1.62,1.62 0 0 1 -1.62,1.62 h-0.00 a1.62,1.62 0 0 1 -1.62,-1.62 v-2.01 a1.62,1.62 0 0 1 1.62,-1.62 Z M463.94,315.69 h0.66 a1.74,1.74 0 0 1 1.74,1.74 v6.80 a1.74,1.74 0 0 1 -1.74,1.74 h-0.66 a1.74,1.74 0 0 1 -1.74,-1.74 v-6.80 a1.74,1.74 0 0 1 1.74,-1.74 Z" fill="url(#cb0)" fill-opacity="0.95" filter="url(#bl4)"/>
<path d="M470.13,310.59 h0.00 a1.44,1.44 0 0 1 1.44,1.44 v1.87 a1.44,1.44 0 0 1 -1.44,1.44 h-0.00 a1.44,1.44 0 0 1 -1.44,-1.44 v-1.87 a1.44,1.44 0 0 1 1.44,-1.44 Z M469.84,314.74 h0.59 a1.55,1.55 0 0 1 1.55,1.55 v6.79 a1.55,1.55 0 0 1 -1.55,1.55 h-0.59 a1.55,1.55 0 0 1 -1.55,-1.55 v-6.79 a1.55,1.55 0 0 1 1.55,-1.55 Z" fill="url(#cb13)" fill-opacity="0.95" filter="url(#bl4)"/>
<path d="M476.00,309.49 h0.00 a1.51,1.51 0 0 1 1.51,1.51 v1.95 a1.51,1.51 0 0 1 -1.51,1.51 h-0.00 a1.51,1.51 0 0 1 -1.51,-1.51 v-1.95 a1.51,1.51 0 0 1 1.51,-1.51 Z M475.69,313.86 h0.62 a1.63,1.63 0 0 1 1.63,1.63 v7.96 a1.63,1.63 0 0 1 -1.63,1.63 h-0.62 a1.63,1.63 0 0 1 -1.63,-1.63 v-7.96 a1.63,1.63 0 0 1 1.63,-1.63 Z" fill="url(#cb6)" fill-opacity="0.95" filter="url(#bl4)"/>
<text x="466.40" y="333.50" font-size="8.3" text-anchor="middle" fill="#111">5</text>
<path d="M331.58,339.48 h0.00 a1.52,1.52 0 0 1 1.52,1.52 v0.64 a1.52,1.52 0 0 1 -1.52,1.52 h-0.00 a1.52,1.52 0 0 1 -1.52,-1.52 v-0.64 a1.52,1.52 0 0 1 1.52,-1.52 Z M331.27,342.56 h0.62 a1.64,1.64 0 0 1 1.64,1.64 v5.98 a1.64,1.64 0 0 1 -1.64,1.64 h-0.62 a1.64,1.64 0 0 1 -1.64,-1.64 v-5.98 a1.64,1.64 0 0 1 1.64,-1.64 Z" fill="url(#cb13)" fill-opacity="0.95" filter="url(#bl4)"/>
<path d="M336.74,337.93 h0.00 a1.51,1.51 0 0 1 1.51,1.51 v1.11 a1.51,1.51 0 0 1 -1.51,1.51 h-0.00 a1.51,1.51 0 0 1 -1.51,-1.51 v-1.11 a1.51,1.51 0 0 1 1.51,-1.51 Z M336.43,341.48 h0.62 a1.63,1.63 0 0 1 1.63,1.63 v7.47 a1.63,1.63 0 0 1 -1.63,1.63 h-0.62 a1.63,1.63 0 0 1 -1.63,-1.63 v-7.47 a1.63,1.63 0 0 1 1.63,-1.63 Z" fill="url(#cb11)" fill-opacity="0.95" filter="url(#bl4)"/>
<path d="M341.90,339.62 h0.00 a1.69,1.69 0 0 1 1.69,1.69 v0.34 a1.69,1.69 0 0 1 -1.69,1.69 h-0.00 a1.69,1.69 0 0 1 -1.69,-1.69 v-0.34 a1.69,1.69 0 0 1 1.69,-1.69 Z M341.55,342.75 h0.69 a1.82,1.82 0 0 1 1.82,1.82 v5.07 a1.82,1.82 0 0 1 -1.82,1.82 h-0.69 a1.82,1.82 0 0 1 -1.82,-1.82 v-5.07 a1.82,1.82 0 0 1 1.82,-1.82 Z" fill="url(#cb0)" fill-opacity="0.95" filter="url(#bl4)"/>
<path d="M347.06,337.94 h0.00 a1.58,1.58 0 0 1 1.58,1.58 v0.92 a1.58,1.58 0 0 1 -1.58,1.58 h-0.00 a1.58,1.58 0 0 1 -1.58,-1.58 v-0.92 a1.58,1.58 0 0 1 1.58,-1.58 Z M346.74,341.41 h0.65 a1.70,1.70 0 0 1 1.70,1.70 v6.82 a1.70,1.70 0 0 1 -1.70,1.70 h-0.65 a1.70,1.70 0 0 1 -1.70,-1.70 v-6.82 a1.70,1.70 0 0 1 1.70,-1.70 Z" fill="url(#cb4)" fill-opacity="0.95" filter="url(#bl4)"/>
<path d="M352.22,339.61 h0.00 a1.65,1.65 0 0 1 1.65,1.65 v0.56 a1.65,1.65 0 0 1 -1.65,1.65 h-0.00 a1.65,1.65 0 0 1 -1.65,-1.65 v-0.56 a1.65,1.65 0 0 1 1.65,-1.65 Z M351.88,342.86 h0.68 a1.77,1.77 0 0 1 1.77,1.77 v5.70 a1.77,1.77 0 0 1 -1.77,1.77 h-0.68 a1.77,1.77 0 0 1 -1.77,-1.77 v-5.70 a1.77,1.77 0 0 1 1.77,-1.77 Z" fill="url(#cb8)" fill-opacity="0.95" filter="url(#bl4)"/>
<text x="341.60" y="360.00" font-size="8.3" text-anchor="middle" fill="#111">6</text>
<path d="M365.95,338.99 h0.00 a1.70,1.70 0 0 1 1.70,1.70 v0.70 a1.70,1.70 0 0 1 -1.70,1.70 h-0.00 a1.70,1.70 0 0 1 -1.70,-1.70 v-0.70 a1.70,1.70 0 0 1 1.70,-1.70 Z M365.60,342.51 h0.70 a1.84,1.84 0 0 1 1.84,1.84 v6.34 a1.84,1.84 0 0 1 -1.84,1.84 h-0.70 a1.84,1.84 0 0 1 -1.84,-1.84 v-6.34 a1.84,1.84 0 0 1 1.84,-1.84 Z" fill="url(#cb3)" fill-opacity="0.95" filter="url(#bl4)"/>
<path d="M372.12,338.46 h0.00 a1.65,1.65 0 0 1 1.65,1.65 v2.11 a1.65,1.65 0 0 1 -1.65,1.65 h-0.00 a1.65,1.65 0 0 1 -1.65,-1.65 v-2.11 a1.65,1.65 0 0 1 1.65,-1.65 Z M371.78,343.28 h0.68 a1.78,1.78 0 0 1 1.78,1.78 v5.43 a1.78,1.78 0 0 1 -1.78,1.78 h-0.68 a1.78,1.78 0 0 1 -1.78,-1.78 v-5.43 a1.78,1.78 0 0 1 1.78,-1.78 Z" fill="url(#cb9)" fill-opacity="0.95" filter="url(#bl4)"/>
<path d="M378.28,338.58 h0.00 a1.53,1.53 0 0 1 1.53,1.53 v2.14 a1.53,1.53 0 0 1 -1.53,1.53 h-0.00 a1.53,1.53 0 0 1 -1.53,-1.53 v-2.14 a1.53,1.53 0 0 1 1.53,-1.53 Z M377.97,343.17 h0.63 a1.65,1.65 0 0 1 1.65,1.65 v6.35 a1.65,1.65 0 0 1 -1.65,1.65 h-0.63 a1.65,1.65 0 0 1 -1.65,-1.65 v-6.35 a1.65,1.65 0 0 1 1.65,-1.65 Z" fill="url(#cb6)" fill-opacity="0.95" filter="url(#bl4)"/>
<path d="M384.45,339.03 h0.00 a1.72,1.72 0 0 1 1.72,1.72 v1.06 a1.72,1.72 0 0 1 -1.72,1.72 h-0.00 a1.72,1.72 0 0 1 -1.72,-1.72 v-1.06 a1.72,1.72 0 0 1 1.72,-1.72 Z M384.10,342.94 h0.71 a1.86,1.86 0 0 1 1.86,1.86 v4.90 a1.86,1.86 0 0 1 -1.86,1.86 h-0.71 a1.86,1.86 0 0 1 -1.86,-1.86 v-4.90 a1.86,1.86 0 0 1 1.86,-1.86 Z" fill="url(#cb9)" fill-opacity="0.95" filter="url(#bl4)"/>
<text x="374.00" y="360.00" font-size="8.3" text-anchor="middle" fill="#111">7</text>
<path d="M398.88,338.12 h0.00 a1.32,1.32 0 0 1 1.32,1.32 v2.25 a1.32,1.32 0 0 1 -1.32,1.32 h-0.00 a1.32,1.32 0 0 1 -1.32,-1.32 v-2.25 a1.32,1.32 0 0 1 1.32,-1.32 Z M398.61,342.42 h0.54 a1.43,1.43 0 0 1 1.43,1.43 v7.60 a1.43,1.43 0 0 1 -1.43,1.43 h-0.54 a1.43,1.43 0 0 1 -1.43,-1.43 v-7.60 a1.43,1.43 0 0 1 1.43,-1.43 Z" fill="url(#cb1)" fill-opacity="0.95" filter="url(#bl4)"/>
<path d="M404.55,338.57 h0.00 a1.25,1.25 0 0 1 1.25,1.25 v2.04 a1.25,1.25 0 0 1 -1.25,1.25 h-0.00 a1.25,1.25 0 0 1 -1.25,-1.25 v-2.04 a1.25,1.25 0 0 1 1.25,-1.25 Z M404.29,342.51 h0.51 a1.35,1.35 0 0 1 1.35,1.35 v6.94 a1.35,1.35 0 0 1 -1.35,1.35 h-0.51 a1.35,1.35 0 0 1 -1.35,-1.35 v-6.94 a1.35,1.35 0 0 1 1.35,-1.35 Z" fill="url(#cb10)" fill-opacity="0.95" filter="url(#bl4)"/>
<path d="M410.22,338.78 h0.00 a1.38,1.38 0 0 1 1.38,1.38 v2.33 a1.38,1.38 0 0 1 -1.38,1.38 h-0.00 a1.38,1.38 0 0 1 -1.38,-1.38 v-2.33 a1.38,1.38 0 0 1 1.38,-1.38 Z M409.93,343.29 h0.57 a1.49,1.49 0 0 1 1.49,1.49 v5.78 a1.49,1.49 0 0 1 -1.49,1.49 h-0.57 a1.49,1.49 0 0 1 -1.49,-1.49 v-5.78 a1.49,1.49 0 0 1 1.49,-1.49 Z" fill="url(#cb11)" fill-opacity="0.95" filter="url(#bl4)"/>
<text x="407.50" y="360.00" font-size="8.3" text-anchor="middle" fill="#111">8</text>
<path d="M429.57,339.17 h0.00 a1.30,1.30 0 0 1 1.30,1.30 v2.52 a1.30,1.30 0 0 1 -1.30,1.30 h-0.00 a1.30,1.30 0 0 1 -1.30,-1.30 v-2.52 a1.30,1.30 0 0 1 1.30,-1.30 Z M429.31,343.69 h0.53 a1.40,1.40 0 0 1 1.40,1.40 v5.57 a1.40,1.40 0 0 1 -1.40,1.40 h-0.53 a1.40,1.40 0 0 1 -1.40,-1.40 v-5.57 a1.40,1.40 0 0 1 1.40,-1.40 Z" fill="url(#cb8)" fill-opacity="0.95" filter="url(#bl4)"/>
<path d="M434.79,339.29 h0.00 a1.24,1.24 0 0 1 1.24,1.24 v1.57 a1.24,1.24 0 0 1 -1.24,1.24 h-0.00 a1.24,1.24 0 0 1 -1.24,-1.24 v-1.57 a1.24,1.24 0 0 1 1.24,-1.24 Z M434.54,342.74 h0.51 a1.33,1.33 0 0 1 1.33,1.33 v6.68 a1.33,1.33 0 0 1 -1.33,1.33 h-0.51 a1.33,1.33 0 0 1 -1.33,-1.33 v-6.68 a1.33,1.33 0 0 1 1.33,-1.33 Z" fill="url(#cb8)" fill-opacity="0.95" filter="url(#bl4)"/>
<path d="M440.01,339.58 h0.00 a1.22,1.22 0 0 1 1.22,1.22 v1.77 a1.22,1.22 0 0 1 -1.22,1.22 h-0.00 a1.22,1.22 0 0 1 -1.22,-1.22 v-1.77 a1.22,1.22 0 0 1 1.22,-1.22 Z M439.76,343.20 h0.50 a1.32,1.32 0 0 1 1.32,1.32 v5.98 a1.32,1.32 0 0 1 -1.32,1.32 h-0.50 a1.32,1.32 0 0 1 -1.32,-1.32 v-5.98 a1.32,1.32 0 0 1 1.32,-1.32 Z" fill="url(#cb14)" fill-opacity="0.95" filter="url(#bl4)"/>
<path d="M445.22,339.00 h0.00 a1.27,1.27 0 0 1 1.27,1.27 v1.67 a1.27,1.27 0 0 1 -1.27,1.27 h-0.00 a1.27,1.27 0 0 1 -1.27,-1.27 v-1.67 a1.27,1.27 0 0 1 1.27,-1.27 Z M444.96,342.62 h0.52 a1.37,1.37 0 0 1 1.37,1.37 v6.61 a1.37,1.37 0 0 1 -1.37,1.37 h-0.52 a1.37,1.37 0 0 1 -1.37,-1.37 v-6.61 a1.37,1.37 0 0 1 1.37,-1.37 Z" fill="url(#cb0)" fill-opacity="0.95" filter="url(#bl4)"/>
<text x="436.70" y="360.00" font-size="8.3" text-anchor="middle" fill="#111">9</text>
<path d="M459.01,338.78 h0.00 a1.42,1.42 0 0 1 1.42,1.42 v2.31 a1.42,1.42 0 0 1 -1.42,1.42 h-0.00 a1.42,1.42 0 0 1 -1.42,-1.42 v-2.31 a1.42,1.42 0 0 1 1.42,-1.42 Z M458.72,343.32 h0.58 a1.53,1.53 0 0 1 1.53,1.53 v5.55 a1.53,1.53 0 0 1 -1.53,1.53 h-0.58 a1.53,1.53 0 0 1 -1.53,-1.53 v-5.55 a1.53,1.53 0 0 1 1.53,-1.53 Z" fill="url(#cb8)" fill-opacity="0.95" filter="url(#bl4)"/>
<path d="M464.70,339.16 h0.00 a1.46,1.46 0 0 1 1.46,1.46 v1.01 a1.46,1.46 0 0 1 -1.46,1.46 h-0.00 a1.46,1.46 0 0 1 -1.46,-1.46 v-1.01 a1.46,1.46 0 0 1 1.46,-1.46 Z M464.41,342.49 h0.60 a1.57,1.57 0 0 1 1.57,1.57 v6.18 a1.57,1.57 0 0 1 -1.57,1.57 h-0.60 a1.57,1.57 0 0 1 -1.57,-1.57 v-6.18 a1.57,1.57 0 0 1 1.57,-1.57 Z" fill="url(#cb0)" fill-opacity="0.95" filter="url(#bl4)"/>
<path d="M470.40,338.33 h0.00 a1.50,1.50 0 0 1 1.50,1.50 v1.95 a1.50,1.50 0 0 1 -1.50,1.50 h-0.00 a1.50,1.50 0 0 1 -1.50,-1.50 v-1.95 a1.50,1.50 0 0 1 1.50,-1.50 Z M470.09,342.68 h0.61 a1.61,1.61 0 0 1 1.61,1.61 v6.11 a1.61,1.61 0 0 1 -1.61,1.61 h-0.61 a1.61,1.61 0 0 1 -1.61,-1.61 v-6.11 a1.61,1.61 0 0 1 1.61,-1.61 Z" fill="url(#cb7)" fill-opacity="0.95" filter="url(#bl4)"/>
<path d="M476.09,338.78 h0.00 a1.41,1.41 0 0 1 1.41,1.41 v1.77 a1.41,1.41 0 0 1 -1.41,1.41 h-0.00 a1.41,1.41 0 0 1 -1.41,-1.41 v-1.77 a1.41,1.41 0 0 1 1.41,-1.41 Z M475.80,342.77 h0.58 a1.52,1.52 0 0 1 1.52,1.52 v6.79 a1.52,1.52 0 0 1 -1.52,1.52 h-0.58 a1.52,1.52 0 0 1 -1.52,-1.52 v-6.79 a1.52,1.52 0 0 1 1.52,-1.52 Z" fill="url(#cb2)" fill-opacity="0.95" filter="url(#bl4)"/>
<text x="467.70" y="360.00" font-size="8.3" text-anchor="middle" fill="#111">10</text>
<path d="M335.00,361.64 h0.00 a1.74,1.74 0 0 1 1.74,1.74 v0.72 a1.74,1.74 0 0 1 -1.74,1.74 h-0.00 a1.74,1.74 0 0 1 -1.74,-1.74 v-0.72 a1.74,1.74 0 0 1 1.74,-1.74 Z M334.64,365.24 h0.71 a1.88,1.88 0 0 1 1.88,1.88 v4.50 a1.88,1.88 0 0 1 -1.88,1.88 h-0.71 a1.88,1.88 0 0 1 -1.88,-1.88 v-4.50 a1.88,1.88 0 0 1 1.88,-1.88 Z" fill="url(#cb11)" fill-opacity="0.95" filter="url(#bl4)"/>
<path d="M341.90,361.97 h0.00 a1.71,1.71 0 0 1 1.71,1.71 v0.61 a1.71,1.71 0 0 1 -1.71,1.71 h-0.00 a1.71,1.71 0 0 1 -1.71,-1.71 v-0.61 a1.71,1.71 0 0 1 1.71,-1.71 Z M341.55,365.40 h0.70 a1.84,1.84 0 0 1 1.84,1.84 v4.54 a1.84,1.84 0 0 1 -1.84,1.84 h-0.70 a1.84,1.84 0 0 1 -1.84,-1.84 v-4.54 a1.84,1.84 0 0 1 1.84,-1.84 Z" fill="url(#cb10)" fill-opacity="0.95" filter="url(#bl4)"/>
<path d="M348.80,361.75 h0.00 a1.70,1.70 0 0 1 1.70,1.70 v0.85 a1.70,1.70 0 0 1 -1.70,1.70 h-0.00 a1.70,1.70 0 0 1 -1.70,-1.70 v-0.85 a1.70,1.70 0 0 1 1.70,-1.70 Z M348.45,365.40 h0.70 a1.83,1.83 0 0 1 1.83,1.83 v3.78 a1.83,1.83 0 0 1 -1.83,1.83 h-0.70 a1.83,1.83 0 0 1 -1.83,-1.83 v-3.78 a1.83,1.83 0 0 1 1.83,-1.83 Z" fill="url(#cb6)" fill-opacity="0.95" filter="url(#bl4)"/>
<text x="342.20" y="384.70" font-size="8.3" text-anchor="middle" fill="#111">11</text>
<path d="M364.87,362.91 h0.00 a1.51,1.51 0 0 1 1.51,1.51 v0.75 a1.51,1.51 0 0 1 -1.51,1.51 h-0.00 a1.51,1.51 0 0 1 -1.51,-1.51 v-0.75 a1.51,1.51 0 0 1 1.51,-1.51 Z M364.57,366.08 h0.62 a1.63,1.63 0 0 1 1.63,1.63 v4.21 a1.63,1.63 0 0 1 -1.63,1.63 h-0.62 a1.63,1.63 0 0 1 -1.63,-1.63 v-4.21 a1.63,1.63 0 0 1 1.63,-1.63 Z" fill="url(#cb6)" fill-opacity="0.95" filter="url(#bl4)"/>
<path d="M370.89,362.50 h0.00 a1.69,1.69 0 0 1 1.69,1.69 v1.11 a1.69,1.69 0 0 1 -1.69,1.69 h-0.00 a1.69,1.69 0 0 1 -1.69,-1.69 v-1.11 a1.69,1.69 0 0 1 1.69,-1.69 Z M370.54,366.40 h0.70 a1.83,1.83 0 0 1 1.83,1.83 v3.91 a1.83,1.83 0 0 1 -1.83,1.83 h-0.70 a1.83,1.83 0 0 1 -1.83,-1.83 v-3.91 a1.83,1.83 0 0 1 1.83,-1.83 Z" fill="url(#cb9)" fill-opacity="0.95" filter="url(#bl4)"/>
<path d="M376.91,361.73 h0.00 a1.46,1.46 0 0 1 1.46,1.46 v1.12 a1.46,1.46 0 0 1 -1.46,1.46 h-0.00 a1.46,1.46 0 0 1 -1.46,-1.46 v-1.12 a1.46,1.46 0 0 1 1.46,-1.46 Z M376.61,365.17 h0.60 a1.57,1.57 0 0 1 1.57,1.57 v4.72 a1.57,1.57 0 0 1 -1.57,1.57 h-0.60 a1.57,1.57 0 0 1 -1.57,-1.57 v-4.72 a1.57,1.57 0 0 1 1.57,-1.57 Z" fill="url(#cb9)" fill-opacity="0.95" filter="url(#bl4)"/>
<path d="M382.93,361.69 h0.00 a1.63,1.63 0 0 1 1.63,1.63 v0.48 a1.63,1.63 0 0 1 -1.63,1.63 h-0.00 a1.63,1.63 0 0 1 -1.63,-1.63 v-0.48 a1.63,1.63 0 0 1 1.63,-1.63 Z M382.59,364.82 h0.67 a1.75,1.75 0 0 1 1.75,1.75 v5.64 a1.75,1.75 0 0 1 -1.75,1.75 h-0.67 a1.75,1.75 0 0 1 -1.75,-1.75 v-5.64 a1.75,1.75 0 0 1 1.75,-1.75 Z" fill="url(#cb9)" fill-opacity="0.95" filter="url(#bl4)"/>
<text x="373.00" y="384.70" font-size="8.3" text-anchor="middle" fill="#111">12</text>
<path d="M401.75,362.76 h0.26 a1.85,1.85 0 0 1 1.85,1.85 v0.00 a1.85,1.85 0 0 1 -1.85,1.85 h-0.26 a1.85,1.85 0 0 1 -1.85,-1.85 v-0.00 a1.85,1.85 0 0 1 1.85,-1.85 Z M401.47,365.87 h0.81 a2.13,2.13 0 0 1 2.13,2.13 v3.10 a2.13,2.13 0 0 1 -2.13,2.13 h-0.81 a2.13,2.13 0 0 1 -2.13,-2.13 v-3.10 a2.13,2.13 0 0 1 2.13,-2.13 Z" fill="url(#cb0)" fill-opacity="0.95" filter="url(#bl4)"/>
<path d="M409.43,361.99 h0.00 a1.88,1.88 0 0 1 1.88,1.88 v0.54 a1.88,1.88 0 0 1 -1.88,1.88 h-0.00 a1.88,1.88 0 0 1 -1.88,-1.88 v-0.54 a1.88,1.88 0 0 1 1.88,-1.88 Z M409.04,365.70 h0.77 a2.03,2.03 0 0 1 2.03,2.03 v3.02 a2.03,2.03 0 0 1 -2.03,2.03 h-0.77 a2.03,2.03 0 0 1 -2.03,-2.03 v-3.02 a2.03,2.03 0 0 1 2.03,-2.03 Z" fill="url(#cb1)" fill-opacity="0.95" filter="url(#bl4)"/>
<text x="405.00" y="384.70" font-size="8.3" text-anchor="middle" fill="#111">13</text>
<path d="M430.45,361.41 h0.00 a1.39,1.39 0 0 1 1.39,1.39 v1.36 a1.39,1.39 0 0 1 -1.39,1.39 h-0.00 a1.39,1.39 0 0 1 -1.39,-1.39 v-1.36 a1.39,1.39 0 0 1 1.39,-1.39 Z M430.17,364.94 h0.57 a1.49,1.49 0 0 1 1.49,1.49 v4.68 a1.49,1.49 0 0 1 -1.49,1.49 h-0.57 a1.49,1.49 0 0 1 -1.49,-1.49 v-4.68 a1.49,1.49 0 0 1 1.49,-1.49 Z" fill="url(#cb15)" fill-opacity="0.95" filter="url(#bl4)"/>
<path d="M436.45,361.30 h0.00 a1.39,1.39 0 0 1 1.39,1.39 v0.91 a1.39,1.39 0 0 1 -1.39,1.39 h-0.00 a1.39,1.39 0 0 1 -1.39,-1.39 v-0.91 a1.39,1.39 0 0 1 1.39,-1.39 Z M436.17,364.38 h0.57 a1.50,1.50 0 0 1 1.50,1.50 v5.35 a1.50,1.50 0 0 1 -1.50,1.50 h-0.57 a1.50,1.50 0 0 1 -1.50,-1.50 v-5.35 a1.50,1.50 0 0 1 1.50,-1.50 Z" fill="url(#cb9)" fill-opacity="0.95" filter="url(#bl4)"/>
<path d="M442.45,362.20 h0.00 a1.55,1.55 0 0 1 1.55,1.55 v0.63 a1.55,1.55 0 0 1 -1.55,1.55 h-0.00 a1.55,1.55 0 0 1 -1.55,-1.55 v-0.63 a1.55,1.55 0 0 1 1.55,-1.55 Z M442.13,365.32 h0.63 a1.66,1.66 0 0 1 1.66,1.66 v4.47 a1.66,1.66 0 0 1 -1.66,1.66 h-0.63 a1.66,1.66 0 0 1 -1.66,-1.66 v-4.47 a1.66,1.66 0 0 1 1.66,-1.66 Z" fill="url(#cb7)" fill-opacity="0.95" filter="url(#bl4)"/>
<text x="435.60" y="384.70" font-size="8.3" text-anchor="middle" fill="#111">14</text>
<path d="M458.48,362.84 h0.00 a1.53,1.53 0 0 1 1.53,1.53 v0.72 a1.53,1.53 0 0 1 -1.53,1.53 h-0.00 a1.53,1.53 0 0 1 -1.53,-1.53 v-0.72 a1.53,1.53 0 0 1 1.53,-1.53 Z M458.16,366.02 h0.63 a1.65,1.65 0 0 1 1.65,1.65 v3.63 a1.65,1.65 0 0 1 -1.65,1.65 h-0.63 a1.65,1.65 0 0 1 -1.65,-1.65 v-3.63 a1.65,1.65 0 0 1 1.65,-1.65 Z" fill="url(#cb13)" fill-opacity="0.95" filter="url(#bl4)"/>
<path d="M464.49,362.30 h0.00 a1.61,1.61 0 0 1 1.61,1.61 v0.46 a1.61,1.61 0 0 1 -1.61,1.61 h-0.00 a1.61,1.61 0 0 1 -1.61,-1.61 v-0.46 a1.61,1.61 0 0 1 1.61,-1.61 Z M464.16,365.37 h0.66 a1.73,1.73 0 0 1 1.73,1.73 v4.77 a1.73,1.73 0 0 1 -1.73,1.73 h-0.66 a1.73,1.73 0 0 1 -1.73,-1.73 v-4.77 a1.73,1.73 0 0 1 1.73,-1.73 Z" fill="url(#cb6)" fill-opacity="0.95" filter="url(#bl4)"/>
<path d="M470.51,361.35 h0.00 a1.49,1.49 0 0 1 1.49,1.49 v0.94 a1.49,1.49 0 0 1 -1.49,1.49 h-0.00 a1.49,1.49 0 0 1 -1.49,-1.49 v-0.94 a1.49,1.49 0 0 1 1.49,-1.49 Z M470.20,364.67 h0.61 a1.61,1.61 0 0 1 1.61,1.61 v4.97 a1.61,1.61 0 0 1 -1.61,1.61 h-0.61 a1.61,1.61 0 0 1 -1.61,-1.61 v-4.97 a1.61,1.61 0 0 1 1.61,-1.61 Z" fill="url(#cb2)" fill-opacity="0.95" filter="url(#bl4)"/>
<path d="M476.53,362.44 h0.00 a1.51,1.51 0 0 1 1.51,1.51 v1.07 a1.51,1.51 0 0 1 -1.51,1.51 h-0.00 a1.51,1.51 0 0 1 -1.51,-1.51 v-1.07 a1.51,1.51 0 0 1 1.51,-1.51 Z M476.21,365.94 h0.62 a1.63,1.63 0 0 1 1.63,1.63 v4.01 a1.63,1.63 0 0 1 -1.63,1.63 h-0.62 a1.63,1.63 0 0 1 -1.63,-1.63 v-4.01 a1.63,1.63 0 0 1 1.63,-1.63 Z" fill="url(#cb1)" fill-opacity="0.95" filter="url(#bl4)"/>
<text x="466.00" y="384.70" font-size="8.3" text-anchor="middle" fill="#111">15</text>
<path d="M333.19,390.97 h0.22 a1.67,1.67 0 0 1 1.67,1.67 v0.00 a1.67,1.67 0 0 1 -1.67,1.67 h-0.22 a1.67,1.67 0 0 1 -1.67,-1.67 v-0.00 a1.67,1.67 0 0 1 1.67,-1.67 Z M332.93,393.71 h0.73 a1.92,1.92 0 0 1 1.92,1.92 v1.63 a1.92,1.92 0 0 1 -1.92,1.92 h-0.73 a1.92,1.92 0 0 1 -1.92,-1.92 v-1.63 a1.92,1.92 0 0 1 1.92,-1.92 Z" fill="url(#cb7)" fill-opacity="0.95" filter="url(#bl4)"/>
<path d="M339.54,390.83 h0.06 a1.62,1.62 0 0 1 1.62,1.62 v0.00 a1.62,1.62 0 0 1 -1.62,1.62 h-0.06 a1.62,1.62 0 0 1 -1.62,-1.62 v-0.00 a1.62,1.62 0 0 1 1.62,-1.62 Z M339.23,393.47 h0.68 a1.78,1.78 0 0 1 1.78,1.78 v2.46 a1.78,1.78 0 0 1 -1.78,1.78 h-0.68 a1.78,1.78 0 0 1 -1.78,-1.78 v-2.46 a1.78,1.78 0 0 1 1.78,-1.78 Z" fill="url(#cb6)" fill-opacity="0.95" filter="url(#bl4)"/>
<path d="M345.74,390.87 h0.19 a1.47,1.47 0 0 1 1.47,1.47 v0.00 a1.47,1.47 0 0 1 -1.47,1.47 h-0.19 a1.47,1.47 0 0 1 -1.47,-1.47 v-0.00 a1.47,1.47 0 0 1 1.47,-1.47 Z M345.51,393.20 h0.64 a1.68,1.68 0 0 1 1.68,1.68 v3.29 a1.68,1.68 0 0 1 -1.68,1.68 h-0.64 a1.68,1.68 0 0 1 -1.68,-1.68 v-3.29 a1.68,1.68 0 0 1 1.68,-1.68 Z" fill="url(#cb4)" fill-opacity="0.95" filter="url(#bl4)"/>
<path d="M352.10,390.25 h0.00 a1.66,1.66 0 0 1 1.66,1.66 v0.06 a1.66,1.66 0 0 1 -1.66,1.66 h-0.00 a1.66,1.66 0 0 1 -1.66,-1.66 v-0.06 a1.66,1.66 0 0 1 1.66,-1.66 Z M351.76,393.03 h0.68 a1.78,1.78 0 0 1 1.78,1.78 v3.02 a1.78,1.78 0 0 1 -1.78,1.78 h-0.68 a1.78,1.78 0 0 1 -1.78,-1.78 v-3.02 a1.78,1.78 0 0 1 1.78,-1.78 Z" fill="url(#cb9)" fill-opacity="0.95" filter="url(#bl4)"/>
<text x="342.50" y="409.50" font-size="8.3" text-anchor="middle" fill="#111">16</text>
<path d="M369.53,390.25 h0.00 a1.46,1.46 0 0 1 1.46,1.46 v0.32 a1.46,1.46 0 0 1 -1.46,1.46 h-0.00 a1.46,1.46 0 0 1 -1.46,-1.46 v-0.32 a1.46,1.46 0 0 1 1.46,-1.46 Z M369.22,392.90 h0.60 a1.58,1.58 0 0 1 1.58,1.58 v3.05 a1.58,1.58 0 0 1 -1.58,1.58 h-0.60 a1.58,1.58 0 0 1 -1.58,-1.58 v-3.05 a1.58,1.58 0 0 1 1.58,-1.58 Z" fill="url(#cb8)" fill-opacity="0.95" filter="url(#bl4)"/>
<path d="M375.78,389.84 h0.00 a1.52,1.52 0 0 1 1.52,1.52 v0.29 a1.52,1.52 0 0 1 -1.52,1.52 h-0.00 a1.52,1.52 0 0 1 -1.52,-1.52 v-0.29 a1.52,1.52 0 0 1 1.52,-1.52 Z M375.46,392.57 h0.62 a1.63,1.63 0 0 1 1.63,1.63 v2.73 a1.63,1.63 0 0 1 -1.63,1.63 h-0.62 a1.63,1.63 0 0 1 -1.63,-1.63 v-2.73 a1.63,1.63 0 0 1 1.63,-1.63 Z" fill="url(#cb13)" fill-opacity="0.95" filter="url(#bl4)"/>
<text x="372.10" y="409.50" font-size="8.3" text-anchor="middle" fill="#111">17</text>
<path d="M386.88,389.75 h0.00 a1.54,1.54 0 0 1 1.54,1.54 v0.44 a1.54,1.54 0 0 1 -1.54,1.54 h-0.00 a1.54,1.54 0 0 1 -1.54,-1.54 v-0.44 a1.54,1.54 0 0 1 1.54,-1.54 Z M386.57,392.66 h0.63 a1.66,1.66 0 0 1 1.66,1.66 v2.86 a1.66,1.66 0 0 1 -1.66,1.66 h-0.63 a1.66,1.66 0 0 1 -1.66,-1.66 v-2.86 a1.66,1.66 0 0 1 1.66,-1.66 Z" fill="url(#cb0)" fill-opacity="0.9" filter="url(#bl4)"/>
<path d="M391.56,390.19 h0.00 a1.42,1.42 0 0 1 1.42,1.42 v0.42 a1.42,1.42 0 0 1 -1.42,1.42 h-0.00 a1.42,1.42 0 0 1 -1.42,-1.42 v-0.42 a1.42,1.42 0 0 1 1.42,-1.42 Z M391.27,392.85 h0.58 a1.53,1.53 0 0 1 1.53,1.53 v2.64 a1.53,1.53 0 0 1 -1.53,1.53 h-0.58 a1.53,1.53 0 0 1 -1.53,-1.53 v-2.64 a1.53,1.53 0 0 1 1.53,-1.53 Z" fill="url(#cb5)" fill-opacity="0.9" filter="url(#bl4)"/>
<path d="M396.18,391.35 h0.10 a1.41,1.41 0 0 1 1.41,1.41 v0.00 a1.41,1.41 0 0 1 -1.41,1.41 h-0.10 a1.41,1.41 0 0 1 -1.41,-1.41 v-0.00 a1.41,1.41 0 0 1 1.41,-1.41 Z M395.94,393.57 h0.60 a1.57,1.57 0 0 1 1.57,1.57 v2.06 a1.57,1.57 0 0 1 -1.57,1.57 h-0.60 a1.57,1.57 0 0 1 -1.57,-1.57 v-2.06 a1.57,1.57 0 0 1 1.57,-1.57 Z" fill="url(#cb13)" fill-opacity="0.9" filter="url(#bl4)"/>
<path d="M400.91,389.86 h0.00 a1.39,1.39 0 0 1 1.39,1.39 v0.13 a1.39,1.39 0 0 1 -1.39,1.39 h-0.00 a1.39,1.39 0 0 1 -1.39,-1.39 v-0.13 a1.39,1.39 0 0 1 1.39,-1.39 Z M400.63,392.18 h0.57 a1.50,1.50 0 0 1 1.50,1.50 v3.85 a1.50,1.50 0 0 1 -1.50,1.50 h-0.57 a1.50,1.50 0 0 1 -1.50,-1.50 v-3.85 a1.50,1.50 0 0 1 1.50,-1.50 Z" fill="url(#cb10)" fill-opacity="0.9" filter="url(#bl4)"/>
<path d="M405.59,389.99 h0.00 a1.38,1.38 0 0 1 1.38,1.38 v1.06 a1.38,1.38 0 0 1 -1.38,1.38 h-0.00 a1.38,1.38 0 0 1 -1.38,-1.38 v-1.06 a1.38,1.38 0 0 1 1.38,-1.38 Z M405.30,393.22 h0.57 a1.49,1.49 0 0 1 1.49,1.49 v2.92 a1.49,1.49 0 0 1 -1.49,1.49 h-0.57 a1.49,1.49 0 0 1 -1.49,-1.49 v-2.92 a1.49,1.49 0 0 1 1.49,-1.49 Z" fill="url(#cb15)" fill-opacity="0.9" filter="url(#bl4)"/>
<path d="M410.27,391.16 h0.00 a1.34,1.34 0 0 1 1.34,1.34 v0.13 a1.34,1.34 0 0 1 -1.34,1.34 h-0.00 a1.34,1.34 0 0 1 -1.34,-1.34 v-0.13 a1.34,1.34 0 0 1 1.34,-1.34 Z M409.99,393.37 h0.55 a1.44,1.44 0 0 1 1.44,1.44 v3.07 a1.44,1.44 0 0 1 -1.44,1.44 h-0.55 a1.44,1.44 0 0 1 -1.44,-1.44 v-3.07 a1.44,1.44 0 0 1 1.44,-1.44 Z" fill="url(#cb14)" fill-opacity="0.9" filter="url(#bl4)"/>
<path d="M414.94,389.91 h0.00 a1.47,1.47 0 0 1 1.47,1.47 v0.64 a1.47,1.47 0 0 1 -1.47,1.47 h-0.00 a1.47,1.47 0 0 1 -1.47,-1.47 v-0.64 a1.47,1.47 0 0 1 1.47,-1.47 Z M414.64,392.88 h0.60 a1.58,1.58 0 0 1 1.58,1.58 v3.62 a1.58,1.58 0 0 1 -1.58,1.58 h-0.60 a1.58,1.58 0 0 1 -1.58,-1.58 v-3.62 a1.58,1.58 0 0 1 1.58,-1.58 Z" fill="url(#cb0)" fill-opacity="0.9" filter="url(#bl4)"/>
<path d="M419.62,390.44 h0.00 a1.46,1.46 0 0 1 1.46,1.46 v0.18 a1.46,1.46 0 0 1 -1.46,1.46 h-0.00 a1.46,1.46 0 0 1 -1.46,-1.46 v-0.18 a1.46,1.46 0 0 1 1.46,-1.46 Z M419.32,392.94 h0.60 a1.57,1.57 0 0 1 1.57,1.57 v2.70 a1.57,1.57 0 0 1 -1.57,1.57 h-0.60 a1.57,1.57 0 0 1 -1.57,-1.57 v-2.70 a1.57,1.57 0 0 1 1.57,-1.57 Z" fill="url(#cb11)" fill-opacity="0.9" filter="url(#bl4)"/>
<text x="401.70" y="409.50" font-size="8.3" text-anchor="middle" fill="#111">18</text>
<path d="M427.79,394.00 h0.29 a1.10,1.10 0 0 1 1.10,1.10 v0.00 a1.10,1.10 0 0 1 -1.10,1.10 h-0.29 a1.10,1.10 0 0 1 -1.10,-1.10 v-0.00 a1.10,1.10 0 0 1 1.10,-1.10 Z M427.68,395.61 h0.51 a1.35,1.35 0 0 1 1.35,1.35 v0.28 a1.35,1.35 0 0 1 -1.35,1.35 h-0.51 a1.35,1.35 0 0 1 -1.35,-1.35 v-0.28 a1.35,1.35 0 0 1 1.35,-1.35 Z" fill="url(#cb8)" fill-opacity="0.95" filter="url(#bl4)"/>
<path d="M432.16,393.99 h0.00 a1.15,1.15 0 0 1 1.15,1.15 v0.05 a1.15,1.15 0 0 1 -1.15,1.15 h-0.00 a1.15,1.15 0 0 1 -1.15,-1.15 v-0.05 a1.15,1.15 0 0 1 1.15,-1.15 Z M431.92,395.74 h0.47 a1.24,1.24 0 0 1 1.24,1.24 v1.32 a1.24,1.24 0 0 1 -1.24,1.24 h-0.47 a1.24,1.24 0 0 1 -1.24,-1.24 v-1.32 a1.24,1.24 0 0 1 1.24,-1.24 Z" fill="url(#cb3)" fill-opacity="0.95" filter="url(#bl4)"/>
<path d="M436.19,394.64 h0.40 a1.05,1.05 0 0 1 1.05,1.05 v0.00 a1.05,1.05 0 0 1 -1.05,1.05 h-0.40 a1.05,1.05 0 0 1 -1.05,-1.05 v-0.00 a1.05,1.05 0 0 1 1.05,-1.05 Z M436.13,396.15 h0.51 a1.35,1.35 0 0 1 1.35,1.35 v0.72 a1.35,1.35 0 0 1 -1.35,1.35 h-0.51 a1.35,1.35 0 0 1 -1.35,-1.35 v-0.72 a1.35,1.35 0 0 1 1.35,-1.35 Z" fill="url(#cb9)" fill-opacity="0.95" filter="url(#bl4)"/>
<path d="M440.52,393.37 h0.19 a1.14,1.14 0 0 1 1.14,1.14 v0.00 a1.14,1.14 0 0 1 -1.14,1.14 h-0.19 a1.14,1.14 0 0 1 -1.14,-1.14 v-0.00 a1.14,1.14 0 0 1 1.14,-1.14 Z M440.36,395.05 h0.51 a1.33,1.33 0 0 1 1.33,1.33 v2.28 a1.33,1.33 0 0 1 -1.33,1.33 h-0.51 a1.33,1.33 0 0 1 -1.33,-1.33 v-2.28 a1.33,1.33 0 0 1 1.33,-1.33 Z" fill="url(#cb3)" fill-opacity="0.95" filter="url(#bl4)"/>
<path d="M444.52,394.70 h0.65 a0.92,0.92 0 0 1 0.92,0.92 v0.00 a0.92,0.92 0 0 1 -0.92,0.92 h-0.65 a0.92,0.92 0 0 1 -0.92,-0.92 v-0.00 a0.92,0.92 0 0 1 0.92,-0.92 Z M444.58,395.94 h0.51 a1.34,1.34 0 0 1 1.34,1.34 v0.63 a1.34,1.34 0 0 1 -1.34,1.34 h-0.51 a1.34,1.34 0 0 1 -1.34,-1.34 v-0.63 a1.34,1.34 0 0 1 1.34,-1.34 Z" fill="url(#cb9)" fill-opacity="0.95" filter="url(#bl4)"/>
<path d="M448.81,394.70 h0.51 a0.98,0.98 0 0 1 0.98,0.98 v0.00 a0.98,0.98 0 0 1 -0.98,0.98 h-0.51 a0.98,0.98 0 0 1 -0.98,-0.98 v-0.00 a0.98,0.98 0 0 1 0.98,-0.98 Z M448.81,396.06 h0.51 a1.33,1.33 0 0 1 1.33,1.33 v1.25 a1.33,1.33 0 0 1 -1.33,1.33 h-0.51 a1.33,1.33 0 0 1 -1.33,-1.33 v-1.25 a1.33,1.33 0 0 1 1.33,-1.33 Z" fill="url(#cb7)" fill-opacity="0.95" filter="url(#bl4)"/>
<text x="435.60" y="409.50" font-size="8.3" text-anchor="middle" fill="#111">19</text>
<path d="M458.88,388.54 h0.00 a1.43,1.43 0 0 1 1.43,1.43 v0.88 a1.43,1.43 0 0 1 -1.43,1.43 h-0.00 a1.43,1.43 0 0 1 -1.43,-1.43 v-0.88 a1.43,1.43 0 0 1 1.43,-1.43 Z M458.58,391.67 h0.58 a1.54,1.54 0 0 1 1.54,1.54 v5.26 a1.54,1.54 0 0 1 -1.54,1.54 h-0.58 a1.54,1.54 0 0 1 -1.54,-1.54 v-5.26 a1.54,1.54 0 0 1 1.54,-1.54 Z" fill="url(#cb4)" fill-opacity="0.95" filter="url(#bl4)"/>
<path d="M464.83,389.62 h0.00 a1.42,1.42 0 0 1 1.42,1.42 v0.53 a1.42,1.42 0 0 1 -1.42,1.42 h-0.00 a1.42,1.42 0 0 1 -1.42,-1.42 v-0.53 a1.42,1.42 0 0 1 1.42,-1.42 Z M464.53,392.39 h0.58 a1.53,1.53 0 0 1 1.53,1.53 v4.28 a1.53,1.53 0 0 1 -1.53,1.53 h-0.58 a1.53,1.53 0 0 1 -1.53,-1.53 v-4.28 a1.53,1.53 0 0 1 1.53,-1.53 Z" fill="url(#cb8)" fill-opacity="0.95" filter="url(#bl4)"/>
<text x="463.10" y="409.50" font-size="8.3" text-anchor="middle" fill="#111">X</text>
<path d="M471.32,392.74 h0.00 a1.31,1.31 0 0 1 1.31,1.31 v0.12 a1.31,1.31 0 0 1 -1.31,1.31 h-0.00 a1.31,1.31 0 0 1 -1.31,-1.31 v-0.12 a1.31,1.31 0 0 1 1.31,-1.31 Z M471.06,394.86 h0.54 a1.41,1.41 0 0 1 1.41,1.41 v2.31 a1.41,1.41 0 0 1 -1.41,1.41 h-0.54 a1.41,1.41 0 0 1 -1.41,-1.41 v-2.31 a1.41,1.41 0 0 1 1.41,-1.41 Z" fill="url(#cb15)" fill-opacity="0.95" filter="url(#bl4)"/>
<path d="M476.96,393.07 h0.04 a1.21,1.21 0 0 1 1.21,1.21 v0.00 a1.21,1.21 0 0 1 -1.21,1.21 h-0.04 a1.21,1.21 0 0 1 -1.21,-1.21 v-0.00 a1.21,1.21 0 0 1 1.21,-1.21 Z M476.72,394.89 h0.50 a1.32,1.32 0 0 1 1.32,1.32 v2.06 a1.32,1.32 0 0 1 -1.32,1.32 h-0.50 a1.32,1.32 0 0 1 -1.32,-1.32 v-2.06 a1.32,1.32 0 0 1 1.32,-1.32 Z" fill="url(#cb12)" fill-opacity="0.95" filter="url(#bl4)"/>
<text x="473.70" y="409.50" font-size="8.3" text-anchor="middle" fill="#111">Y</text>
<polygon points="284.20,312.20 286.07,305.93 290.05,309.27" fill="#111"/>
<line x1="288.06" y1="307.60" x2="289.47" y2="305.92" stroke="#333" stroke-width="0.6"/>
<polygon points="250.60,390.40 252.47,384.13 256.45,387.47" fill="#111"/>
<line x1="254.46" y1="385.80" x2="255.87" y2="384.12" stroke="#333" stroke-width="0.6"/>
<polygon points="415.20,389.00 417.07,382.73 421.05,386.07" fill="#111"/>
<line x1="419.06" y1="384.40" x2="420.47" y2="382.72" stroke="#333" stroke-width="0.6"/>
<text x="1.60" y="435.40" font-size="12.6" font-weight="bold" fill="#000">G</text>
<text x="71.50" y="442.00" font-size="8.1" text-anchor="middle" fill="#111">Chromosome 6</text>
<line x1="28.90" y1="451.90" x2="28.90" y2="510.20" stroke="#888" stroke-width="0.9"/>
<line x1="26.50" y1="510.20" x2="28.90" y2="510.20" stroke="#777" stroke-width="0.7"/>
<text x="24.50" y="511.60" font-size="7.1" text-anchor="end" fill="#111" style="stroke-width:0.4px">0</text>
<line x1="26.50" y1="498.64" x2="28.90" y2="498.64" stroke="#777" stroke-width="0.7"/>
<text x="24.50" y="500.04" font-size="7.1" text-anchor="end" fill="#111" style="stroke-width:0.4px">20</text>
<line x1="26.50" y1="487.08" x2="28.90" y2="487.08" stroke="#777" stroke-width="0.7"/>
<text x="24.50" y="488.48" font-size="7.1" text-anchor="end" fill="#111" style="stroke-width:0.4px">40</text>
<line x1="26.50" y1="475.52" x2="28.90" y2="475.52" stroke="#777" stroke-width="0.7"/>
<text x="24.50" y="476.92" font-size="7.1" text-anchor="end" fill="#111" style="stroke-width:0.4px">60</text>
<line x1="26.50" y1="463.96" x2="28.90" y2="463.96" stroke="#777" stroke-width="0.7"/>
<text x="24.50" y="465.36" font-size="7.1" text-anchor="end" fill="#111" style="stroke-width:0.4px">80</text>
<line x1="26.50" y1="452.40" x2="28.90" y2="452.40" stroke="#777" stroke-width="0.7"/>
<text x="24.50" y="453.80" font-size="7.1" text-anchor="end" fill="#111" style="stroke-width:0.4px">100</text>
<line x1="27.80" y1="504.42" x2="28.90" y2="504.42" stroke="#555" stroke-width="0.5"/>
<line x1="27.80" y1="492.86" x2="28.90" y2="492.86" stroke="#555" stroke-width="0.5"/>
<line x1="27.80" y1="481.30" x2="28.90" y2="481.30" stroke="#555" stroke-width="0.5"/>
<line x1="27.80" y1="469.74" x2="28.90" y2="469.74" stroke="#555" stroke-width="0.5"/>
<line x1="27.80" y1="458.18" x2="28.90" y2="458.18" stroke="#555" stroke-width="0.5"/>
<line x1="28.90" y1="510.20" x2="102.50" y2="510.20" stroke="#555" stroke-width="0.8"/>
<rect x="32.90" y="452.40" width="7.70" height="57.80" fill="#000"/>
<rect x="41.50" y="459.91" width="7.70" height="50.29" fill="url(#chk2)" stroke="#222" stroke-width="0.4"/>
<line x1="41.20" y1="510.20" x2="41.20" y2="511.80" stroke="#555" stroke-width="0.5"/>
<text x="41.20" y="519.80" font-size="7.9" text-anchor="middle" fill="#111">1-2</text>
<rect x="65.30" y="502.11" width="7.70" height="8.09" fill="url(#chk2)" stroke="#222" stroke-width="0.4"/>
<line x1="65.00" y1="510.20" x2="65.00" y2="511.80" stroke="#555" stroke-width="0.5"/>
<text x="65.00" y="519.80" font-size="7.9" text-anchor="middle" fill="#111">3</text>
<rect x="88.90" y="509.62" width="7.70" height="0.58" fill="url(#chk2)" stroke="#222" stroke-width="0.4"/>
<line x1="88.60" y1="510.20" x2="88.60" y2="511.80" stroke="#555" stroke-width="0.5"/>
<text x="88.60" y="519.80" font-size="7.9" text-anchor="middle" fill="#111">4</text>
<text x="66.00" y="529.20" font-size="8.0" text-anchor="middle" fill="#111">Number of signal per cell</text>
<text x="10.40" y="477.00" font-size="8.0" text-anchor="middle" fill="#111" transform="rotate(-90 10.4 477.0)">% Cell</text>
<rect x="54.20" y="455.00" width="9.60" height="4.60" fill="#111"/>
<rect x="54.20" y="463.40" width="9.60" height="4.60" fill="url(#chk2)"/>
<text x="65.50" y="460.10" font-size="7.9" fill="#111">Normal spleen</text>
<text x="65.50" y="468.50" font-size="7.9" fill="#111">Lymphoma</text>
<text x="192.30" y="441.90" font-size="8.1" text-anchor="middle" fill="#111">Chromosome18</text>
<line x1="150.40" y1="452.00" x2="150.40" y2="510.30" stroke="#888" stroke-width="0.9"/>
<line x1="148.00" y1="510.30" x2="150.40" y2="510.30" stroke="#777" stroke-width="0.7"/>
<text x="146.00" y="511.70" font-size="7.1" text-anchor="end" fill="#111" style="stroke-width:0.4px">0</text>
<line x1="148.00" y1="498.74" x2="150.40" y2="498.74" stroke="#777" stroke-width="0.7"/>
<text x="146.00" y="500.14" font-size="7.1" text-anchor="end" fill="#111" style="stroke-width:0.4px">20</text>
<line x1="148.00" y1="487.18" x2="150.40" y2="487.18" stroke="#777" stroke-width="0.7"/>
<text x="146.00" y="488.58" font-size="7.1" text-anchor="end" fill="#111" style="stroke-width:0.4px">40</text>
<line x1="148.00" y1="475.62" x2="150.40" y2="475.62" stroke="#777" stroke-width="0.7"/>
<text x="146.00" y="477.02" font-size="7.1" text-anchor="end" fill="#111" style="stroke-width:0.4px">60</text>
<line x1="148.00" y1="464.06" x2="150.40" y2="464.06" stroke="#777" stroke-width="0.7"/>
<text x="146.00" y="465.46" font-size="7.1" text-anchor="end" fill="#111" style="stroke-width:0.4px">80</text>
<line x1="148.00" y1="452.50" x2="150.40" y2="452.50" stroke="#777" stroke-width="0.7"/>
<text x="146.00" y="453.90" font-size="7.1" text-anchor="end" fill="#111" style="stroke-width:0.4px">100</text>
<line x1="149.30" y1="504.52" x2="150.40" y2="504.52" stroke="#555" stroke-width="0.5"/>
<line x1="149.30" y1="492.96" x2="150.40" y2="492.96" stroke="#555" stroke-width="0.5"/>
<line x1="149.30" y1="481.40" x2="150.40" y2="481.40" stroke="#555" stroke-width="0.5"/>
<line x1="149.30" y1="469.84" x2="150.40" y2="469.84" stroke="#555" stroke-width="0.5"/>
<line x1="149.30" y1="458.28" x2="150.40" y2="458.28" stroke="#555" stroke-width="0.5"/>
<line x1="150.40" y1="510.30" x2="222.00" y2="510.30" stroke="#555" stroke-width="0.8"/>
<rect x="154.30" y="452.50" width="7.60" height="57.80" fill="#000"/>
<rect x="162.80" y="458.28" width="7.60" height="52.02" fill="url(#chk2)" stroke="#222" stroke-width="0.4"/>
<line x1="162.50" y1="510.30" x2="162.50" y2="511.90" stroke="#555" stroke-width="0.5"/>
<text x="162.50" y="520.20" font-size="7.9" text-anchor="middle" fill="#111">1-2</text>
<rect x="186.70" y="505.68" width="7.60" height="4.62" fill="url(#chk2)" stroke="#222" stroke-width="0.4"/>
<line x1="186.40" y1="510.30" x2="186.40" y2="511.90" stroke="#555" stroke-width="0.5"/>
<text x="186.40" y="520.20" font-size="7.9" text-anchor="middle" fill="#111">3</text>
<rect x="210.10" y="509.72" width="7.60" height="0.58" fill="url(#chk2)" stroke="#222" stroke-width="0.4"/>
<line x1="209.80" y1="510.30" x2="209.80" y2="511.90" stroke="#555" stroke-width="0.5"/>
<text x="209.80" y="520.20" font-size="7.9" text-anchor="middle" fill="#111">4</text>
<text x="184.20" y="530.20" font-size="8.0" text-anchor="middle" fill="#111">Number of signal per cell</text>
<text x="131.00" y="477.00" font-size="8.0" text-anchor="middle" fill="#111" transform="rotate(-90 131.0 477.0)">% Cell</text>
<rect x="174.00" y="454.70" width="9.40" height="4.60" fill="#111"/>
<rect x="174.00" y="463.10" width="9.40" height="4.60" fill="url(#chk2)"/>
<text x="185.10" y="459.80" font-size="7.9" fill="#111">Normal spleen</text>
<text x="185.10" y="468.20" font-size="7.9" fill="#111">Lymphoma</text>
<text x="318.10" y="441.90" font-size="8.1" text-anchor="middle" fill="#111">Chromosome 6</text>
<line x1="266.50" y1="451.90" x2="266.50" y2="510.40" stroke="#888" stroke-width="0.9"/>
<line x1="264.10" y1="510.40" x2="266.50" y2="510.40" stroke="#777" stroke-width="0.7"/>
<text x="262.10" y="511.80" font-size="7.1" text-anchor="end" fill="#111" style="stroke-width:0.4px">0</text>
<line x1="264.10" y1="498.80" x2="266.50" y2="498.80" stroke="#777" stroke-width="0.7"/>
<text x="262.10" y="500.20" font-size="7.1" text-anchor="end" fill="#111" style="stroke-width:0.4px">20</text>
<line x1="264.10" y1="487.20" x2="266.50" y2="487.20" stroke="#777" stroke-width="0.7"/>
<text x="262.10" y="488.60" font-size="7.1" text-anchor="end" fill="#111" style="stroke-width:0.4px">40</text>
<line x1="264.10" y1="475.60" x2="266.50" y2="475.60" stroke="#777" stroke-width="0.7"/>
<text x="262.10" y="477.00" font-size="7.1" text-anchor="end" fill="#111" style="stroke-width:0.4px">60</text>
<line x1="264.10" y1="464.00" x2="266.50" y2="464.00" stroke="#777" stroke-width="0.7"/>
<text x="262.10" y="465.40" font-size="7.1" text-anchor="end" fill="#111" style="stroke-width:0.4px">80</text>
<line x1="264.10" y1="452.40" x2="266.50" y2="452.40" stroke="#777" stroke-width="0.7"/>
<text x="262.10" y="453.80" font-size="7.1" text-anchor="end" fill="#111" style="stroke-width:0.4px">100</text>
<line x1="265.40" y1="504.60" x2="266.50" y2="504.60" stroke="#555" stroke-width="0.5"/>
<line x1="265.40" y1="493.00" x2="266.50" y2="493.00" stroke="#555" stroke-width="0.5"/>
<line x1="265.40" y1="481.40" x2="266.50" y2="481.40" stroke="#555" stroke-width="0.5"/>
<line x1="265.40" y1="469.80" x2="266.50" y2="469.80" stroke="#555" stroke-width="0.5"/>
<line x1="265.40" y1="458.20" x2="266.50" y2="458.20" stroke="#555" stroke-width="0.5"/>
<line x1="266.50" y1="510.40" x2="378.00" y2="510.40" stroke="#555" stroke-width="0.8"/>
<rect x="269.80" y="459.94" width="7.10" height="50.46" fill="#000"/>
<rect x="277.80" y="491.84" width="7.10" height="18.56" fill="url(#chk2)" stroke="#222" stroke-width="0.4"/>
<line x1="277.50" y1="510.40" x2="277.50" y2="512.00" stroke="#555" stroke-width="0.5"/>
<text x="277.50" y="520.20" font-size="7.9" text-anchor="middle" fill="#111">1-2</text>
<rect x="291.70" y="507.50" width="7.10" height="2.90" fill="#000"/>
<rect x="299.70" y="502.28" width="7.10" height="8.12" fill="url(#chk2)" stroke="#222" stroke-width="0.4"/>
<line x1="299.40" y1="510.40" x2="299.40" y2="512.00" stroke="#555" stroke-width="0.5"/>
<text x="299.40" y="520.20" font-size="7.9" text-anchor="middle" fill="#111">3</text>
<rect x="313.70" y="505.76" width="7.10" height="4.64" fill="#000"/>
<rect x="321.70" y="480.24" width="7.10" height="30.16" fill="url(#chk2)" stroke="#222" stroke-width="0.4"/>
<line x1="321.40" y1="510.40" x2="321.40" y2="512.00" stroke="#555" stroke-width="0.5"/>
<text x="321.40" y="520.20" font-size="7.9" text-anchor="middle" fill="#111">4</text>
<rect x="344.00" y="509.82" width="7.10" height="0.58" fill="url(#chk2)" stroke="#222" stroke-width="0.4"/>
<line x1="343.70" y1="510.40" x2="343.70" y2="512.00" stroke="#555" stroke-width="0.5"/>
<text x="343.70" y="520.20" font-size="7.9" text-anchor="middle" fill="#111">5</text>
<rect x="366.30" y="509.24" width="7.10" height="1.16" fill="url(#chk2)" stroke="#222" stroke-width="0.4"/>
<line x1="366.00" y1="510.40" x2="366.00" y2="512.00" stroke="#555" stroke-width="0.5"/>
<text x="366.00" y="520.20" font-size="7.9" text-anchor="middle" fill="#111">6</text>
<text x="314.70" y="529.70" font-size="8.0" text-anchor="middle" fill="#111">Number of signal per cell</text>
<text x="249.00" y="477.00" font-size="8.0" text-anchor="middle" fill="#111" transform="rotate(-90 249.0 477.0)">% Cell</text>
<rect x="282.50" y="455.00" width="11.00" height="4.60" fill="#111"/>
<rect x="282.50" y="463.40" width="11.00" height="4.60" fill="url(#chk2)"/>
<text x="295.20" y="460.10" font-size="7.9" fill="#111">Normal lung</text>
<text x="295.20" y="468.50" font-size="7.9" fill="#111">Lung carcinoma</text>
<text x="458.70" y="441.80" font-size="8.1" text-anchor="middle" fill="#111">Chromosome18</text>
<line x1="408.80" y1="451.70" x2="408.80" y2="510.20" stroke="#888" stroke-width="0.9"/>
<line x1="406.40" y1="510.20" x2="408.80" y2="510.20" stroke="#777" stroke-width="0.7"/>
<text x="404.40" y="511.60" font-size="7.1" text-anchor="end" fill="#111" style="stroke-width:0.4px">0</text>
<line x1="406.40" y1="498.60" x2="408.80" y2="498.60" stroke="#777" stroke-width="0.7"/>
<text x="404.40" y="500.00" font-size="7.1" text-anchor="end" fill="#111" style="stroke-width:0.4px">20</text>
<line x1="406.40" y1="487.00" x2="408.80" y2="487.00" stroke="#777" stroke-width="0.7"/>
<text x="404.40" y="488.40" font-size="7.1" text-anchor="end" fill="#111" style="stroke-width:0.4px">40</text>
<line x1="406.40" y1="475.40" x2="408.80" y2="475.40" stroke="#777" stroke-width="0.7"/>
<text x="404.40" y="476.80" font-size="7.1" text-anchor="end" fill="#111" style="stroke-width:0.4px">60</text>
<line x1="406.40" y1="463.80" x2="408.80" y2="463.80" stroke="#777" stroke-width="0.7"/>
<text x="404.40" y="465.20" font-size="7.1" text-anchor="end" fill="#111" style="stroke-width:0.4px">80</text>
<line x1="406.40" y1="452.20" x2="408.80" y2="452.20" stroke="#777" stroke-width="0.7"/>
<text x="404.40" y="453.60" font-size="7.1" text-anchor="end" fill="#111" style="stroke-width:0.4px">100</text>
<line x1="407.70" y1="504.40" x2="408.80" y2="504.40" stroke="#555" stroke-width="0.5"/>
<line x1="407.70" y1="492.80" x2="408.80" y2="492.80" stroke="#555" stroke-width="0.5"/>
<line x1="407.70" y1="481.20" x2="408.80" y2="481.20" stroke="#555" stroke-width="0.5"/>
<line x1="407.70" y1="469.60" x2="408.80" y2="469.60" stroke="#555" stroke-width="0.5"/>
<line x1="407.70" y1="458.00" x2="408.80" y2="458.00" stroke="#555" stroke-width="0.5"/>
<line x1="408.80" y1="510.20" x2="517.00" y2="510.20" stroke="#555" stroke-width="0.8"/>
<rect x="411.90" y="460.90" width="7.10" height="49.30" fill="#000"/>
<rect x="419.90" y="488.74" width="7.10" height="21.46" fill="url(#chk2)" stroke="#222" stroke-width="0.4"/>
<line x1="419.60" y1="510.20" x2="419.60" y2="511.80" stroke="#555" stroke-width="0.5"/>
<text x="419.60" y="519.80" font-size="7.9" text-anchor="middle" fill="#111">1-2</text>
<rect x="434.30" y="506.72" width="7.10" height="3.48" fill="#000"/>
<rect x="442.30" y="499.76" width="7.10" height="10.44" fill="url(#chk2)" stroke="#222" stroke-width="0.4"/>
<line x1="442.00" y1="510.20" x2="442.00" y2="511.80" stroke="#555" stroke-width="0.5"/>
<text x="442.00" y="519.80" font-size="7.9" text-anchor="middle" fill="#111">3</text>
<rect x="456.30" y="506.14" width="7.10" height="4.06" fill="#000"/>
<rect x="464.30" y="484.68" width="7.10" height="25.52" fill="url(#chk2)" stroke="#222" stroke-width="0.4"/>
<line x1="464.00" y1="510.20" x2="464.00" y2="511.80" stroke="#555" stroke-width="0.5"/>
<text x="464.00" y="519.80" font-size="7.9" text-anchor="middle" fill="#111">4</text>
<rect x="486.00" y="509.62" width="7.10" height="0.58" fill="url(#chk2)" stroke="#222" stroke-width="0.4"/>
<line x1="485.70" y1="510.20" x2="485.70" y2="511.80" stroke="#555" stroke-width="0.5"/>
<text x="485.70" y="519.80" font-size="7.9" text-anchor="middle" fill="#111">5</text>
<rect x="508.60" y="509.62" width="7.10" height="0.58" fill="url(#chk2)" stroke="#222" stroke-width="0.4"/>
<line x1="508.30" y1="510.20" x2="508.30" y2="511.80" stroke="#555" stroke-width="0.5"/>
<text x="508.30" y="519.80" font-size="7.9" text-anchor="middle" fill="#111">6</text>
<text x="462.10" y="529.70" font-size="8.0" text-anchor="middle" fill="#111">Number of signal per cell</text>
<text x="390.50" y="477.00" font-size="8.0" text-anchor="middle" fill="#111" transform="rotate(-90 390.5 477.0)">% Cell</text>
<rect x="426.00" y="453.40" width="12.60" height="4.60" fill="#111"/>
<rect x="426.00" y="461.80" width="12.60" height="4.60" fill="url(#chk2)"/>
<text x="440.30" y="458.50" font-size="7.9" fill="#111">Normal lung</text>
<text x="440.30" y="466.90" font-size="7.9" fill="#111">Lung carcinoma</text>
<text x="88.90" y="560.00" font-size="8.1" text-anchor="middle" fill="#111">Chromosome 6</text>
<line x1="38.00" y1="567.50" x2="38.00" y2="625.60" stroke="#888" stroke-width="0.9"/>
<line x1="35.60" y1="625.60" x2="38.00" y2="625.60" stroke="#777" stroke-width="0.7"/>
<text x="33.60" y="627.00" font-size="7.5" text-anchor="end" fill="#111" style="stroke-width:0.4px">0</text>
<line x1="35.60" y1="606.40" x2="38.00" y2="606.40" stroke="#777" stroke-width="0.7"/>
<text x="33.60" y="607.80" font-size="7.5" text-anchor="end" fill="#111" style="stroke-width:0.4px">20</text>
<line x1="35.60" y1="587.20" x2="38.00" y2="587.20" stroke="#777" stroke-width="0.7"/>
<text x="33.60" y="588.60" font-size="7.5" text-anchor="end" fill="#111" style="stroke-width:0.4px">40</text>
<line x1="35.60" y1="568.00" x2="38.00" y2="568.00" stroke="#777" stroke-width="0.7"/>
<text x="33.60" y="569.40" font-size="7.5" text-anchor="end" fill="#111" style="stroke-width:0.4px">60</text>
<line x1="36.90" y1="616.00" x2="38.00" y2="616.00" stroke="#555" stroke-width="0.5"/>
<line x1="36.90" y1="596.80" x2="38.00" y2="596.80" stroke="#555" stroke-width="0.5"/>
<line x1="36.90" y1="577.60" x2="38.00" y2="577.60" stroke="#555" stroke-width="0.5"/>
<line x1="38.00" y1="625.60" x2="146.20" y2="625.60" stroke="#555" stroke-width="0.8"/>
<rect x="40.10" y="577.60" width="5.90" height="48.00" fill="#000"/>
<rect x="46.90" y="572.80" width="5.90" height="52.80" fill="url(#chk2)" stroke="#222" stroke-width="0.4"/>
<line x1="46.60" y1="625.60" x2="46.60" y2="627.20" stroke="#555" stroke-width="0.5"/>
<text x="46.60" y="636.40" font-size="7.9" text-anchor="middle" fill="#111">1-2</text>
<rect x="58.50" y="614.08" width="5.90" height="11.52" fill="#000"/>
<rect x="65.30" y="616.96" width="5.90" height="8.64" fill="url(#chk2)" stroke="#222" stroke-width="0.4"/>
<line x1="65.00" y1="625.60" x2="65.00" y2="627.20" stroke="#555" stroke-width="0.5"/>
<text x="65.00" y="636.40" font-size="7.9" text-anchor="middle" fill="#111">3</text>
<rect x="76.70" y="592.96" width="5.90" height="32.64" fill="#000"/>
<rect x="83.50" y="613.12" width="5.90" height="12.48" fill="url(#chk2)" stroke="#222" stroke-width="0.4"/>
<line x1="83.20" y1="625.60" x2="83.20" y2="627.20" stroke="#555" stroke-width="0.5"/>
<text x="83.20" y="636.40" font-size="7.9" text-anchor="middle" fill="#111">4</text>
<rect x="94.80" y="623.68" width="5.90" height="1.92" fill="#000"/>
<rect x="101.60" y="613.12" width="5.90" height="12.48" fill="url(#chk2)" stroke="#222" stroke-width="0.4"/>
<line x1="101.30" y1="625.60" x2="101.30" y2="627.20" stroke="#555" stroke-width="0.5"/>
<text x="101.30" y="636.40" font-size="7.9" text-anchor="middle" fill="#111">5</text>
<rect x="112.80" y="623.68" width="5.90" height="1.92" fill="#000"/>
<rect x="119.60" y="619.84" width="5.90" height="5.76" fill="url(#chk2)" stroke="#222" stroke-width="0.4"/>
<line x1="119.30" y1="625.60" x2="119.30" y2="627.20" stroke="#555" stroke-width="0.5"/>
<text x="119.30" y="636.40" font-size="7.9" text-anchor="middle" fill="#111">6</text>
<rect x="137.70" y="620.80" width="5.90" height="4.80" fill="url(#chk2)" stroke="#222" stroke-width="0.4"/>
<line x1="137.40" y1="625.60" x2="137.40" y2="627.20" stroke="#555" stroke-width="0.5"/>
<text x="135.10" y="636.40" font-size="7.9" text-anchor="middle" fill="#111">≥7</text>
<text x="86.70" y="647.00" font-size="8.0" text-anchor="middle" fill="#111">Number of signal per cell</text>
<text x="18.60" y="591.40" font-size="8.0" text-anchor="middle" fill="#111" transform="rotate(-90 18.6 591.4)">% Cell</text>
<rect x="57.90" y="570.30" width="11.80" height="4.60" fill="#111"/>
<rect x="57.90" y="578.70" width="11.80" height="4.60" fill="url(#chk2)"/>
<text x="71.40" y="575.40" font-size="7.9" fill="#111">Normal liver</text>
<text x="71.40" y="583.80" font-size="7.9" fill="#111">Liver carcinoma</text>
<text x="224.20" y="560.00" font-size="8.1" text-anchor="middle" fill="#111">Chromosome18</text>
<line x1="173.70" y1="567.68" x2="173.70" y2="625.90" stroke="#888" stroke-width="0.9"/>
<line x1="171.30" y1="625.90" x2="173.70" y2="625.90" stroke="#777" stroke-width="0.7"/>
<text x="169.30" y="627.30" font-size="7.5" text-anchor="end" fill="#111" style="stroke-width:0.4px">0</text>
<line x1="171.30" y1="606.66" x2="173.70" y2="606.66" stroke="#777" stroke-width="0.7"/>
<text x="169.30" y="608.06" font-size="7.5" text-anchor="end" fill="#111" style="stroke-width:0.4px">20</text>
<line x1="171.30" y1="587.42" x2="173.70" y2="587.42" stroke="#777" stroke-width="0.7"/>
<text x="169.30" y="588.82" font-size="7.5" text-anchor="end" fill="#111" style="stroke-width:0.4px">40</text>
<line x1="171.30" y1="568.18" x2="173.70" y2="568.18" stroke="#777" stroke-width="0.7"/>
<text x="169.30" y="569.58" font-size="7.5" text-anchor="end" fill="#111" style="stroke-width:0.4px">60</text>
<line x1="172.60" y1="616.28" x2="173.70" y2="616.28" stroke="#555" stroke-width="0.5"/>
<line x1="172.60" y1="597.04" x2="173.70" y2="597.04" stroke="#555" stroke-width="0.5"/>
<line x1="172.60" y1="577.80" x2="173.70" y2="577.80" stroke="#555" stroke-width="0.5"/>
<line x1="173.70" y1="625.90" x2="279.50" y2="625.90" stroke="#555" stroke-width="0.8"/>
<rect x="176.80" y="571.07" width="5.80" height="54.83" fill="#000"/>
<rect x="183.50" y="574.91" width="5.80" height="50.99" fill="url(#chk2)" stroke="#222" stroke-width="0.4"/>
<line x1="183.20" y1="625.90" x2="183.20" y2="627.50" stroke="#555" stroke-width="0.5"/>
<text x="183.20" y="636.20" font-size="7.9" text-anchor="middle" fill="#111">1-2</text>
<rect x="194.40" y="615.32" width="5.80" height="10.58" fill="#000"/>
<rect x="201.10" y="615.32" width="5.80" height="10.58" fill="url(#chk2)" stroke="#222" stroke-width="0.4"/>
<line x1="200.80" y1="625.90" x2="200.80" y2="627.50" stroke="#555" stroke-width="0.5"/>
<text x="200.80" y="636.20" font-size="7.9" text-anchor="middle" fill="#111">3</text>
<rect x="212.00" y="596.08" width="5.80" height="29.82" fill="#000"/>
<rect x="218.70" y="610.51" width="5.80" height="15.39" fill="url(#chk2)" stroke="#222" stroke-width="0.4"/>
<line x1="218.40" y1="625.90" x2="218.40" y2="627.50" stroke="#555" stroke-width="0.5"/>
<text x="218.40" y="636.20" font-size="7.9" text-anchor="middle" fill="#111">4</text>
<rect x="236.10" y="618.20" width="5.80" height="7.70" fill="url(#chk2)" stroke="#222" stroke-width="0.4"/>
<line x1="235.80" y1="625.90" x2="235.80" y2="627.50" stroke="#555" stroke-width="0.5"/>
<text x="235.80" y="636.20" font-size="7.9" text-anchor="middle" fill="#111">5</text>
<rect x="246.80" y="624.94" width="5.80" height="0.96" fill="#000"/>
<rect x="253.50" y="619.17" width="5.80" height="6.73" fill="url(#chk2)" stroke="#222" stroke-width="0.4"/>
<line x1="253.20" y1="625.90" x2="253.20" y2="627.50" stroke="#555" stroke-width="0.5"/>
<text x="253.20" y="636.20" font-size="7.9" text-anchor="middle" fill="#111">6</text>
<rect x="271.10" y="622.05" width="5.80" height="3.85" fill="url(#chk2)" stroke="#222" stroke-width="0.4"/>
<line x1="270.80" y1="625.90" x2="270.80" y2="627.50" stroke="#555" stroke-width="0.5"/>
<text x="268.50" y="636.20" font-size="7.9" text-anchor="middle" fill="#111">≥7</text>
<text x="221.30" y="647.50" font-size="8.0" text-anchor="middle" fill="#111">Number of signal per cell</text>
<text x="154.20" y="591.40" font-size="8.0" text-anchor="middle" fill="#111" transform="rotate(-90 154.2 591.4)">% Cell</text>
<rect x="196.00" y="570.30" width="11.30" height="4.60" fill="#111"/>
<rect x="196.00" y="578.70" width="11.30" height="4.60" fill="url(#chk2)"/>
<text x="209.00" y="575.40" font-size="7.9" fill="#111">Normal liver</text>
<text x="209.00" y="583.80" font-size="7.9" fill="#111">Liver carcinoma</text>
<rect x="308.00" y="543.50" width="203.90" height="109.20" fill="none" stroke="#111" stroke-width="1.1"/>
<line x1="384.20" y1="543.50" x2="384.20" y2="652.70" stroke="#111" stroke-width="1.0"/>
<line x1="420.90" y1="557.50" x2="420.90" y2="652.70" stroke="#111" stroke-width="1.0"/>
<line x1="456.20" y1="557.50" x2="456.20" y2="652.70" stroke="#111" stroke-width="1.0"/>
<line x1="384.20" y1="557.50" x2="511.90" y2="557.50" stroke="#111" stroke-width="1.0"/>
<line x1="308.00" y1="570.70" x2="511.90" y2="570.70" stroke="#111" stroke-width="1.0"/>
<line x1="308.00" y1="584.40" x2="511.90" y2="584.40" stroke="#111" stroke-width="1.0"/>
<line x1="308.00" y1="598.00" x2="511.90" y2="598.00" stroke="#111" stroke-width="1.0"/>
<line x1="308.00" y1="611.70" x2="511.90" y2="611.70" stroke="#111" stroke-width="1.0"/>
<line x1="308.00" y1="625.40" x2="511.90" y2="625.40" stroke="#111" stroke-width="1.0"/>
<line x1="308.00" y1="639.00" x2="511.90" y2="639.00" stroke="#111" stroke-width="1.0"/>
<text x="346.10" y="559.80" font-size="7.1" text-anchor="middle" fill="#111">Tissue specimen</text>
<text x="448.00" y="553.10" font-size="7.1" text-anchor="middle" fill="#111">% of Gains for</text>
<text x="402.50" y="566.60" font-size="7.1" text-anchor="middle" fill="#111">Chr 6</text>
<text x="438.50" y="566.60" font-size="7.1" text-anchor="middle" fill="#111">Chr 18</text>
<text x="484.00" y="566.60" font-size="7.1" text-anchor="middle" fill="#111">6 and/or 18</text>
<text x="313.10" y="580.05" font-size="7.1" fill="#111">Normal spleen</text>
<text x="402.50" y="580.05" font-size="7.1" text-anchor="middle" fill="#111">0</text>
<text x="438.50" y="580.05" font-size="7.1" text-anchor="middle" fill="#111">0</text>
<text x="484.00" y="580.05" font-size="7.1" text-anchor="middle" fill="#111">0</text>
<text x="313.10" y="593.70" font-size="7.1" fill="#111">Splenic lymphoma</text>
<text x="402.50" y="593.70" font-size="7.1" text-anchor="middle" fill="#111">14</text>
<text x="438.50" y="593.70" font-size="7.1" text-anchor="middle" fill="#111">10</text>
<text x="484.00" y="593.70" font-size="7.1" text-anchor="middle" fill="#111">20</text>
<text x="313.10" y="607.35" font-size="7.1" fill="#111">Normal lung</text>
<text x="402.50" y="607.35" font-size="7.1" text-anchor="middle" fill="#111">13</text>
<text x="438.50" y="607.35" font-size="7.1" text-anchor="middle" fill="#111">15</text>
<text x="484.00" y="607.35" font-size="7.1" text-anchor="middle" fill="#111">15</text>
<text x="313.10" y="621.05" font-size="7.1" fill="#111">Lung carcinoma</text>
<text x="402.50" y="621.05" font-size="7.1" text-anchor="middle" fill="#111">68</text>
<text x="438.50" y="621.05" font-size="7.1" text-anchor="middle" fill="#111">63</text>
<text x="484.00" y="621.05" font-size="7.1" text-anchor="middle" fill="#111">71</text>
<text x="313.10" y="634.70" font-size="7.1" fill="#111">Normal liver</text>
<text x="402.50" y="634.70" font-size="7.1" text-anchor="middle" fill="#111">4</text>
<text x="438.50" y="634.70" font-size="7.1" text-anchor="middle" fill="#111">1</text>
<text x="484.00" y="634.70" font-size="7.1" text-anchor="middle" fill="#111">4</text>
<text x="313.10" y="648.35" font-size="7.1" fill="#111">Liver carcinoma</text>
<text x="402.50" y="648.35" font-size="7.1" text-anchor="middle" fill="#111">24</text>
<text x="438.50" y="648.35" font-size="7.1" text-anchor="middle" fill="#111">20</text>
<text x="484.00" y="648.35" font-size="7.1" text-anchor="middle" fill="#111">28</text>
</svg></body></html>
